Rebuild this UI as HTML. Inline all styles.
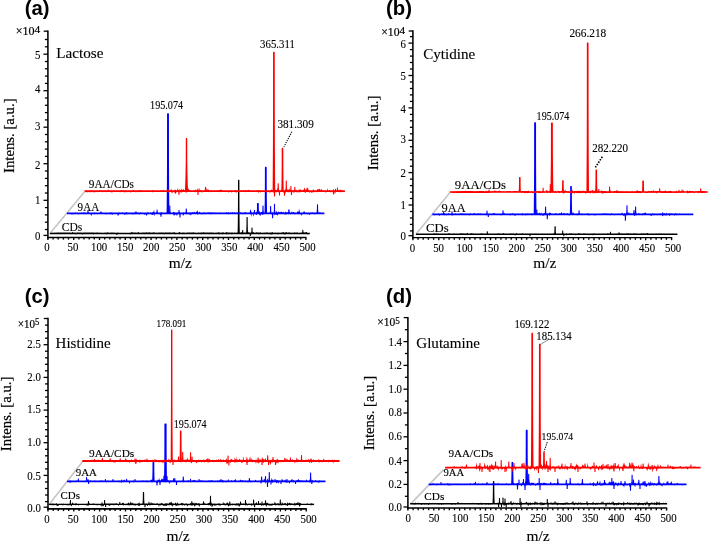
<!DOCTYPE html>
<html><head><meta charset="utf-8"><title>Mass spectra</title>
<style>html,body{margin:0;padding:0;background:#fff}svg{display:block}</style>
</head><body>
<svg width="709" height="544" viewBox="0 0 709 544" font-family='"Liberation Serif","DejaVu Serif",serif' fill="#000">
<rect width="709" height="544" fill="#fff"/>
<line x1="50.5" y1="232.8" x2="84.8" y2="191.6" stroke="#c6c6c6" stroke-width="1.6"/>
<line x1="47.9" y1="30.5" x2="47.9" y2="238.3" stroke="#000" stroke-width="1.55"/>
<line x1="47.1" y1="237.4" x2="306.5" y2="237.4" stroke="#000" stroke-width="1.45"/>
<line x1="43.5" y1="235.4" x2="47.9" y2="235.4" stroke="#000" stroke-width="1.3"/>
<line x1="44.9" y1="229.5" x2="47.9" y2="229.5" stroke="#000" stroke-width="1.3"/>
<line x1="44.9" y1="222.2" x2="47.9" y2="222.2" stroke="#000" stroke-width="1.3"/>
<line x1="44.9" y1="214.9" x2="47.9" y2="214.9" stroke="#000" stroke-width="1.3"/>
<line x1="44.9" y1="207.6" x2="47.9" y2="207.6" stroke="#000" stroke-width="1.3"/>
<line x1="43.5" y1="200.3" x2="47.9" y2="200.3" stroke="#000" stroke-width="1.3"/>
<line x1="44.9" y1="193.0" x2="47.9" y2="193.0" stroke="#000" stroke-width="1.3"/>
<line x1="44.9" y1="185.7" x2="47.9" y2="185.7" stroke="#000" stroke-width="1.3"/>
<line x1="44.9" y1="178.4" x2="47.9" y2="178.4" stroke="#000" stroke-width="1.3"/>
<line x1="44.9" y1="171.0" x2="47.9" y2="171.0" stroke="#000" stroke-width="1.3"/>
<line x1="43.5" y1="163.7" x2="47.9" y2="163.7" stroke="#000" stroke-width="1.3"/>
<line x1="44.9" y1="156.4" x2="47.9" y2="156.4" stroke="#000" stroke-width="1.3"/>
<line x1="44.9" y1="149.1" x2="47.9" y2="149.1" stroke="#000" stroke-width="1.3"/>
<line x1="44.9" y1="141.8" x2="47.9" y2="141.8" stroke="#000" stroke-width="1.3"/>
<line x1="44.9" y1="134.5" x2="47.9" y2="134.5" stroke="#000" stroke-width="1.3"/>
<line x1="43.5" y1="127.2" x2="47.9" y2="127.2" stroke="#000" stroke-width="1.3"/>
<line x1="44.9" y1="119.9" x2="47.9" y2="119.9" stroke="#000" stroke-width="1.3"/>
<line x1="44.9" y1="112.6" x2="47.9" y2="112.6" stroke="#000" stroke-width="1.3"/>
<line x1="44.9" y1="105.3" x2="47.9" y2="105.3" stroke="#000" stroke-width="1.3"/>
<line x1="44.9" y1="98.0" x2="47.9" y2="98.0" stroke="#000" stroke-width="1.3"/>
<line x1="43.5" y1="90.7" x2="47.9" y2="90.7" stroke="#000" stroke-width="1.3"/>
<line x1="44.9" y1="83.4" x2="47.9" y2="83.4" stroke="#000" stroke-width="1.3"/>
<line x1="44.9" y1="76.1" x2="47.9" y2="76.1" stroke="#000" stroke-width="1.3"/>
<line x1="44.9" y1="68.8" x2="47.9" y2="68.8" stroke="#000" stroke-width="1.3"/>
<line x1="44.9" y1="61.5" x2="47.9" y2="61.5" stroke="#000" stroke-width="1.3"/>
<line x1="43.5" y1="54.2" x2="47.9" y2="54.2" stroke="#000" stroke-width="1.3"/>
<line x1="44.9" y1="46.8" x2="47.9" y2="46.8" stroke="#000" stroke-width="1.3"/>
<line x1="44.9" y1="39.5" x2="47.9" y2="39.5" stroke="#000" stroke-width="1.3"/>
<line x1="43.7" y1="31.2" x2="47.9" y2="31.2" stroke="#000" stroke-width="1.3"/>
<text x="40.4" y="239.7" font-size="12" text-anchor="end" textLength="5.4" lengthAdjust="spacingAndGlyphs" stroke="#000" stroke-width="0.12">0</text>
<text x="40.4" y="204.4" font-size="12" text-anchor="end" textLength="5.4" lengthAdjust="spacingAndGlyphs" stroke="#000" stroke-width="0.12">1</text>
<text x="40.4" y="168.8" font-size="12" text-anchor="end" textLength="5.4" lengthAdjust="spacingAndGlyphs" stroke="#000" stroke-width="0.12">2</text>
<text x="40.4" y="129.5" font-size="12" text-anchor="end" textLength="5.4" lengthAdjust="spacingAndGlyphs" stroke="#000" stroke-width="0.12">3</text>
<text x="40.4" y="93.3" font-size="12" text-anchor="end" textLength="5.4" lengthAdjust="spacingAndGlyphs" stroke="#000" stroke-width="0.12">4</text>
<text x="40.4" y="59.4" font-size="12" text-anchor="end" textLength="5.4" lengthAdjust="spacingAndGlyphs" stroke="#000" stroke-width="0.12">5</text>
<line x1="47.9" y1="237.4" x2="47.9" y2="240.0" stroke="#000" stroke-width="1.35"/>
<text x="47.0" y="250.9" font-size="12.4" text-anchor="middle" textLength="5.4" lengthAdjust="spacingAndGlyphs" stroke="#000" stroke-width="0.12">0</text>
<line x1="53.1" y1="237.4" x2="53.1" y2="239.6" stroke="#000" stroke-width="1.35"/>
<line x1="58.2" y1="237.4" x2="58.2" y2="239.6" stroke="#000" stroke-width="1.35"/>
<line x1="63.4" y1="237.4" x2="63.4" y2="239.6" stroke="#000" stroke-width="1.35"/>
<line x1="68.5" y1="237.4" x2="68.5" y2="239.6" stroke="#000" stroke-width="1.35"/>
<line x1="73.7" y1="237.4" x2="73.7" y2="240.0" stroke="#000" stroke-width="1.35"/>
<text x="73.0" y="250.9" font-size="12.4" text-anchor="middle" textLength="10.8" lengthAdjust="spacingAndGlyphs" stroke="#000" stroke-width="0.12">50</text>
<line x1="78.9" y1="237.4" x2="78.9" y2="239.6" stroke="#000" stroke-width="1.35"/>
<line x1="84.0" y1="237.4" x2="84.0" y2="239.6" stroke="#000" stroke-width="1.35"/>
<line x1="89.2" y1="237.4" x2="89.2" y2="239.6" stroke="#000" stroke-width="1.35"/>
<line x1="94.3" y1="237.4" x2="94.3" y2="239.6" stroke="#000" stroke-width="1.35"/>
<line x1="99.5" y1="237.4" x2="99.5" y2="240.0" stroke="#000" stroke-width="1.35"/>
<text x="99.1" y="250.9" font-size="12.4" text-anchor="middle" textLength="16.2" lengthAdjust="spacingAndGlyphs" stroke="#000" stroke-width="0.12">100</text>
<line x1="104.7" y1="237.4" x2="104.7" y2="239.6" stroke="#000" stroke-width="1.35"/>
<line x1="109.8" y1="237.4" x2="109.8" y2="239.6" stroke="#000" stroke-width="1.35"/>
<line x1="115.0" y1="237.4" x2="115.0" y2="239.6" stroke="#000" stroke-width="1.35"/>
<line x1="120.1" y1="237.4" x2="120.1" y2="239.6" stroke="#000" stroke-width="1.35"/>
<line x1="125.3" y1="237.4" x2="125.3" y2="240.0" stroke="#000" stroke-width="1.35"/>
<text x="125.2" y="250.9" font-size="12.4" text-anchor="middle" textLength="16.2" lengthAdjust="spacingAndGlyphs" stroke="#000" stroke-width="0.12">150</text>
<line x1="130.5" y1="237.4" x2="130.5" y2="239.6" stroke="#000" stroke-width="1.35"/>
<line x1="135.6" y1="237.4" x2="135.6" y2="239.6" stroke="#000" stroke-width="1.35"/>
<line x1="140.8" y1="237.4" x2="140.8" y2="239.6" stroke="#000" stroke-width="1.35"/>
<line x1="145.9" y1="237.4" x2="145.9" y2="239.6" stroke="#000" stroke-width="1.35"/>
<line x1="151.1" y1="237.4" x2="151.1" y2="240.0" stroke="#000" stroke-width="1.35"/>
<text x="151.2" y="250.9" font-size="12.4" text-anchor="middle" textLength="16.2" lengthAdjust="spacingAndGlyphs" stroke="#000" stroke-width="0.12">200</text>
<line x1="156.3" y1="237.4" x2="156.3" y2="239.6" stroke="#000" stroke-width="1.35"/>
<line x1="161.4" y1="237.4" x2="161.4" y2="239.6" stroke="#000" stroke-width="1.35"/>
<line x1="166.6" y1="237.4" x2="166.6" y2="239.6" stroke="#000" stroke-width="1.35"/>
<line x1="171.7" y1="237.4" x2="171.7" y2="239.6" stroke="#000" stroke-width="1.35"/>
<line x1="176.9" y1="237.4" x2="176.9" y2="240.0" stroke="#000" stroke-width="1.35"/>
<text x="177.2" y="250.9" font-size="12.4" text-anchor="middle" textLength="16.2" lengthAdjust="spacingAndGlyphs" stroke="#000" stroke-width="0.12">250</text>
<line x1="182.1" y1="237.4" x2="182.1" y2="239.6" stroke="#000" stroke-width="1.35"/>
<line x1="187.2" y1="237.4" x2="187.2" y2="239.6" stroke="#000" stroke-width="1.35"/>
<line x1="192.4" y1="237.4" x2="192.4" y2="239.6" stroke="#000" stroke-width="1.35"/>
<line x1="197.5" y1="237.4" x2="197.5" y2="239.6" stroke="#000" stroke-width="1.35"/>
<line x1="202.7" y1="237.4" x2="202.7" y2="240.0" stroke="#000" stroke-width="1.35"/>
<text x="203.3" y="250.9" font-size="12.4" text-anchor="middle" textLength="16.2" lengthAdjust="spacingAndGlyphs" stroke="#000" stroke-width="0.12">300</text>
<line x1="207.9" y1="237.4" x2="207.9" y2="239.6" stroke="#000" stroke-width="1.35"/>
<line x1="213.0" y1="237.4" x2="213.0" y2="239.6" stroke="#000" stroke-width="1.35"/>
<line x1="218.2" y1="237.4" x2="218.2" y2="239.6" stroke="#000" stroke-width="1.35"/>
<line x1="223.3" y1="237.4" x2="223.3" y2="239.6" stroke="#000" stroke-width="1.35"/>
<line x1="228.5" y1="237.4" x2="228.5" y2="240.0" stroke="#000" stroke-width="1.35"/>
<text x="229.3" y="250.9" font-size="12.4" text-anchor="middle" textLength="16.2" lengthAdjust="spacingAndGlyphs" stroke="#000" stroke-width="0.12">350</text>
<line x1="233.7" y1="237.4" x2="233.7" y2="239.6" stroke="#000" stroke-width="1.35"/>
<line x1="238.8" y1="237.4" x2="238.8" y2="239.6" stroke="#000" stroke-width="1.35"/>
<line x1="244.0" y1="237.4" x2="244.0" y2="239.6" stroke="#000" stroke-width="1.35"/>
<line x1="249.1" y1="237.4" x2="249.1" y2="239.6" stroke="#000" stroke-width="1.35"/>
<line x1="254.3" y1="237.4" x2="254.3" y2="240.0" stroke="#000" stroke-width="1.35"/>
<text x="255.4" y="250.9" font-size="12.4" text-anchor="middle" textLength="16.2" lengthAdjust="spacingAndGlyphs" stroke="#000" stroke-width="0.12">400</text>
<line x1="259.5" y1="237.4" x2="259.5" y2="239.6" stroke="#000" stroke-width="1.35"/>
<line x1="264.6" y1="237.4" x2="264.6" y2="239.6" stroke="#000" stroke-width="1.35"/>
<line x1="269.8" y1="237.4" x2="269.8" y2="239.6" stroke="#000" stroke-width="1.35"/>
<line x1="274.9" y1="237.4" x2="274.9" y2="239.6" stroke="#000" stroke-width="1.35"/>
<line x1="280.1" y1="237.4" x2="280.1" y2="240.0" stroke="#000" stroke-width="1.35"/>
<text x="281.5" y="250.9" font-size="12.4" text-anchor="middle" textLength="16.2" lengthAdjust="spacingAndGlyphs" stroke="#000" stroke-width="0.12">450</text>
<line x1="285.3" y1="237.4" x2="285.3" y2="239.6" stroke="#000" stroke-width="1.35"/>
<line x1="290.4" y1="237.4" x2="290.4" y2="239.6" stroke="#000" stroke-width="1.35"/>
<line x1="295.6" y1="237.4" x2="295.6" y2="239.6" stroke="#000" stroke-width="1.35"/>
<line x1="300.7" y1="237.4" x2="300.7" y2="239.6" stroke="#000" stroke-width="1.35"/>
<line x1="305.9" y1="237.4" x2="305.9" y2="240.0" stroke="#000" stroke-width="1.35"/>
<text x="307.5" y="250.9" font-size="12.4" text-anchor="middle" textLength="16.2" lengthAdjust="spacingAndGlyphs" stroke="#000" stroke-width="0.12">500</text>
<polygon points="49.8,232.7 58.3,232.6 59.0,232.5 63.3,232.6 63.8,232.6 69.3,232.6 70.0,232.5 71.5,232.7 71.8,232.6 72.3,232.0 72.5,232.1 73.0,232.6 73.8,232.6 74.5,232.5 76.5,232.7 77.0,232.3 77.5,232.6 80.8,232.6 81.3,232.6 82.3,232.7 82.8,232.6 93.8,232.6 94.3,232.4 94.8,232.7 96.0,232.6 96.3,232.5 103.8,232.7 104.8,232.4 106.3,232.7 107.3,232.3 108.3,232.6 110.0,232.7 111.0,232.3 111.8,232.7 112.3,232.6 112.8,232.5 116.5,232.7 117.3,232.5 118.3,232.7 118.8,232.5 119.3,232.7 130.3,232.7 130.8,232.5 131.1,232.5 131.8,231.8 132.6,232.5 135.8,232.6 136.3,232.6 136.8,232.7 137.3,232.5 137.8,232.4 138.3,231.9 138.6,231.9 139.1,232.4 139.6,232.7 143.3,232.6 144.1,232.5 146.1,232.6 146.3,232.3 146.6,232.1 146.8,232.4 147.1,232.6 147.8,232.6 148.3,232.4 148.8,232.6 149.6,232.3 150.3,232.6 151.1,232.4 152.1,232.7 152.3,232.7 153.1,231.9 153.6,232.4 154.1,232.3 155.3,232.7 156.8,232.5 157.6,232.7 158.6,232.4 162.3,232.6 163.1,232.4 163.6,232.5 164.1,232.5 164.6,232.7 165.3,232.6 165.8,232.3 166.1,232.4 166.6,232.6 168.1,232.5 169.1,232.6 169.3,232.6 170.1,232.2 170.8,232.7 171.6,232.5 172.1,232.6 173.3,232.6 173.6,232.5 174.3,232.0 175.3,232.7 178.3,232.7 178.6,232.6 179.1,232.0 179.3,232.3 179.6,232.0 179.8,232.1 180.1,232.6 181.3,232.7 182.1,232.4 182.3,232.5 183.1,232.4 186.3,232.7 186.6,232.6 187.1,232.4 187.6,232.5 191.6,232.6 192.1,232.5 192.6,232.5 193.1,232.2 193.3,232.2 193.8,232.5 194.3,232.5 194.8,232.4 196.1,232.7 198.6,232.6 199.1,232.4 199.6,232.7 200.3,232.6 201.1,232.5 201.8,232.6 202.3,232.5 202.8,232.6 203.1,232.5 203.3,232.2 203.6,232.0 203.8,232.3 204.3,232.6 210.8,232.6 211.6,232.4 212.8,232.6 213.3,232.5 213.8,232.7 218.1,232.6 218.6,232.3 219.1,232.2 220.1,232.7 221.1,232.5 222.3,232.7 223.1,231.8 223.8,232.7 225.1,232.7 225.6,232.5 226.1,232.1 226.3,232.0 226.6,232.3 227.8,232.6 229.3,232.6 230.1,232.5 230.8,232.7 231.1,232.6 231.6,232.4 231.8,232.5 232.6,232.4 233.3,232.7 233.6,232.7 234.1,232.4 234.3,232.4 234.6,232.5 234.8,232.5 236.1,232.7 236.6,232.5 240.6,232.6 241.1,231.9 241.3,232.1 241.6,232.4 241.8,232.5 242.1,232.4 242.3,232.1 242.8,232.7 244.1,232.5 244.8,232.6 245.1,232.4 245.3,232.3 245.8,232.7 247.6,232.6 247.8,232.5 248.3,231.8 248.8,232.4 249.1,232.6 250.8,232.5 251.6,232.7 252.6,232.2 252.8,232.3 253.3,232.0 254.1,232.5 254.3,232.7 256.1,232.6 256.3,232.5 256.8,231.9 257.3,232.4 257.6,232.5 257.8,232.5 258.6,232.6 259.8,232.6 260.3,232.2 260.6,232.3 261.1,232.7 266.1,232.6 266.6,232.5 266.8,232.6 267.6,232.3 268.6,232.7 270.3,232.6 270.8,232.5 271.1,232.3 271.3,232.5 271.8,232.6 272.6,232.1 273.1,232.6 273.3,232.7 275.8,232.5 276.8,232.7 278.1,232.5 279.3,232.7 279.8,232.5 280.3,232.7 281.6,232.6 282.1,232.2 282.3,232.2 282.6,232.4 283.1,232.0 284.1,232.6 284.3,232.7 284.8,232.5 285.3,232.6 286.1,231.9 286.3,231.9 287.1,232.6 288.3,232.7 288.8,232.1 289.1,232.2 289.3,232.5 289.6,232.6 289.8,232.6 290.6,232.4 291.6,232.7 294.1,232.6 294.6,232.3 295.3,232.6 296.1,232.7 296.8,232.2 297.1,232.2 298.1,232.7 302.8,232.6 303.8,232.3 304.6,232.6 304.8,232.6 305.6,232.3 305.8,232.3 306.3,231.8 307.1,232.6 307.3,232.7 309.8,232.7 309.8,234.2 309.3,234.2 307.8,234.4 306.8,234.2 301.6,234.2 301.1,234.3 300.6,234.2 300.1,234.3 299.6,234.2 287.3,234.2 286.6,234.3 285.8,234.2 285.1,234.8 284.8,234.8 284.1,234.2 278.6,234.2 277.8,234.4 277.1,234.2 272.8,234.2 271.8,234.7 271.1,234.3 270.6,234.4 270.3,234.4 269.6,234.2 269.1,234.4 268.6,234.2 259.6,234.2 258.8,234.5 258.1,234.2 252.1,234.2 251.8,234.5 251.6,234.6 251.1,234.2 242.6,234.2 241.3,234.4 241.1,234.2 240.3,234.3 239.8,234.2 236.8,234.3 235.8,234.2 232.1,234.2 231.6,234.4 231.1,234.2 230.1,234.2 229.6,234.2 228.6,234.2 228.1,234.5 227.3,234.2 226.8,234.2 226.6,234.5 226.3,234.7 226.1,234.4 225.8,234.2 225.3,234.3 223.6,234.2 222.6,234.4 221.6,234.2 220.3,234.2 219.6,234.4 219.1,234.2 212.3,234.2 211.6,234.2 209.8,234.3 209.6,234.4 209.3,234.4 209.1,234.3 208.6,234.2 205.3,234.3 205.1,234.5 204.6,234.2 202.3,234.2 202.1,234.3 201.8,234.5 201.6,234.5 201.3,234.3 201.1,234.2 192.1,234.2 191.6,234.3 191.3,234.3 190.8,234.2 189.3,234.3 188.8,234.2 184.1,234.3 183.3,234.2 182.3,234.4 181.8,234.2 181.3,234.3 181.1,234.2 180.8,234.3 180.1,234.2 178.3,234.2 175.8,234.2 175.3,234.4 174.8,234.2 165.6,234.2 165.1,234.3 164.3,234.4 163.8,234.2 161.6,234.3 148.6,234.2 148.1,234.3 147.3,234.2 144.8,234.2 144.6,234.4 144.3,234.4 144.1,234.3 143.1,234.2 142.8,234.2 142.3,234.2 141.8,234.3 141.3,234.2 140.6,234.3 139.8,234.2 134.6,234.2 133.1,234.3 132.6,234.2 131.1,234.2 130.3,234.6 130.1,234.5 129.3,234.2 118.5,234.2 117.8,234.4 117.5,234.4 116.8,234.9 115.8,234.2 108.3,234.2 107.5,234.2 106.0,234.4 105.5,234.2 100.8,234.2 100.3,234.3 99.8,234.2 94.0,234.2 93.5,234.5 93.3,234.5 92.8,234.2 83.5,234.2 83.3,234.3 82.8,234.6 82.5,234.7 81.8,234.2 76.5,234.2 75.8,234.4 75.5,234.4 74.8,234.2 61.8,234.2 61.3,234.4 60.5,234.2 49.8,234.2" fill="#000000"/>
<polygon points="237.60,233.4 237.73,227.0 237.86,217.5 237.96,204.2 238.00,180.4 238.28,179.8 239.12,179.8 239.40,180.4 239.44,204.2 239.54,217.5 239.67,227.0 239.80,233.4" fill="#000000"/>
<polygon points="246.10,233.4 246.23,231.5 246.36,228.7 246.46,224.7 246.50,217.6 246.74,217.0 247.46,217.0 247.70,217.6 247.74,224.7 247.84,228.7 247.97,231.5 248.10,233.4" fill="#000000"/>
<polygon points="251.10,233.4 251.21,232.8 251.33,231.8 251.42,230.5 251.45,228.1 251.67,227.5 252.33,227.5 252.55,228.1 252.58,230.5 252.67,231.8 252.79,232.8 252.90,233.4" fill="#000000"/>
<polygon points="241.80,233.4 241.91,233.1 242.03,232.6 242.12,231.9 242.15,230.6 242.37,230.0 243.03,230.0 243.25,230.6 243.28,231.9 243.37,232.6 243.49,233.1 243.60,233.4" fill="#000000"/>
<polygon points="302.00,233.4 302.08,233.0 302.16,232.5 302.23,231.8 302.25,230.4 302.47,229.8 303.13,229.8 303.35,230.4 303.37,231.8 303.44,232.5 303.52,233.0 303.60,233.4" fill="#000000"/>
<polygon points="249.60,233.4 249.65,233.7 249.70,234.2 249.74,234.8 249.75,236.0 250.85,236.0 250.86,234.8 250.90,234.2 250.95,233.7 251.00,233.4" fill="#000000"/>
<polygon points="66.9,212.6 74.9,212.6 75.4,212.2 75.7,212.2 76.2,212.5 81.2,212.5 81.7,212.3 82.2,212.5 83.2,212.6 83.9,212.0 84.7,212.6 89.9,212.5 93.7,212.6 94.4,212.2 95.2,212.5 99.4,212.6 100.4,212.3 101.4,212.6 102.9,212.4 110.4,212.6 110.9,212.1 111.2,212.0 111.7,212.5 118.2,212.5 119.2,212.3 119.9,212.5 120.7,212.4 121.7,212.6 122.2,212.0 122.7,212.6 125.2,212.6 125.9,212.3 126.4,211.9 127.2,212.5 128.9,212.4 129.4,212.4 130.2,212.6 133.9,212.5 134.7,212.3 139.7,212.6 139.9,212.5 140.2,212.2 140.4,212.1 140.9,212.6 141.4,212.5 143.4,212.5 143.9,212.4 146.4,212.5 147.4,212.4 147.7,212.0 147.9,211.8 148.4,212.6 150.2,212.6 150.7,212.3 150.9,212.3 151.2,212.5 151.9,212.6 152.9,212.1 153.4,212.3 153.9,209.7 154.2,210.4 154.4,211.9 154.7,212.5 155.9,212.6 156.2,212.4 156.9,209.0 157.2,209.0 157.9,212.4 158.2,212.6 159.7,212.5 160.2,212.4 160.9,212.3 161.2,212.4 161.4,212.3 161.7,212.0 161.9,212.1 162.4,212.6 165.9,212.6 166.4,212.3 166.7,212.4 167.7,211.9 167.9,212.0 168.7,212.5 168.9,212.5 169.4,212.2 169.7,212.1 170.2,212.4 170.4,212.4 171.2,212.6 171.9,212.4 172.7,212.6 173.2,212.0 173.4,212.1 173.9,211.7 174.9,212.5 176.9,212.6 177.4,212.3 177.9,212.5 178.4,212.6 179.4,212.1 180.2,212.5 183.2,212.6 183.4,212.4 183.9,212.1 184.2,212.3 184.9,212.6 188.4,212.5 189.2,212.3 189.9,212.5 190.7,212.3 191.2,212.4 191.4,212.2 191.9,212.5 192.4,212.1 192.7,212.1 193.2,212.5 193.4,212.4 193.7,212.0 193.9,212.0 194.2,212.0 194.4,211.4 194.9,212.4 195.2,212.5 195.9,212.3 196.2,212.1 196.4,212.1 197.2,210.3 197.4,210.4 197.7,211.4 197.9,212.1 198.2,212.6 198.4,212.6 198.7,212.4 198.9,211.9 199.2,211.9 199.4,211.7 199.7,211.7 200.4,212.6 202.7,212.5 203.4,212.3 204.2,212.4 204.4,212.2 204.7,212.2 205.2,212.5 205.7,212.6 206.2,212.3 206.4,212.4 206.7,212.5 207.2,212.5 207.9,212.3 218.9,212.5 219.2,212.3 219.4,212.1 219.7,212.4 219.9,212.6 225.2,212.6 225.9,212.3 226.4,212.4 226.7,212.0 226.9,212.0 227.2,212.3 227.9,212.5 228.4,212.0 228.7,212.1 228.9,212.4 229.2,212.5 229.7,212.4 230.2,212.5 230.7,212.3 230.9,212.3 231.7,212.6 231.9,212.6 232.2,212.4 232.4,212.2 232.7,211.8 232.9,212.0 233.2,212.5 233.4,212.6 233.7,212.4 234.2,211.9 234.9,212.6 236.2,212.5 236.9,212.3 237.9,212.6 238.9,212.5 239.7,212.3 240.2,212.4 240.7,212.1 240.9,212.1 241.4,212.4 241.7,212.4 243.4,212.6 243.7,212.5 243.9,212.3 244.2,212.3 244.4,212.5 245.2,212.0 245.4,211.9 246.2,212.5 246.7,212.4 247.2,212.5 247.9,212.5 249.2,212.6 249.4,212.5 249.7,212.3 250.4,209.5 250.7,209.2 251.4,212.0 251.9,212.6 253.4,212.6 253.9,212.1 254.2,212.2 254.4,212.5 254.7,212.6 255.7,212.6 255.9,212.5 256.6,211.7 256.9,211.8 257.6,212.6 257.9,212.4 258.1,211.8 258.4,211.8 258.6,212.3 259.4,211.3 259.6,211.6 259.9,211.6 260.4,212.5 260.6,212.4 261.4,211.9 261.6,212.0 261.9,212.0 262.1,211.5 262.4,211.4 262.9,212.5 263.1,212.6 264.1,212.5 264.6,212.4 265.1,212.6 267.4,212.5 267.9,212.4 268.6,212.5 269.1,212.3 269.4,212.4 269.9,212.6 271.4,212.5 272.1,212.3 272.4,212.3 272.9,212.2 273.6,212.5 273.9,212.5 274.1,211.9 274.4,211.0 274.6,210.6 275.1,212.3 275.4,212.6 275.6,212.6 275.9,212.4 276.4,210.4 276.9,212.2 277.6,212.6 278.1,211.4 278.4,211.3 278.6,211.9 278.9,212.3 279.1,212.1 279.6,212.2 280.1,211.7 280.6,212.3 280.9,212.3 281.4,211.8 281.6,211.6 282.1,212.2 282.4,212.4 282.9,211.7 283.1,211.5 283.9,212.5 284.6,212.6 284.9,212.4 285.6,211.5 286.4,212.3 286.6,212.2 286.9,212.3 287.1,212.4 287.4,212.3 287.9,211.9 288.1,212.1 288.4,211.8 288.6,209.9 288.9,209.6 289.1,211.5 289.4,212.6 291.1,212.6 291.4,212.3 291.9,211.3 292.1,211.4 292.6,212.4 293.4,211.9 293.9,212.0 294.4,212.4 294.6,212.6 296.9,212.5 297.6,211.3 298.1,212.1 298.4,212.0 299.1,208.9 299.9,212.1 300.1,212.6 302.9,212.6 303.1,212.4 303.9,211.2 304.1,211.0 304.9,212.3 305.1,212.5 305.6,212.4 305.9,212.5 306.4,212.4 310.1,212.6 310.6,212.3 310.9,212.3 311.4,212.6 312.9,212.2 313.9,212.6 316.4,212.5 316.9,212.3 317.4,212.5 318.6,212.5 319.4,212.2 319.6,211.9 319.9,212.3 320.4,212.3 320.6,212.5 324.4,212.6 324.4,214.2 315.9,214.3 315.6,214.4 315.4,214.4 315.1,214.3 314.9,214.2 314.4,214.4 313.6,214.2 310.4,214.2 310.1,214.5 309.6,215.3 308.9,214.2 307.1,214.4 306.6,214.3 302.4,214.2 302.1,214.7 301.9,215.5 301.6,215.8 301.1,214.4 300.9,214.2 300.1,214.6 299.4,214.2 298.4,214.6 297.4,214.2 295.6,214.3 294.9,214.6 294.6,214.6 293.9,214.3 291.4,214.2 290.6,214.6 290.1,214.3 289.1,214.2 288.1,214.5 287.4,214.3 287.1,214.2 286.1,214.5 285.6,214.4 285.1,214.8 284.9,214.7 284.4,214.3 284.1,214.2 278.4,214.2 278.1,214.4 277.4,215.5 277.1,215.4 276.9,215.1 276.4,214.7 275.6,214.4 275.4,214.5 274.9,215.5 274.1,214.2 272.6,214.2 271.9,214.6 271.1,214.2 263.6,214.2 263.4,214.5 262.9,215.1 262.1,214.4 261.9,214.4 261.4,214.3 261.1,214.6 260.9,216.0 260.6,216.1 260.4,214.6 260.1,214.9 259.9,215.5 259.6,215.3 259.1,214.2 257.4,214.2 257.1,214.4 256.4,215.1 256.1,215.1 255.4,214.3 255.2,214.2 253.9,214.2 253.7,214.9 253.4,216.6 253.2,216.5 252.9,214.8 252.7,214.2 251.7,214.2 251.2,217.0 250.7,214.2 244.9,214.2 244.2,214.5 243.4,214.2 242.9,214.2 242.4,214.5 242.2,214.4 241.9,214.3 241.7,214.2 229.4,214.2 228.7,214.6 227.9,214.3 211.9,214.2 210.9,214.5 209.9,214.2 205.7,214.2 204.9,214.4 204.2,214.2 201.2,214.4 200.4,214.3 198.4,214.2 197.7,214.6 197.4,214.7 196.7,214.3 191.7,214.2 191.4,214.4 190.9,215.7 190.4,214.4 190.2,214.4 189.7,214.8 188.9,214.2 186.9,214.4 186.2,214.3 184.2,214.3 183.4,215.2 183.2,216.0 182.9,215.6 182.4,214.2 177.7,214.3 176.9,216.0 176.7,215.6 176.2,214.5 175.9,214.3 175.2,214.9 174.7,214.7 174.2,215.8 173.9,215.7 173.2,214.2 165.7,214.3 164.7,214.6 164.2,214.3 163.9,214.2 161.2,214.2 160.9,214.8 160.7,215.1 160.4,214.5 160.2,214.3 159.9,214.4 159.4,214.3 154.9,214.2 154.7,214.4 154.4,215.4 154.2,215.9 153.9,214.9 153.7,214.2 152.7,215.0 152.2,214.7 151.9,214.8 151.7,214.6 151.4,214.8 150.9,214.3 150.7,214.2 148.9,214.2 147.9,214.5 147.2,214.3 146.4,215.9 146.2,215.7 145.7,214.5 145.4,214.3 145.2,214.3 144.9,214.4 144.4,214.7 144.2,214.7 143.7,214.3 143.4,214.2 139.9,214.3 139.4,214.7 139.2,214.8 138.7,214.4 138.4,214.2 131.9,214.4 131.2,214.3 125.2,214.4 124.7,214.7 124.4,214.7 123.9,214.3 123.7,214.2 119.2,214.2 118.9,214.5 118.2,216.1 117.9,215.8 117.2,214.3 112.9,214.3 112.7,214.4 112.2,215.0 111.9,214.7 111.2,214.2 109.7,214.4 108.9,214.2 105.4,214.4 104.9,214.3 98.2,214.2 97.2,214.5 96.4,214.2 95.2,214.2 94.7,214.4 94.4,214.4 93.9,214.2 92.2,214.2 91.9,214.5 91.4,215.8 91.2,215.9 90.7,214.7 90.4,214.2 86.9,214.2 86.2,214.5 85.4,214.2 83.9,214.2 83.4,214.6 82.9,214.2 79.7,214.2 78.7,214.5 77.2,214.2 71.2,214.4 70.7,214.3 66.9,214.2" fill="#0000ff"/>
<polygon points="166.60,213.4 166.74,201.4 166.90,183.5 167.01,158.6 167.05,113.8 167.43,113.2 168.57,113.2 168.95,113.8 168.99,158.6 169.10,183.5 169.26,201.4 169.40,213.4" fill="#0000ff"/>
<polygon points="264.50,213.4 264.63,207.9 264.76,199.6 264.86,188.1 264.90,167.4 265.26,166.8 266.34,166.8 266.70,167.4 266.74,188.1 266.84,199.6 266.97,207.9 267.10,213.4" fill="#0000ff"/>
<polygon points="256.60,213.4 256.73,212.2 256.86,210.5 256.96,208.0 257.00,203.6 257.36,203.0 258.44,203.0 258.80,203.6 258.84,208.0 258.94,210.5 259.07,212.2 259.20,213.4" fill="#0000ff"/>
<polygon points="253.50,213.4 253.64,213.1 253.80,212.6 253.91,211.9 253.95,210.6 254.17,210.0 254.83,210.0 255.05,210.6 255.09,211.9 255.20,212.6 255.36,213.1 255.50,213.4" fill="#0000ff"/>
<polygon points="262.00,213.4 262.14,212.5 262.30,211.2 262.41,209.4 262.45,206.1 262.67,205.5 263.33,205.5 263.55,206.1 263.59,209.4 263.70,211.2 263.86,212.5 264.00,213.4" fill="#0000ff"/>
<polygon points="269.70,213.4 269.81,212.6 269.93,211.4 270.02,209.7 270.05,206.6 270.27,206.0 270.93,206.0 271.15,206.6 271.18,209.7 271.27,211.4 271.39,212.6 271.50,213.4" fill="#0000ff"/>
<polygon points="271.70,213.4 271.81,214.0 271.93,214.9 272.02,216.1 272.05,218.3 273.15,218.3 273.18,216.1 273.27,214.9 273.39,214.0 273.50,213.4" fill="#0000ff"/>
<polygon points="273.60,213.4 273.71,212.3 273.83,210.7 273.92,208.5 273.95,204.4 274.17,203.8 274.83,203.8 275.05,204.4 275.08,208.5 275.17,210.7 275.29,212.3 275.40,213.4" fill="#0000ff"/>
<polygon points="316.40,213.4 316.58,212.4 316.76,210.8 316.90,208.7 316.95,204.9 317.17,204.3 317.83,204.3 318.05,204.9 318.10,208.7 318.24,210.8 318.42,212.4 318.60,213.4" fill="#0000ff"/>
<polygon points="87.00,213.4 87.14,213.0 87.30,212.5 87.41,211.8 87.45,210.4 87.67,209.8 88.33,209.8 88.55,210.4 88.59,211.8 88.70,212.5 88.86,213.0 89.00,213.4" fill="#0000ff"/>
<polygon points="168.80,213.4 168.94,212.5 169.10,211.2 169.21,209.4 169.25,206.1 169.47,205.5 170.13,205.5 170.35,206.1 170.39,209.4 170.50,211.2 170.66,212.5 170.80,213.4" fill="#0000ff"/>
<polygon points="159.80,213.4 160.01,213.8 160.23,214.4 160.39,215.3 160.45,216.8 161.55,216.8 161.61,215.3 161.77,214.4 161.99,213.8 162.20,213.4" fill="#0000ff"/>
<polygon points="179.10,213.4 179.21,213.9 179.33,214.6 179.42,215.7 179.45,217.5 180.55,217.5 180.58,215.7 180.67,214.6 180.79,213.9 180.90,213.4" fill="#0000ff"/>
<polygon points="185.10,213.4 185.31,212.9 185.53,212.1 185.69,211.0 185.75,209.1 185.97,208.5 186.63,208.5 186.85,209.1 186.91,211.0 187.07,212.1 187.29,212.9 187.50,213.4" fill="#0000ff"/>
<polygon points="178.10,213.4 178.21,213.1 178.33,212.6 178.42,211.9 178.45,210.6 178.67,210.0 179.33,210.0 179.55,210.6 179.58,211.9 179.67,212.6 179.79,213.1 179.90,213.4" fill="#0000ff"/>
<polygon points="100.20,213.4 100.28,213.2 100.36,213.0 100.43,212.6 100.45,211.9 100.67,211.3 101.33,211.3 101.55,211.9 101.57,212.6 101.64,213.0 101.72,213.2 101.80,213.4" fill="#0000ff"/>
<polygon points="135.20,213.4 135.28,213.2 135.36,213.0 135.43,212.6 135.45,211.9 135.67,211.3 136.33,211.3 136.55,211.9 136.57,212.6 136.64,213.0 136.72,213.2 136.80,213.4" fill="#0000ff"/>
<polygon points="288.00,213.4 288.14,213.0 288.30,212.3 288.41,211.5 288.45,209.9 288.67,209.3 289.33,209.3 289.55,209.9 289.59,211.5 289.70,212.3 289.86,213.0 290.00,213.4" fill="#0000ff"/>
<polygon points="84.6,190.3 85.8,190.3 86.3,190.1 86.8,190.3 87.3,190.2 89.6,190.3 90.1,190.0 90.6,190.3 99.3,190.3 100.1,190.1 100.8,190.3 102.8,190.3 103.3,190.2 103.8,190.3 107.3,190.3 107.6,190.3 108.1,189.6 108.3,189.5 108.8,190.2 109.3,190.3 116.8,190.3 117.3,190.2 119.1,190.3 119.8,190.2 120.3,190.3 121.3,190.1 122.3,190.3 123.3,190.3 124.1,189.9 124.8,190.3 132.3,190.3 133.1,189.7 133.3,189.8 134.1,190.3 138.1,190.3 138.6,190.2 138.8,190.3 139.1,190.2 139.6,189.7 140.1,190.3 140.3,190.3 141.1,190.1 141.3,190.0 142.1,190.3 145.6,190.3 146.1,190.2 148.3,190.3 148.8,190.1 149.3,190.3 150.6,190.3 151.3,190.2 151.8,190.3 152.6,190.0 153.6,190.3 160.3,190.3 160.8,190.0 161.3,190.3 161.8,190.2 162.6,190.3 163.1,189.8 163.3,189.8 163.6,190.1 163.8,190.3 164.1,190.2 167.6,190.3 167.8,190.1 168.1,189.4 168.3,189.0 168.6,189.7 168.8,190.0 169.1,189.8 169.3,189.9 169.8,190.3 170.6,190.3 171.1,188.2 171.6,190.2 173.1,190.3 173.6,190.2 174.3,190.3 175.1,189.5 175.3,189.4 176.1,190.2 176.3,190.3 176.8,190.3 177.1,190.3 177.6,188.5 177.8,188.3 178.3,190.0 178.6,190.0 179.1,190.2 179.3,189.9 179.6,189.4 179.8,189.1 180.3,190.1 180.6,190.1 181.1,190.1 181.6,189.2 181.8,188.3 182.3,190.1 182.6,189.9 183.1,189.0 183.3,188.9 184.1,190.2 184.3,190.3 184.8,189.8 185.1,189.9 185.3,189.8 185.6,189.6 185.8,189.5 186.3,190.0 186.6,190.1 186.8,189.8 187.1,189.9 187.3,189.8 187.6,190.0 187.8,189.7 188.3,188.5 188.6,188.8 189.1,190.0 189.3,189.9 189.6,190.0 189.8,189.9 190.6,190.3 193.8,190.3 194.3,190.0 194.8,190.3 195.1,190.3 195.3,190.1 195.8,189.2 196.3,190.1 196.6,190.3 196.8,190.3 197.1,189.9 197.6,187.9 198.1,190.3 198.3,190.3 199.1,187.6 199.6,189.7 199.8,190.3 200.6,190.1 201.6,190.3 205.1,190.3 206.3,190.0 206.8,187.7 207.1,188.4 207.3,189.6 207.8,190.1 208.1,189.7 208.3,189.5 208.6,189.5 209.3,190.3 210.6,190.3 211.3,190.0 212.1,190.3 213.8,190.3 214.1,190.3 214.3,190.0 214.6,189.9 214.8,190.3 215.1,190.3 216.8,190.3 217.6,190.0 217.8,190.0 218.6,190.3 219.1,190.1 219.3,190.2 219.8,189.8 220.1,189.9 220.3,190.1 220.6,190.1 221.1,189.3 221.3,189.4 221.8,190.1 222.1,190.3 223.6,190.3 224.3,190.3 228.6,190.3 229.3,190.2 229.6,190.3 230.8,190.3 231.3,190.0 231.8,190.3 235.1,190.3 235.6,189.8 236.1,190.3 237.1,190.2 238.8,190.3 240.8,190.3 241.3,190.1 241.6,190.1 242.1,190.3 243.1,190.3 243.3,190.3 243.6,190.1 243.8,190.1 244.1,190.3 244.6,190.3 245.1,190.1 245.6,190.0 245.8,189.9 246.8,190.3 247.3,190.3 248.1,189.8 248.3,189.7 249.1,190.3 249.3,190.3 249.8,190.1 250.3,190.3 256.9,190.3 257.6,190.1 258.4,190.3 259.1,189.8 259.9,190.2 265.4,190.3 266.4,190.0 267.4,190.3 270.4,190.3 270.6,190.3 271.4,189.6 271.6,189.6 272.1,190.0 272.9,190.3 273.4,187.4 273.9,190.3 274.9,190.3 275.1,190.1 275.6,189.6 276.1,190.0 276.4,190.1 276.9,189.9 277.1,189.9 277.4,189.4 277.9,188.1 278.1,188.1 278.9,190.1 279.1,190.2 279.6,190.3 281.1,190.3 281.4,190.2 282.1,189.1 282.4,189.2 283.1,190.3 283.9,190.3 284.6,190.2 284.9,190.0 285.4,189.3 285.6,189.4 286.1,190.1 286.4,190.3 287.1,190.3 287.4,190.1 287.6,189.3 287.9,188.7 288.1,189.5 288.4,190.0 288.6,190.0 289.1,188.7 289.4,188.5 289.9,189.8 290.1,190.2 290.6,190.1 291.1,190.3 291.9,189.7 292.6,190.3 293.9,190.3 294.6,190.0 295.1,190.0 295.6,190.2 295.9,190.1 296.4,189.8 296.9,190.2 297.6,190.3 298.4,190.3 299.1,189.0 299.6,189.9 299.9,190.0 300.4,189.3 300.6,189.2 301.4,190.2 301.6,190.3 302.6,190.3 302.9,189.5 303.1,189.1 303.4,189.9 303.6,190.3 303.9,189.8 304.6,187.2 305.4,189.8 305.6,190.3 305.9,190.3 306.1,189.9 306.9,187.6 307.1,187.7 307.4,188.5 307.6,188.1 307.9,187.5 308.4,189.7 308.6,190.0 309.1,190.3 312.6,190.3 312.9,190.0 313.1,189.4 313.4,189.0 313.9,190.2 314.1,190.3 316.6,190.3 316.9,190.3 317.6,189.1 318.1,188.9 318.4,189.1 318.6,189.8 318.9,189.6 319.1,189.2 319.4,189.2 319.9,188.3 320.4,190.0 320.6,190.2 321.4,189.1 321.6,189.2 322.4,190.3 323.9,190.3 324.4,190.2 325.4,190.3 326.4,190.2 327.1,190.3 327.4,189.6 327.6,188.0 327.9,188.9 328.1,190.3 328.9,190.3 329.4,190.1 330.4,190.3 332.6,190.3 332.9,190.1 333.4,188.7 333.9,190.1 334.1,190.3 334.6,190.2 334.9,190.3 335.1,190.1 335.4,189.6 335.6,189.6 335.9,190.2 336.1,190.3 337.1,190.3 338.1,190.3 338.9,190.1 339.4,190.2 340.1,189.6 340.4,189.8 340.6,189.9 340.9,189.6 341.1,189.7 341.6,190.3 344.9,190.3 344.9,192.0 343.1,192.0 342.6,192.2 341.9,192.0 340.9,192.1 340.1,192.5 339.4,192.1 335.9,192.0 335.6,192.3 335.1,194.0 334.9,193.9 334.4,192.2 334.1,192.0 332.6,192.0 332.1,192.2 331.9,192.1 331.6,192.2 331.1,192.1 330.9,192.2 330.6,192.3 330.4,192.3 329.9,192.0 326.6,192.0 325.9,192.5 325.6,192.6 324.9,192.1 324.6,192.0 317.6,192.0 317.1,192.3 316.9,192.4 316.4,192.1 314.9,192.0 314.4,192.3 314.1,192.3 313.9,192.2 312.9,192.0 311.9,193.0 311.1,192.2 310.9,192.0 310.6,192.0 310.1,192.2 309.4,192.8 308.6,192.0 306.4,192.1 305.6,192.8 305.4,192.7 305.1,192.5 304.6,192.4 304.4,192.1 304.1,192.0 300.9,192.1 300.1,192.3 299.6,192.2 299.1,192.6 298.1,192.1 297.9,192.1 297.1,192.4 296.1,192.1 295.4,192.1 294.6,192.4 294.1,192.2 293.4,192.4 293.1,192.6 292.6,192.1 287.6,192.2 287.1,192.1 285.9,192.0 285.6,192.6 285.1,194.1 284.9,194.0 284.4,192.4 284.1,192.2 283.9,192.5 283.6,192.7 283.1,192.0 280.1,192.0 279.4,194.4 278.6,192.0 276.9,192.0 276.4,192.4 276.1,192.4 275.9,192.3 275.6,192.4 275.4,192.1 275.1,192.1 274.4,192.9 274.1,193.0 273.4,192.2 273.1,192.1 272.6,192.2 272.4,192.2 271.9,192.1 271.4,192.1 270.4,192.5 270.1,192.3 269.6,192.5 268.9,192.0 268.1,192.0 267.4,192.2 267.1,192.2 266.4,192.2 265.6,192.1 264.4,192.1 264.1,192.3 263.9,192.3 263.6,192.1 263.4,192.0 261.1,192.0 260.9,192.1 260.6,192.4 260.4,192.6 260.1,192.2 259.9,192.0 259.4,192.0 259.1,192.2 258.6,193.1 258.1,192.1 257.9,192.0 246.1,192.0 245.6,192.2 245.1,192.0 238.1,192.1 237.1,192.0 236.8,192.2 236.3,192.8 235.8,192.2 235.6,192.3 235.1,192.1 232.3,192.1 231.6,192.5 230.8,192.1 229.3,192.0 228.8,192.4 228.6,192.5 228.1,192.0 219.6,192.0 219.1,192.3 218.6,192.0 210.8,192.1 210.1,192.1 209.3,192.2 208.8,192.1 202.8,192.1 201.8,192.4 200.8,192.0 196.3,192.0 195.3,192.3 194.3,192.0 186.8,192.0 186.3,192.7 186.1,192.9 185.6,192.2 185.3,192.0 183.1,192.0 182.6,192.3 182.1,192.1 181.8,192.3 181.6,192.3 181.1,192.7 180.8,192.5 180.3,192.1 180.1,192.0 179.1,192.2 178.1,192.0 176.6,192.1 175.8,193.7 175.6,193.9 175.3,193.4 175.1,193.3 174.8,192.9 174.6,192.8 174.1,192.1 173.3,192.0 172.8,192.1 172.3,193.5 172.1,193.2 171.8,192.6 171.6,192.6 171.3,192.4 171.1,192.2 170.8,192.0 169.1,192.0 168.3,192.6 168.1,192.6 167.3,192.0 153.6,192.0 152.8,192.3 151.8,192.0 141.8,192.1 141.1,192.3 140.3,192.1 138.8,192.0 138.1,192.3 137.3,192.0 136.6,192.1 136.1,192.2 135.6,192.1 135.3,192.2 135.1,192.2 134.8,192.1 131.6,192.0 130.6,192.4 129.8,192.1 123.6,192.2 123.1,192.1 120.6,192.0 120.1,192.6 119.6,192.0 115.1,192.1 114.6,192.1 112.8,192.1 112.1,192.5 111.8,192.5 111.3,192.3 111.1,192.3 110.6,192.1 106.8,192.0 106.1,192.2 105.3,192.0 103.3,192.1 102.8,192.3 102.6,192.3 102.1,192.0 98.1,192.1 97.3,192.2 96.8,192.1 94.3,192.2 93.8,192.2 93.1,192.3 92.3,192.1 89.8,192.2 89.3,192.1 87.6,192.2 84.6,192.0" fill="#ff0000"/>
<polygon points="272.60,191.2 272.74,174.5 272.90,149.6 273.01,114.9 273.05,52.4 273.39,51.8 274.41,51.8 274.75,52.4 274.79,114.9 274.90,149.6 275.06,174.5 275.20,191.2" fill="#ff0000"/>
<polygon points="281.30,191.2 281.43,186.1 281.56,178.3 281.66,167.6 281.70,148.3 282.02,147.7 282.98,147.7 283.30,148.3 283.34,167.6 283.44,178.3 283.57,186.1 283.70,191.2" fill="#ff0000"/>
<polygon points="184.90,191.2 185.19,184.9 185.49,175.4 185.72,162.3 185.80,138.7 186.08,138.1 186.92,138.1 187.20,138.7 187.28,162.3 187.51,175.4 187.81,184.9 188.10,191.2" fill="#ff0000"/>
<polygon points="277.00,191.2 277.21,190.3 277.43,189.0 277.59,187.1 277.65,183.8 277.87,183.2 278.53,183.2 278.75,183.8 278.81,187.1 278.97,189.0 279.19,190.3 279.40,191.2" fill="#ff0000"/>
<polygon points="285.30,191.2 285.44,190.0 285.60,188.2 285.71,185.6 285.75,181.1 285.97,180.5 286.63,180.5 286.85,181.1 286.89,185.6 287.00,188.2 287.16,190.0 287.30,191.2" fill="#ff0000"/>
<polygon points="290.00,191.2 290.11,190.6 290.23,189.8 290.32,188.7 290.35,186.6 290.57,186.0 291.23,186.0 291.45,186.6 291.48,188.7 291.57,189.8 291.69,190.6 291.80,191.2" fill="#ff0000"/>
<polygon points="293.90,191.2 294.01,190.8 294.13,190.1 294.22,189.2 294.25,187.6 294.47,187.0 295.13,187.0 295.35,187.6 295.38,189.2 295.47,190.1 295.59,190.8 295.70,191.2" fill="#ff0000"/>
<polygon points="273.60,191.2 273.71,191.8 273.83,192.8 273.92,194.1 273.95,196.5 275.05,196.5 275.08,194.1 275.17,192.8 275.29,191.8 275.40,191.2" fill="#ff0000"/>
<polygon points="278.70,191.2 278.78,191.7 278.86,192.5 278.93,193.6 278.95,195.5 280.05,195.5 280.07,193.6 280.14,192.5 280.22,191.7 280.30,191.2" fill="#ff0000"/>
<polygon points="283.70,191.2 283.78,191.8 283.86,192.6 283.93,193.7 283.95,195.8 285.05,195.8 285.07,193.7 285.14,192.6 285.22,191.8 285.30,191.2" fill="#ff0000"/>
<polygon points="290.70,191.2 290.78,191.7 290.86,192.3 290.93,193.3 290.95,195.0 292.05,195.0 292.07,193.3 292.14,192.3 292.22,191.7 292.30,191.2" fill="#ff0000"/>
<polygon points="204.30,191.2 204.51,190.7 204.73,190.1 204.89,189.1 204.95,187.4 205.17,186.8 205.83,186.8 206.05,187.4 206.11,189.1 206.27,190.1 206.49,190.7 206.70,191.2" fill="#ff0000"/>
<polygon points="197.20,191.2 197.28,191.7 197.36,192.3 197.43,193.3 197.45,195.0 198.55,195.0 198.57,193.3 198.64,192.3 198.72,191.7 198.80,191.2" fill="#ff0000"/>
<polygon points="178.00,191.2 178.14,191.6 178.30,192.3 178.41,193.2 178.45,194.8 179.55,194.8 179.59,193.2 179.70,192.3 179.86,191.6 180.00,191.2" fill="#ff0000"/>
<polygon points="332.70,191.2 332.78,191.6 332.86,192.2 332.93,193.0 332.95,194.5 334.05,194.5 334.07,193.0 334.14,192.2 334.22,191.6 334.30,191.2" fill="#ff0000"/>
<polygon points="336.60,191.2 336.71,190.8 336.83,190.3 336.92,189.5 336.95,188.1 337.17,187.5 337.83,187.5 338.05,188.1 338.08,189.5 338.17,190.3 338.29,190.8 338.40,191.2" fill="#ff0000"/>
<polygon points="334.70,191.2 334.78,191.0 334.86,190.7 334.93,190.2 334.95,189.4 335.17,188.8 335.83,188.8 336.05,189.4 336.07,190.2 336.14,190.7 336.22,191.0 336.30,191.2" fill="#ff0000"/>
<text x="61.7" y="230.7" font-size="13.0" textLength="20.5" lengthAdjust="spacingAndGlyphs" stroke="#000" stroke-width="0.12">CDs</text>
<text x="77.6" y="210.9" font-size="13.0" textLength="21.6" lengthAdjust="spacingAndGlyphs" stroke="#000" stroke-width="0.12">9AA</text>
<text x="88.8" y="188.0" font-size="13.0" textLength="45.2" lengthAdjust="spacingAndGlyphs" stroke="#000" stroke-width="0.12">9AA/CDs</text>
<text x="150.1" y="109.1" font-size="11.8" textLength="33.0" lengthAdjust="spacingAndGlyphs" stroke="#000" stroke-width="0.12">195.074</text>
<text x="260.1" y="48.4" font-size="12.2" textLength="34.7" lengthAdjust="spacingAndGlyphs" stroke="#000" stroke-width="0.12">365.311</text>
<text x="277.4" y="127.5" font-size="12.6" textLength="36.4" lengthAdjust="spacingAndGlyphs" stroke="#000" stroke-width="0.12">381.309</text>
<line x1="291.8" y1="131.8" x2="283.9" y2="146.8" stroke="#000" stroke-width="1.1" stroke-dasharray="1.2,1.1"/>
<text x="56.3" y="57.6" font-size="15.6" textLength="47.2" lengthAdjust="spacingAndGlyphs" stroke="#000" stroke-width="0.12">Lactose</text>
<text x="15.7" y="34.7" font-size="12" stroke="#000" stroke-width="0.2" textLength="24.6" lengthAdjust="spacingAndGlyphs">×10<tspan dy="-2.0" font-size="11.4">4</tspan></text>
<text transform="translate(14.0,135.7) rotate(-90)" font-size="15.2" text-anchor="middle" stroke="#000" stroke-width="0.22" textLength="74.5" lengthAdjust="spacingAndGlyphs">Intens. [a.u.]</text>
<text x="168.8" y="268.0" font-size="15.2" textLength="23.0" lengthAdjust="spacingAndGlyphs" stroke="#000" stroke-width="0.12">m/z</text>
<text x="24.7" y="15.0" font-size="20" textLength="24.8" lengthAdjust="spacingAndGlyphs" font-weight="bold" font-family='"Liberation Sans","DejaVu Sans",sans-serif'>(a)</text>
<line x1="416.5" y1="233.6" x2="450.0" y2="192.4" stroke="#c6c6c6" stroke-width="1.6"/>
<line x1="412.9" y1="30.3" x2="412.9" y2="238.5" stroke="#000" stroke-width="1.55"/>
<line x1="412.1" y1="237.6" x2="672.2" y2="237.6" stroke="#000" stroke-width="1.45"/>
<line x1="408.5" y1="235.7" x2="412.9" y2="235.7" stroke="#000" stroke-width="1.3"/>
<line x1="409.9" y1="230.9" x2="412.9" y2="230.9" stroke="#000" stroke-width="1.3"/>
<line x1="409.9" y1="224.4" x2="412.9" y2="224.4" stroke="#000" stroke-width="1.3"/>
<line x1="409.9" y1="218.0" x2="412.9" y2="218.0" stroke="#000" stroke-width="1.3"/>
<line x1="409.9" y1="211.5" x2="412.9" y2="211.5" stroke="#000" stroke-width="1.3"/>
<line x1="408.5" y1="205.0" x2="412.9" y2="205.0" stroke="#000" stroke-width="1.3"/>
<line x1="409.9" y1="198.5" x2="412.9" y2="198.5" stroke="#000" stroke-width="1.3"/>
<line x1="409.9" y1="192.1" x2="412.9" y2="192.1" stroke="#000" stroke-width="1.3"/>
<line x1="409.9" y1="185.6" x2="412.9" y2="185.6" stroke="#000" stroke-width="1.3"/>
<line x1="409.9" y1="179.1" x2="412.9" y2="179.1" stroke="#000" stroke-width="1.3"/>
<line x1="408.5" y1="172.6" x2="412.9" y2="172.6" stroke="#000" stroke-width="1.3"/>
<line x1="409.9" y1="166.2" x2="412.9" y2="166.2" stroke="#000" stroke-width="1.3"/>
<line x1="409.9" y1="159.7" x2="412.9" y2="159.7" stroke="#000" stroke-width="1.3"/>
<line x1="409.9" y1="153.2" x2="412.9" y2="153.2" stroke="#000" stroke-width="1.3"/>
<line x1="409.9" y1="146.7" x2="412.9" y2="146.7" stroke="#000" stroke-width="1.3"/>
<line x1="408.5" y1="140.3" x2="412.9" y2="140.3" stroke="#000" stroke-width="1.3"/>
<line x1="409.9" y1="133.8" x2="412.9" y2="133.8" stroke="#000" stroke-width="1.3"/>
<line x1="409.9" y1="127.3" x2="412.9" y2="127.3" stroke="#000" stroke-width="1.3"/>
<line x1="409.9" y1="120.8" x2="412.9" y2="120.8" stroke="#000" stroke-width="1.3"/>
<line x1="409.9" y1="114.4" x2="412.9" y2="114.4" stroke="#000" stroke-width="1.3"/>
<line x1="408.5" y1="107.9" x2="412.9" y2="107.9" stroke="#000" stroke-width="1.3"/>
<line x1="409.9" y1="101.4" x2="412.9" y2="101.4" stroke="#000" stroke-width="1.3"/>
<line x1="409.9" y1="94.9" x2="412.9" y2="94.9" stroke="#000" stroke-width="1.3"/>
<line x1="409.9" y1="88.5" x2="412.9" y2="88.5" stroke="#000" stroke-width="1.3"/>
<line x1="409.9" y1="82.0" x2="412.9" y2="82.0" stroke="#000" stroke-width="1.3"/>
<line x1="408.5" y1="75.5" x2="412.9" y2="75.5" stroke="#000" stroke-width="1.3"/>
<line x1="409.9" y1="69.0" x2="412.9" y2="69.0" stroke="#000" stroke-width="1.3"/>
<line x1="409.9" y1="62.5" x2="412.9" y2="62.5" stroke="#000" stroke-width="1.3"/>
<line x1="409.9" y1="56.1" x2="412.9" y2="56.1" stroke="#000" stroke-width="1.3"/>
<line x1="409.9" y1="49.6" x2="412.9" y2="49.6" stroke="#000" stroke-width="1.3"/>
<line x1="408.5" y1="43.1" x2="412.9" y2="43.1" stroke="#000" stroke-width="1.3"/>
<line x1="409.9" y1="36.6" x2="412.9" y2="36.6" stroke="#000" stroke-width="1.3"/>
<line x1="408.7" y1="31.0" x2="412.9" y2="31.0" stroke="#000" stroke-width="1.3"/>
<text x="406.0" y="239.6" font-size="12" text-anchor="end" textLength="5.4" lengthAdjust="spacingAndGlyphs" stroke="#000" stroke-width="0.12">0</text>
<text x="406.0" y="209.1" font-size="12" text-anchor="end" textLength="5.4" lengthAdjust="spacingAndGlyphs" stroke="#000" stroke-width="0.12">1</text>
<text x="406.0" y="177.0" font-size="12" text-anchor="end" textLength="5.4" lengthAdjust="spacingAndGlyphs" stroke="#000" stroke-width="0.12">2</text>
<text x="406.0" y="143.1" font-size="12" text-anchor="end" textLength="5.4" lengthAdjust="spacingAndGlyphs" stroke="#000" stroke-width="0.12">3</text>
<text x="406.0" y="112.8" font-size="12" text-anchor="end" textLength="5.4" lengthAdjust="spacingAndGlyphs" stroke="#000" stroke-width="0.12">4</text>
<text x="406.0" y="80.1" font-size="12" text-anchor="end" textLength="5.4" lengthAdjust="spacingAndGlyphs" stroke="#000" stroke-width="0.12">5</text>
<text x="406.0" y="47.8" font-size="12" text-anchor="end" textLength="5.4" lengthAdjust="spacingAndGlyphs" stroke="#000" stroke-width="0.12">6</text>
<line x1="412.9" y1="237.6" x2="412.9" y2="240.2" stroke="#000" stroke-width="1.35"/>
<text x="412.5" y="251.5" font-size="12.4" text-anchor="middle" textLength="5.4" lengthAdjust="spacingAndGlyphs" stroke="#000" stroke-width="0.12">0</text>
<line x1="418.1" y1="237.6" x2="418.1" y2="239.8" stroke="#000" stroke-width="1.35"/>
<line x1="423.2" y1="237.6" x2="423.2" y2="239.8" stroke="#000" stroke-width="1.35"/>
<line x1="428.4" y1="237.6" x2="428.4" y2="239.8" stroke="#000" stroke-width="1.35"/>
<line x1="433.6" y1="237.6" x2="433.6" y2="239.8" stroke="#000" stroke-width="1.35"/>
<line x1="438.8" y1="237.6" x2="438.8" y2="240.2" stroke="#000" stroke-width="1.35"/>
<text x="438.6" y="251.5" font-size="12.4" text-anchor="middle" textLength="10.8" lengthAdjust="spacingAndGlyphs" stroke="#000" stroke-width="0.12">50</text>
<line x1="443.9" y1="237.6" x2="443.9" y2="239.8" stroke="#000" stroke-width="1.35"/>
<line x1="449.1" y1="237.6" x2="449.1" y2="239.8" stroke="#000" stroke-width="1.35"/>
<line x1="454.3" y1="237.6" x2="454.3" y2="239.8" stroke="#000" stroke-width="1.35"/>
<line x1="459.5" y1="237.6" x2="459.5" y2="239.8" stroke="#000" stroke-width="1.35"/>
<line x1="464.6" y1="237.6" x2="464.6" y2="240.2" stroke="#000" stroke-width="1.35"/>
<text x="464.6" y="251.5" font-size="12.4" text-anchor="middle" textLength="16.2" lengthAdjust="spacingAndGlyphs" stroke="#000" stroke-width="0.12">100</text>
<line x1="469.8" y1="237.6" x2="469.8" y2="239.8" stroke="#000" stroke-width="1.35"/>
<line x1="475.0" y1="237.6" x2="475.0" y2="239.8" stroke="#000" stroke-width="1.35"/>
<line x1="480.2" y1="237.6" x2="480.2" y2="239.8" stroke="#000" stroke-width="1.35"/>
<line x1="485.3" y1="237.6" x2="485.3" y2="239.8" stroke="#000" stroke-width="1.35"/>
<line x1="490.5" y1="237.6" x2="490.5" y2="240.2" stroke="#000" stroke-width="1.35"/>
<text x="490.7" y="251.5" font-size="12.4" text-anchor="middle" textLength="16.2" lengthAdjust="spacingAndGlyphs" stroke="#000" stroke-width="0.12">150</text>
<line x1="495.7" y1="237.6" x2="495.7" y2="239.8" stroke="#000" stroke-width="1.35"/>
<line x1="500.9" y1="237.6" x2="500.9" y2="239.8" stroke="#000" stroke-width="1.35"/>
<line x1="506.0" y1="237.6" x2="506.0" y2="239.8" stroke="#000" stroke-width="1.35"/>
<line x1="511.2" y1="237.6" x2="511.2" y2="239.8" stroke="#000" stroke-width="1.35"/>
<line x1="516.4" y1="237.6" x2="516.4" y2="240.2" stroke="#000" stroke-width="1.35"/>
<text x="516.7" y="251.5" font-size="12.4" text-anchor="middle" textLength="16.2" lengthAdjust="spacingAndGlyphs" stroke="#000" stroke-width="0.12">200</text>
<line x1="521.6" y1="237.6" x2="521.6" y2="239.8" stroke="#000" stroke-width="1.35"/>
<line x1="526.7" y1="237.6" x2="526.7" y2="239.8" stroke="#000" stroke-width="1.35"/>
<line x1="531.9" y1="237.6" x2="531.9" y2="239.8" stroke="#000" stroke-width="1.35"/>
<line x1="537.1" y1="237.6" x2="537.1" y2="239.8" stroke="#000" stroke-width="1.35"/>
<line x1="542.2" y1="237.6" x2="542.2" y2="240.2" stroke="#000" stroke-width="1.35"/>
<text x="542.8" y="251.5" font-size="12.4" text-anchor="middle" textLength="16.2" lengthAdjust="spacingAndGlyphs" stroke="#000" stroke-width="0.12">250</text>
<line x1="547.4" y1="237.6" x2="547.4" y2="239.8" stroke="#000" stroke-width="1.35"/>
<line x1="552.6" y1="237.6" x2="552.6" y2="239.8" stroke="#000" stroke-width="1.35"/>
<line x1="557.8" y1="237.6" x2="557.8" y2="239.8" stroke="#000" stroke-width="1.35"/>
<line x1="562.9" y1="237.6" x2="562.9" y2="239.8" stroke="#000" stroke-width="1.35"/>
<line x1="568.1" y1="237.6" x2="568.1" y2="240.2" stroke="#000" stroke-width="1.35"/>
<text x="568.9" y="251.5" font-size="12.4" text-anchor="middle" textLength="16.2" lengthAdjust="spacingAndGlyphs" stroke="#000" stroke-width="0.12">300</text>
<line x1="573.3" y1="237.6" x2="573.3" y2="239.8" stroke="#000" stroke-width="1.35"/>
<line x1="578.5" y1="237.6" x2="578.5" y2="239.8" stroke="#000" stroke-width="1.35"/>
<line x1="583.6" y1="237.6" x2="583.6" y2="239.8" stroke="#000" stroke-width="1.35"/>
<line x1="588.8" y1="237.6" x2="588.8" y2="239.8" stroke="#000" stroke-width="1.35"/>
<line x1="594.0" y1="237.6" x2="594.0" y2="240.2" stroke="#000" stroke-width="1.35"/>
<text x="594.9" y="251.5" font-size="12.4" text-anchor="middle" textLength="16.2" lengthAdjust="spacingAndGlyphs" stroke="#000" stroke-width="0.12">350</text>
<line x1="599.2" y1="237.6" x2="599.2" y2="239.8" stroke="#000" stroke-width="1.35"/>
<line x1="604.3" y1="237.6" x2="604.3" y2="239.8" stroke="#000" stroke-width="1.35"/>
<line x1="609.5" y1="237.6" x2="609.5" y2="239.8" stroke="#000" stroke-width="1.35"/>
<line x1="614.7" y1="237.6" x2="614.7" y2="239.8" stroke="#000" stroke-width="1.35"/>
<line x1="619.9" y1="237.6" x2="619.9" y2="240.2" stroke="#000" stroke-width="1.35"/>
<text x="621.0" y="251.5" font-size="12.4" text-anchor="middle" textLength="16.2" lengthAdjust="spacingAndGlyphs" stroke="#000" stroke-width="0.12">400</text>
<line x1="625.0" y1="237.6" x2="625.0" y2="239.8" stroke="#000" stroke-width="1.35"/>
<line x1="630.2" y1="237.6" x2="630.2" y2="239.8" stroke="#000" stroke-width="1.35"/>
<line x1="635.4" y1="237.6" x2="635.4" y2="239.8" stroke="#000" stroke-width="1.35"/>
<line x1="640.6" y1="237.6" x2="640.6" y2="239.8" stroke="#000" stroke-width="1.35"/>
<line x1="645.7" y1="237.6" x2="645.7" y2="240.2" stroke="#000" stroke-width="1.35"/>
<text x="647.0" y="251.5" font-size="12.4" text-anchor="middle" textLength="16.2" lengthAdjust="spacingAndGlyphs" stroke="#000" stroke-width="0.12">450</text>
<line x1="650.9" y1="237.6" x2="650.9" y2="239.8" stroke="#000" stroke-width="1.35"/>
<line x1="656.1" y1="237.6" x2="656.1" y2="239.8" stroke="#000" stroke-width="1.35"/>
<line x1="661.3" y1="237.6" x2="661.3" y2="239.8" stroke="#000" stroke-width="1.35"/>
<line x1="666.4" y1="237.6" x2="666.4" y2="239.8" stroke="#000" stroke-width="1.35"/>
<line x1="671.6" y1="237.6" x2="671.6" y2="240.2" stroke="#000" stroke-width="1.35"/>
<text x="673.1" y="251.5" font-size="12.4" text-anchor="middle" textLength="16.2" lengthAdjust="spacingAndGlyphs" stroke="#000" stroke-width="0.12">500</text>
<polygon points="415.9,233.4 418.9,233.4 419.4,233.4 421.9,233.4 422.6,233.4 432.9,233.4 433.9,233.3 434.1,233.3 434.4,233.3 435.6,233.4 436.4,233.3 438.4,233.4 447.6,233.4 448.4,233.2 448.9,233.3 449.4,233.3 450.1,233.4 453.1,233.4 453.9,233.3 454.6,233.4 459.6,233.4 460.1,233.3 466.6,233.4 467.4,232.8 467.9,233.3 468.1,233.4 469.1,233.4 469.6,233.4 470.4,233.2 470.9,233.4 471.6,233.1 472.4,233.4 473.4,233.3 474.1,233.4 480.1,233.4 480.9,233.2 481.1,233.3 481.4,233.3 481.6,233.2 482.1,233.4 482.9,233.3 483.4,233.4 496.9,233.4 497.6,233.3 499.1,233.4 499.6,233.2 500.1,233.4 502.6,233.4 503.4,233.0 503.6,233.0 504.4,233.4 506.6,233.4 507.1,233.4 510.4,233.4 510.9,233.1 511.4,233.4 512.6,233.4 513.1,233.3 513.9,233.4 515.9,233.4 516.1,233.4 516.4,233.0 516.6,232.8 517.1,233.4 521.4,233.4 522.1,233.2 522.6,233.2 523.6,233.4 534.4,233.4 534.9,233.2 535.4,233.4 552.9,233.4 553.4,233.3 554.1,233.4 555.4,233.2 556.1,233.4 565.9,233.4 566.4,233.2 567.1,233.4 568.9,233.4 569.1,233.3 570.4,233.4 571.1,233.0 571.9,233.4 578.1,233.4 578.4,233.3 578.6,233.1 578.9,233.0 579.1,233.3 579.4,233.3 579.6,233.3 580.4,233.4 583.1,233.4 583.9,233.3 585.4,233.4 589.9,233.4 592.9,233.4 593.4,233.3 594.1,233.4 594.6,233.2 595.1,233.4 602.6,233.4 603.1,233.2 603.6,233.4 604.9,233.4 606.6,233.4 607.4,233.2 607.6,233.3 609.9,233.4 610.6,233.3 611.1,233.4 617.4,233.4 617.6,233.3 618.9,233.4 619.6,233.3 621.1,233.4 621.4,233.4 621.6,233.2 621.9,233.2 622.9,233.4 628.9,233.3 629.6,233.4 630.6,233.2 631.9,233.4 634.1,233.3 636.1,233.4 636.6,233.2 637.1,233.4 640.6,233.4 641.1,233.3 642.6,233.4 643.6,233.3 646.1,233.4 646.9,233.1 647.1,233.1 647.4,233.0 648.4,233.4 648.9,233.4 655.4,233.4 656.1,233.2 656.9,233.4 658.6,233.4 659.1,233.3 659.6,233.4 660.1,233.4 660.9,233.2 661.9,233.4 677.4,233.4 677.4,234.9 647.6,235.1 646.9,234.9 624.9,235.1 624.1,235.0 612.6,235.1 611.9,235.0 605.6,235.0 605.1,234.9 593.6,235.0 592.9,235.3 591.9,234.9 590.1,235.1 589.4,235.0 588.9,235.2 588.4,235.0 579.4,235.0 578.9,235.0 576.6,235.0 575.9,235.2 574.9,234.9 567.4,235.0 566.9,235.2 566.6,235.3 565.9,234.9 546.1,235.1 527.1,235.0 526.4,235.0 515.9,234.9 515.1,235.4 514.4,234.9 483.6,234.9 483.1,235.1 482.6,234.9 466.6,234.9 466.1,235.2 465.6,234.9 459.4,235.1 457.9,235.0 457.4,235.1 456.9,234.9 434.4,234.9 433.9,235.1 433.4,235.0 426.6,235.1 425.9,235.0 422.1,235.1 421.6,235.0 415.9,234.9" fill="#000000"/>
<polygon points="554.10,234.2 554.21,233.3 554.33,232.0 554.42,230.1 554.45,226.8 554.71,226.2 555.49,226.2 555.75,226.8 555.78,230.1 555.87,232.0 555.99,233.3 556.10,234.2" fill="#000000"/>
<polygon points="561.80,234.2 561.91,233.8 562.03,233.3 562.12,232.5 562.15,231.2 562.37,230.6 563.03,230.6 563.25,231.2 563.28,232.5 563.37,233.3 563.49,233.8 563.60,234.2" fill="#000000"/>
<polygon points="486.50,234.2 486.58,233.9 486.66,233.5 486.73,232.9 486.75,231.8 486.97,231.2 487.63,231.2 487.85,231.8 487.87,232.9 487.94,233.5 488.02,233.9 488.10,234.2" fill="#000000"/>
<polygon points="529.20,234.2 529.28,234.4 529.36,234.8 529.43,235.3 529.45,236.2 530.55,236.2 530.57,235.3 530.64,234.8 530.72,234.4 530.80,234.2" fill="#000000"/>
<polygon points="563.10,234.2 563.15,234.4 563.20,234.8 563.24,235.3 563.25,236.2 564.35,236.2 564.36,235.3 564.40,234.8 564.45,234.4 564.50,234.2" fill="#000000"/>
<polygon points="609.70,234.2 609.78,234.0 609.86,233.7 609.93,233.2 609.95,232.4 610.17,231.8 610.83,231.8 611.05,232.4 611.07,233.2 611.14,233.7 611.22,234.0 611.30,234.2" fill="#000000"/>
<polygon points="618.30,234.2 618.35,234.0 618.40,233.8 618.44,233.4 618.45,232.8 618.67,232.2 619.33,232.2 619.55,232.8 619.56,233.4 619.60,233.8 619.65,234.0 619.70,234.2" fill="#000000"/>
<polygon points="432.3,213.5 437.8,213.4 438.6,213.2 439.3,213.5 440.8,213.5 441.8,213.2 442.8,213.4 443.8,213.3 444.1,213.3 444.6,212.8 444.8,213.0 445.3,213.5 448.1,213.4 448.6,212.9 448.8,213.0 449.1,213.3 449.3,213.5 454.3,213.5 454.8,213.3 455.3,213.3 455.6,213.2 456.1,213.4 459.1,213.4 459.6,213.3 469.6,213.5 469.8,213.4 470.6,213.0 471.3,213.4 472.8,213.5 474.1,213.2 474.6,212.8 475.1,213.3 475.3,213.4 477.3,213.5 478.1,213.1 478.6,213.4 479.1,213.3 479.6,213.4 479.8,213.4 480.1,213.1 480.3,213.1 480.6,213.4 489.1,213.4 489.8,213.2 490.6,213.4 492.1,213.5 492.8,213.3 493.1,213.3 493.3,213.1 493.6,213.1 494.1,213.3 494.3,213.3 494.6,213.0 494.8,213.1 495.3,213.5 503.3,213.4 504.1,213.1 504.3,213.1 505.1,213.4 509.8,213.5 510.6,213.2 511.3,213.5 512.8,213.2 513.0,213.1 513.8,213.4 514.8,213.4 517.3,213.4 517.8,213.3 518.3,213.4 518.5,213.3 519.0,213.5 521.3,213.4 522.0,213.0 522.3,213.0 523.0,213.5 524.8,213.5 525.3,213.2 525.5,213.2 526.0,213.5 526.5,213.4 527.0,213.3 531.0,213.5 532.0,212.9 532.8,213.4 533.8,213.4 534.5,213.3 536.0,213.4 536.8,213.1 537.0,213.1 537.8,213.5 538.5,213.2 538.8,213.3 539.3,213.1 539.5,213.0 539.8,212.6 540.3,213.3 540.5,213.5 540.8,213.2 541.0,212.7 541.3,212.4 541.8,213.4 542.0,213.5 543.0,213.5 543.8,213.1 544.0,213.1 544.3,213.2 544.8,213.1 545.3,213.5 547.3,213.5 547.8,212.9 548.0,212.8 548.5,213.4 548.8,213.4 549.0,213.3 549.5,212.6 549.8,212.4 550.0,212.8 550.3,212.9 550.5,212.6 551.3,213.4 554.8,213.5 555.8,213.1 556.8,213.5 558.8,213.4 559.8,213.0 560.5,213.4 560.8,213.2 561.5,212.1 562.3,213.3 562.5,213.5 563.0,213.5 564.0,212.8 565.0,213.5 566.5,213.3 566.8,213.4 567.0,213.3 567.3,212.9 567.5,212.9 567.8,213.3 568.0,213.5 571.0,213.5 571.3,213.4 572.0,213.1 572.3,213.2 572.5,213.1 573.0,212.2 573.3,212.3 573.8,213.3 574.0,213.5 576.5,213.5 577.3,213.3 577.8,213.5 581.0,213.5 581.5,213.2 581.8,213.2 582.3,213.5 583.8,213.4 586.8,213.5 588.0,213.0 588.5,213.5 601.5,213.5 602.0,213.3 602.8,213.4 603.5,213.3 611.0,213.4 611.5,212.9 611.8,213.0 612.3,213.5 618.5,213.5 619.0,213.3 619.8,213.5 621.0,213.5 622.0,212.8 622.3,212.5 622.8,213.4 623.0,213.5 623.8,213.4 624.5,213.1 625.5,213.5 626.3,213.5 627.0,212.9 627.3,212.8 628.0,213.4 628.8,212.2 629.0,212.2 629.8,213.4 630.3,213.3 634.5,213.5 634.8,213.2 635.5,211.8 635.8,212.1 636.5,213.5 637.8,213.5 638.3,213.3 638.8,212.8 639.0,212.9 639.5,213.4 641.8,213.4 642.8,213.2 643.3,213.4 643.5,213.3 643.8,213.0 644.0,212.9 644.3,213.1 644.5,213.1 645.3,212.2 646.0,213.3 646.3,213.5 646.8,213.4 647.3,213.4 648.0,213.4 651.5,213.4 652.3,213.3 653.8,213.5 654.5,213.3 655.0,213.5 659.3,213.4 660.0,213.3 662.0,213.5 662.3,213.0 662.8,211.8 663.3,213.0 663.5,213.3 664.0,213.4 664.5,213.0 664.8,213.0 665.3,213.4 665.8,213.5 666.3,212.6 666.5,212.9 666.8,213.3 667.0,213.5 667.8,213.5 668.3,213.3 669.0,213.5 669.8,213.1 670.8,213.4 671.3,213.2 673.8,213.5 674.3,213.3 674.8,213.5 675.8,213.1 676.8,213.4 678.8,213.5 679.5,213.2 680.3,213.5 693.3,213.5 693.3,215.2 681.8,215.2 681.3,215.3 680.8,215.2 677.8,215.2 676.8,215.4 675.8,215.2 675.0,215.2 674.5,215.7 674.3,215.8 673.8,215.3 673.5,215.2 672.8,215.3 670.5,215.2 669.8,215.4 669.5,215.8 669.3,216.5 668.8,215.2 666.8,215.2 666.0,215.7 665.8,215.7 665.0,215.2 664.8,215.3 664.3,215.5 664.0,215.5 663.5,215.3 662.8,216.3 662.5,216.3 661.8,215.3 661.5,215.3 661.3,215.2 660.8,215.6 660.5,215.3 660.3,215.2 657.8,215.2 657.0,215.4 656.3,215.2 655.0,215.2 654.0,215.6 653.0,215.2 652.3,215.2 651.5,215.7 651.3,216.0 651.0,216.0 650.5,215.4 649.5,215.2 645.3,215.2 645.0,215.3 644.5,215.2 643.8,215.3 643.0,215.2 642.3,215.4 641.5,215.2 639.8,215.2 639.5,215.3 639.3,215.4 639.0,215.2 638.5,215.2 637.0,215.2 636.3,215.5 635.3,215.2 634.5,216.2 634.0,215.4 633.8,215.2 627.3,215.2 627.0,215.4 626.8,215.5 626.3,215.2 625.0,215.2 624.0,216.0 623.5,215.7 623.3,215.7 622.8,215.3 622.5,215.3 622.0,215.2 614.5,215.2 614.0,215.4 613.5,215.2 610.8,215.2 610.0,215.4 609.5,215.2 608.0,215.2 607.5,215.3 607.0,215.2 596.0,215.2 595.3,215.6 595.0,215.6 594.8,215.5 594.3,215.4 593.8,215.2 589.8,215.2 589.0,215.7 588.8,215.6 588.0,215.2 581.5,215.2 581.3,215.3 581.0,215.4 580.8,215.2 580.5,215.2 578.0,215.2 577.5,215.4 577.3,215.5 576.8,215.2 571.8,215.2 571.0,215.3 570.0,215.2 569.0,215.4 568.0,215.2 565.3,215.2 564.5,215.3 563.8,215.2 550.0,215.2 549.8,215.4 549.5,215.7 549.3,215.7 549.0,215.3 548.8,215.2 545.8,215.3 544.5,215.2 544.0,215.8 543.8,215.7 543.5,215.4 543.0,215.8 542.8,215.9 542.5,215.6 541.8,215.2 541.3,215.2 540.3,215.5 539.5,215.2 532.3,215.2 531.8,215.4 531.3,215.2 526.8,215.2 526.3,215.4 526.0,215.4 525.8,215.3 525.3,215.5 524.5,215.2 523.5,215.2 522.5,215.4 521.5,215.2 515.8,215.2 515.3,215.9 515.0,215.7 514.8,215.4 514.5,215.5 514.3,215.4 513.5,215.2 511.1,215.2 510.1,215.4 509.1,215.2 501.8,215.2 501.1,215.5 500.1,215.2 486.8,215.2 486.3,215.5 486.1,215.5 485.3,215.2 470.1,215.2 469.3,215.4 468.6,215.2 465.6,215.2 465.1,215.2 459.1,215.3 453.6,215.2 452.6,215.4 452.3,215.4 451.8,215.5 451.1,215.2 447.3,215.2 446.3,215.4 445.6,215.2 445.1,215.2 444.6,215.5 444.3,215.4 443.8,215.2 440.1,215.3 439.6,215.7 439.3,215.7 438.6,215.2 435.1,215.2 434.1,215.4 433.3,215.2 432.3,215.2" fill="#0000ff"/>
<polygon points="533.70,214.3 533.84,203.3 534.00,186.9 534.11,164.0 534.15,122.8 534.53,122.2 535.67,122.2 536.05,122.8 536.09,164.0 536.20,186.9 536.36,203.3 536.50,214.3" fill="#0000ff"/>
<polygon points="569.80,214.3 569.91,211.0 570.03,206.0 570.12,199.1 570.15,186.6 570.49,186.0 571.51,186.0 571.85,186.6 571.88,199.1 571.97,206.0 572.09,211.0 572.20,214.3" fill="#0000ff"/>
<polygon points="486.10,214.3 486.21,213.9 486.33,213.4 486.42,212.6 486.45,211.2 486.67,210.6 487.33,210.6 487.55,211.2 487.58,212.6 487.67,213.4 487.79,213.9 487.90,214.3" fill="#0000ff"/>
<polygon points="487.50,214.3 487.58,214.6 487.66,215.1 487.73,215.8 487.75,217.0 488.85,217.0 488.87,215.8 488.94,215.1 489.02,214.6 489.10,214.3" fill="#0000ff"/>
<polygon points="501.90,214.3 502.08,213.9 502.26,213.3 502.40,212.4 502.45,210.9 502.67,210.3 503.33,210.3 503.55,210.9 503.60,212.4 503.74,213.3 503.92,213.9 504.10,214.3" fill="#0000ff"/>
<polygon points="544.60,214.3 544.74,213.4 544.90,212.1 545.01,210.3 545.05,207.0 545.27,206.4 545.93,206.4 546.15,207.0 546.19,210.3 546.30,212.1 546.46,213.4 546.60,214.3" fill="#0000ff"/>
<polygon points="546.40,214.3 546.51,214.9 546.63,215.8 546.72,217.0 546.75,219.2 547.85,219.2 547.88,217.0 547.97,215.8 548.09,214.9 548.20,214.3" fill="#0000ff"/>
<polygon points="577.90,214.3 578.11,213.9 578.33,213.3 578.49,212.4 578.55,210.9 578.77,210.3 579.43,210.3 579.65,210.9 579.71,212.4 579.87,213.3 580.09,213.9 580.30,214.3" fill="#0000ff"/>
<polygon points="624.50,214.3 624.61,215.1 624.73,216.2 624.82,217.9 624.85,220.8 625.95,220.8 625.98,217.9 626.07,216.2 626.19,215.1 626.30,214.3" fill="#0000ff"/>
<polygon points="626.00,214.3 626.14,213.3 626.30,211.8 626.41,209.6 626.45,205.8 626.67,205.2 627.33,205.2 627.55,205.8 627.59,209.6 627.70,211.8 627.86,213.3 628.00,214.3" fill="#0000ff"/>
<polygon points="634.70,214.3 634.81,213.4 634.93,212.1 635.02,210.3 635.05,207.0 635.27,206.4 635.93,206.4 636.15,207.0 636.18,210.3 636.27,212.1 636.39,213.4 636.50,214.3" fill="#0000ff"/>
<polygon points="632.40,214.3 632.73,213.9 633.09,213.2 633.35,212.3 633.45,210.6 633.67,210.0 634.33,210.0 634.55,210.6 634.65,212.3 634.91,213.2 635.27,213.9 635.60,214.3" fill="#0000ff"/>
<polygon points="442.80,214.3 442.85,214.1 442.90,213.8 442.94,213.4 442.95,212.6 443.17,212.0 443.83,212.0 444.05,212.6 444.06,213.4 444.10,213.8 444.15,214.1 444.20,214.3" fill="#0000ff"/>
<polygon points="451.20,214.3 451.28,214.0 451.36,213.6 451.43,212.9 451.45,211.8 451.67,211.2 452.33,211.2 452.55,211.8 452.57,212.9 452.64,213.6 452.72,214.0 452.80,214.3" fill="#0000ff"/>
<polygon points="535.80,214.3 535.94,213.8 536.10,213.0 536.21,212.0 536.25,210.1 536.47,209.5 537.13,209.5 537.35,210.1 537.39,212.0 537.50,213.0 537.66,213.8 537.80,214.3" fill="#0000ff"/>
<polygon points="449.8,191.2 464.8,191.1 465.1,190.7 465.3,190.6 465.6,191.1 471.6,191.1 472.3,191.0 474.3,191.2 475.3,190.9 476.1,191.2 476.6,191.1 477.1,190.9 477.6,191.0 477.8,191.1 478.3,191.2 479.1,190.9 479.3,191.0 479.6,190.7 480.1,191.1 480.8,191.0 483.3,191.1 483.8,191.0 484.6,191.2 486.3,191.1 486.8,190.8 487.1,190.9 487.6,191.2 488.8,191.0 491.3,191.2 492.1,190.9 492.6,191.1 493.6,191.2 493.8,190.7 494.1,190.5 494.3,190.7 494.6,190.5 495.3,190.9 495.8,190.6 496.8,191.2 498.3,190.9 498.6,191.0 499.1,190.2 499.6,191.1 499.8,191.1 500.3,191.0 502.6,191.2 502.8,191.1 503.3,190.9 503.8,191.2 509.3,191.1 510.1,190.9 511.1,191.2 514.5,191.0 515.3,191.1 515.8,191.0 516.5,191.0 517.8,191.2 518.0,191.1 518.5,190.7 518.8,190.8 519.3,191.1 527.8,191.1 528.3,190.6 528.5,190.6 529.0,191.2 531.0,191.2 531.8,190.9 532.5,191.2 534.8,191.2 535.5,190.8 535.8,190.7 536.5,191.2 537.5,191.1 537.8,191.1 539.3,191.2 539.8,190.6 540.0,190.6 540.5,191.2 545.5,191.2 545.8,191.0 546.5,190.1 546.8,190.1 547.5,191.1 550.5,191.2 550.8,190.8 551.0,190.2 551.5,191.2 552.8,191.1 553.3,190.9 553.5,190.6 553.8,190.6 554.3,191.2 555.3,191.1 555.5,190.8 555.8,190.8 556.0,191.0 556.3,191.2 557.5,191.2 558.3,190.7 558.5,190.8 559.0,191.1 560.3,191.0 561.0,191.2 562.0,190.5 562.8,191.1 563.0,191.0 563.8,189.8 564.5,190.9 564.8,191.1 565.3,189.2 565.5,190.3 565.8,191.1 570.5,191.2 571.3,191.0 571.5,190.8 572.0,189.6 572.3,189.7 572.8,190.9 573.0,191.2 574.8,191.1 575.5,190.9 576.3,191.1 577.0,190.9 577.3,190.9 577.5,190.8 577.8,191.0 578.0,190.9 578.5,190.7 578.8,190.7 579.0,190.5 579.8,191.0 580.3,191.2 580.5,191.1 581.3,190.7 581.5,190.8 581.8,190.9 582.0,190.8 582.5,191.0 583.3,190.8 584.3,191.1 585.0,190.9 585.8,191.2 586.8,191.1 587.5,190.8 588.0,190.9 588.3,190.8 588.5,190.9 588.8,191.0 589.5,190.9 589.8,191.0 590.3,190.6 590.5,190.8 591.0,190.7 591.5,191.0 591.8,190.6 592.0,189.7 592.3,189.7 592.8,190.4 593.0,190.6 593.3,190.3 593.8,191.2 594.3,191.1 594.8,190.7 595.3,189.9 595.8,190.9 596.0,191.0 596.5,190.9 597.0,190.6 597.8,191.1 600.3,191.2 600.5,191.0 601.3,190.3 602.0,191.0 602.5,191.0 604.3,191.1 605.5,191.0 605.8,190.9 606.0,190.9 606.5,191.2 610.3,191.2 610.8,190.1 611.0,190.8 611.3,191.2 613.3,191.2 614.0,190.9 614.3,191.0 626.3,191.2 627.0,190.9 628.0,191.2 631.5,191.2 632.0,190.9 632.3,190.9 632.8,191.2 635.3,191.2 636.0,190.8 636.5,190.9 637.3,190.1 638.0,191.0 638.8,191.1 639.8,191.0 641.0,191.2 642.0,191.0 642.3,191.0 642.8,190.9 643.5,191.2 648.3,191.2 648.5,191.0 648.8,190.7 649.3,191.1 649.8,190.9 650.3,191.2 651.3,190.8 652.0,191.0 652.3,191.0 652.5,191.1 653.3,190.2 653.5,190.3 654.0,191.0 654.3,191.2 655.0,191.1 655.5,190.7 656.0,191.1 659.0,191.1 659.5,191.0 660.0,191.1 661.3,190.9 662.0,191.2 664.5,191.0 665.0,191.1 665.8,190.2 666.3,190.9 666.5,191.2 669.5,191.1 670.3,190.8 670.8,191.0 671.3,190.9 672.3,191.2 675.5,191.2 675.8,191.1 676.0,190.7 676.3,190.5 676.8,191.2 680.0,191.2 680.5,190.9 681.0,191.2 682.5,191.2 683.3,190.1 683.8,190.9 684.0,191.2 686.3,191.2 687.3,190.5 688.3,191.2 689.0,191.1 689.5,190.4 690.0,191.1 692.0,191.1 693.0,190.9 694.0,191.2 698.3,191.1 699.0,191.0 701.0,191.2 701.3,191.0 701.8,190.5 702.0,190.9 702.3,191.0 702.8,191.0 707.8,191.2 707.8,192.8 702.5,192.9 702.0,193.1 701.5,192.9 699.3,192.8 698.8,193.3 698.5,193.2 698.0,192.8 695.0,192.8 694.3,193.2 694.0,193.2 693.3,192.8 688.5,192.9 687.8,193.4 687.3,193.1 686.8,192.8 674.8,192.9 674.5,193.1 674.3,193.3 674.0,193.0 673.8,192.8 673.0,192.8 672.3,193.2 672.0,193.1 671.5,193.0 671.0,192.9 670.5,193.0 669.5,192.9 668.8,193.1 668.5,193.1 667.8,192.9 662.3,192.9 661.3,193.1 660.3,192.8 657.5,192.8 657.3,193.0 656.8,193.4 656.5,193.3 656.0,192.9 655.3,192.8 654.3,193.1 653.3,192.8 651.0,193.0 650.3,192.8 649.0,192.8 648.3,193.0 647.5,192.9 642.0,192.8 641.5,193.2 641.3,193.3 640.8,192.9 639.0,192.9 638.3,193.2 637.5,192.9 626.8,193.0 626.0,192.9 616.8,192.9 616.3,193.3 615.8,192.8 614.8,193.0 614.3,192.9 613.5,193.1 612.8,192.8 610.3,193.0 609.5,192.9 608.0,193.0 607.3,192.9 604.0,192.9 603.3,193.6 603.0,193.7 602.8,193.4 602.5,193.5 602.3,193.3 602.0,193.5 601.8,193.4 601.3,192.8 597.3,192.9 596.8,193.2 595.5,192.8 595.0,193.3 594.8,193.4 594.3,192.9 593.8,192.8 593.5,192.9 593.0,193.7 592.5,192.9 592.3,192.8 591.3,192.8 590.5,193.4 590.0,193.1 589.5,192.9 586.5,193.0 586.0,193.8 585.8,193.8 585.3,193.0 585.0,192.9 584.5,193.0 584.3,193.0 583.8,193.0 582.8,192.8 582.0,193.3 581.5,192.9 581.3,192.9 580.5,192.9 579.8,193.3 579.5,193.2 578.8,192.9 577.5,192.9 576.8,193.3 575.8,192.8 575.3,192.8 575.0,193.0 574.3,193.7 573.3,192.8 573.0,192.9 572.0,193.5 571.3,193.0 571.0,193.1 570.8,193.1 570.3,192.9 564.8,192.8 564.5,193.0 563.8,193.7 563.5,193.6 562.8,192.8 562.3,193.1 561.8,192.8 560.3,192.8 559.8,193.0 559.3,193.0 559.0,193.1 558.8,192.9 558.5,192.8 557.0,192.8 556.3,193.2 555.5,192.8 555.0,192.8 554.5,193.0 554.0,193.1 553.5,192.8 553.0,192.8 552.5,193.0 552.0,192.8 550.3,192.9 550.0,193.1 549.8,193.1 549.5,192.9 549.3,192.8 548.0,192.8 547.5,193.2 547.0,192.8 539.5,192.9 538.8,193.3 537.8,192.8 532.8,192.9 532.5,193.2 532.3,193.2 532.0,192.9 531.8,192.8 528.0,192.9 527.5,193.1 527.3,193.3 526.8,192.9 525.5,192.9 524.8,193.2 524.5,193.2 523.8,192.8 521.5,193.0 521.0,192.8 491.1,192.8 490.3,193.0 489.1,192.8 488.6,193.1 488.3,193.0 488.1,192.9 474.3,193.1 473.8,192.9 461.3,193.0 460.8,192.9 460.1,193.0 458.1,192.9 457.3,193.2 456.6,192.9 456.3,193.0 456.1,193.0 455.8,192.9 455.3,192.8 454.3,193.2 454.1,193.1 453.3,192.9 449.8,192.8" fill="#ff0000"/>
<polygon points="586.40,192.0 586.54,174.1 586.70,147.3 586.81,110.1 586.85,43.1 587.19,42.5 588.21,42.5 588.55,43.1 588.59,110.1 588.70,147.3 588.86,174.1 589.00,192.0" fill="#ff0000"/>
<polygon points="550.40,192.0 550.58,183.7 550.76,171.3 550.90,154.1 550.95,123.0 551.33,122.4 552.47,122.4 552.85,123.0 552.90,154.1 553.04,171.3 553.22,183.7 553.40,192.0" fill="#ff0000"/>
<polygon points="595.10,192.0 595.23,189.4 595.36,185.4 595.46,179.9 595.50,170.0 595.82,169.4 596.78,169.4 597.10,170.0 597.14,179.9 597.24,185.4 597.37,189.4 597.50,192.0" fill="#ff0000"/>
<polygon points="518.70,192.0 518.80,190.3 518.90,187.7 518.97,184.1 519.00,177.7 519.32,177.1 520.28,177.1 520.60,177.7 520.63,184.1 520.70,187.7 520.80,190.3 520.90,192.0" fill="#ff0000"/>
<polygon points="561.80,192.0 561.90,190.7 562.00,188.6 562.07,185.8 562.10,180.8 562.42,180.2 563.38,180.2 563.70,180.8 563.73,185.8 563.80,188.6 563.90,190.7 564.00,192.0" fill="#ff0000"/>
<polygon points="642.00,192.0 642.08,190.7 642.16,188.7 642.23,185.9 642.25,181.0 642.59,180.4 643.61,180.4 643.95,181.0 643.97,185.9 644.04,188.7 644.12,190.7 644.20,192.0" fill="#ff0000"/>
<polygon points="608.60,192.0 608.74,191.4 608.90,190.6 609.01,189.4 609.05,187.2 609.27,186.6 609.93,186.6 610.15,187.2 610.19,189.4 610.30,190.6 610.46,191.4 610.60,192.0" fill="#ff0000"/>
<polygon points="658.70,192.0 658.84,191.6 659.00,191.1 659.11,190.3 659.15,188.9 659.37,188.3 660.03,188.3 660.25,188.9 660.29,190.3 660.40,191.1 660.56,191.6 660.70,192.0" fill="#ff0000"/>
<polygon points="699.80,192.0 699.91,191.6 700.03,191.1 700.12,190.3 700.15,188.9 700.37,188.3 701.03,188.3 701.25,188.9 701.28,190.3 701.37,191.1 701.49,191.6 701.60,192.0" fill="#ff0000"/>
<polygon points="542.20,192.0 542.31,191.6 542.43,190.9 542.52,190.0 542.55,188.4 542.77,187.8 543.43,187.8 543.65,188.4 543.68,190.0 543.77,190.9 543.89,191.6 544.00,192.0" fill="#ff0000"/>
<polygon points="488.10,192.0 488.21,191.8 488.33,191.4 488.42,190.9 488.45,190.0 488.67,189.4 489.33,189.4 489.55,190.0 489.58,190.9 489.67,191.4 489.79,191.8 489.90,192.0" fill="#ff0000"/>
<polygon points="549.40,192.0 549.51,191.1 549.63,189.8 549.72,187.9 549.75,184.6 549.97,184.0 550.63,184.0 550.85,184.6 550.88,187.9 550.97,189.8 551.09,191.1 551.20,192.0" fill="#ff0000"/>
<polygon points="597.80,192.0 597.94,191.7 598.10,191.3 598.21,190.7 598.25,189.6 598.47,189.0 599.13,189.0 599.35,189.6 599.39,190.7 599.50,191.3 599.66,191.7 599.80,192.0" fill="#ff0000"/>
<polygon points="615.80,192.0 616.01,191.8 616.23,191.6 616.39,191.2 616.45,190.6 616.67,190.0 617.33,190.0 617.55,190.6 617.61,191.2 617.77,191.6 617.99,191.8 618.20,192.0" fill="#ff0000"/>
<polygon points="681.10,192.0 681.21,191.8 681.33,191.4 681.42,191.0 681.45,190.1 681.67,189.5 682.33,189.5 682.55,190.1 682.58,191.0 682.67,191.4 682.79,191.8 682.90,192.0" fill="#ff0000"/>
<polygon points="678.20,192.0 678.28,191.8 678.36,191.5 678.43,191.1 678.45,190.4 678.67,189.8 679.33,189.8 679.55,190.4 679.57,191.1 679.64,191.5 679.72,191.8 679.80,192.0" fill="#ff0000"/>
<text x="426.0" y="231.7" font-size="13.2" textLength="22.6" lengthAdjust="spacingAndGlyphs" stroke="#000" stroke-width="0.12">CDs</text>
<text x="441.6" y="211.6" font-size="13.2" textLength="24.2" lengthAdjust="spacingAndGlyphs" stroke="#000" stroke-width="0.12">9AA</text>
<text x="454.8" y="189.0" font-size="13.2" textLength="51.1" lengthAdjust="spacingAndGlyphs" stroke="#000" stroke-width="0.12">9AA/CDs</text>
<text x="569.4" y="36.8" font-size="12.6" textLength="36.9" lengthAdjust="spacingAndGlyphs" stroke="#000" stroke-width="0.12">266.218</text>
<text x="536.6" y="119.9" font-size="11.7" textLength="32.8" lengthAdjust="spacingAndGlyphs" stroke="#000" stroke-width="0.12">195.074</text>
<text x="592.2" y="151.8" font-size="12.4" textLength="35.9" lengthAdjust="spacingAndGlyphs" stroke="#000" stroke-width="0.12">282.220</text>
<line x1="602.3" y1="156.8" x2="595.4" y2="167.4" stroke="#000" stroke-width="1.7" stroke-dasharray="1.5,1.3"/>
<text x="423.2" y="59.2" font-size="14.9" textLength="52.0" lengthAdjust="spacingAndGlyphs" stroke="#000" stroke-width="0.12">Cytidine</text>
<text x="381.2" y="35.5" font-size="12" stroke="#000" stroke-width="0.2" textLength="23.9" lengthAdjust="spacingAndGlyphs">×10<tspan dy="-2.0" font-size="11.4">4</tspan></text>
<text transform="translate(377.5,132.9) rotate(-90)" font-size="15.2" text-anchor="middle" stroke="#000" stroke-width="0.22" textLength="74.5" lengthAdjust="spacingAndGlyphs">Intens. [a.u.]</text>
<text x="533.2" y="268.0" font-size="15.2" textLength="23.2" lengthAdjust="spacingAndGlyphs" stroke="#000" stroke-width="0.12">m/z</text>
<text x="386.1" y="15.0" font-size="20" textLength="26.0" lengthAdjust="spacingAndGlyphs" font-weight="bold" font-family='"Liberation Sans","DejaVu Sans",sans-serif'>(b)</text>
<line x1="49.5" y1="504.0" x2="82.6" y2="461.5" stroke="#c6c6c6" stroke-width="1.6"/>
<line x1="48.0" y1="317.8" x2="48.0" y2="509.8" stroke="#000" stroke-width="1.55"/>
<line x1="47.2" y1="508.9" x2="306.8" y2="508.9" stroke="#000" stroke-width="1.7"/>
<line x1="43.6" y1="507.2" x2="48.0" y2="507.2" stroke="#000" stroke-width="1.3"/>
<line x1="45.0" y1="501.6" x2="48.0" y2="501.6" stroke="#000" stroke-width="1.3"/>
<line x1="45.0" y1="495.0" x2="48.0" y2="495.0" stroke="#000" stroke-width="1.3"/>
<line x1="45.0" y1="488.5" x2="48.0" y2="488.5" stroke="#000" stroke-width="1.3"/>
<line x1="45.0" y1="482.0" x2="48.0" y2="482.0" stroke="#000" stroke-width="1.3"/>
<line x1="43.6" y1="475.4" x2="48.0" y2="475.4" stroke="#000" stroke-width="1.3"/>
<line x1="45.0" y1="468.9" x2="48.0" y2="468.9" stroke="#000" stroke-width="1.3"/>
<line x1="45.0" y1="462.3" x2="48.0" y2="462.3" stroke="#000" stroke-width="1.3"/>
<line x1="45.0" y1="455.8" x2="48.0" y2="455.8" stroke="#000" stroke-width="1.3"/>
<line x1="45.0" y1="449.3" x2="48.0" y2="449.3" stroke="#000" stroke-width="1.3"/>
<line x1="43.6" y1="442.7" x2="48.0" y2="442.7" stroke="#000" stroke-width="1.3"/>
<line x1="45.0" y1="436.2" x2="48.0" y2="436.2" stroke="#000" stroke-width="1.3"/>
<line x1="45.0" y1="429.7" x2="48.0" y2="429.7" stroke="#000" stroke-width="1.3"/>
<line x1="45.0" y1="423.1" x2="48.0" y2="423.1" stroke="#000" stroke-width="1.3"/>
<line x1="45.0" y1="416.6" x2="48.0" y2="416.6" stroke="#000" stroke-width="1.3"/>
<line x1="43.6" y1="410.1" x2="48.0" y2="410.1" stroke="#000" stroke-width="1.3"/>
<line x1="45.0" y1="403.5" x2="48.0" y2="403.5" stroke="#000" stroke-width="1.3"/>
<line x1="45.0" y1="397.0" x2="48.0" y2="397.0" stroke="#000" stroke-width="1.3"/>
<line x1="45.0" y1="390.5" x2="48.0" y2="390.5" stroke="#000" stroke-width="1.3"/>
<line x1="45.0" y1="383.9" x2="48.0" y2="383.9" stroke="#000" stroke-width="1.3"/>
<line x1="43.6" y1="377.4" x2="48.0" y2="377.4" stroke="#000" stroke-width="1.3"/>
<line x1="45.0" y1="370.8" x2="48.0" y2="370.8" stroke="#000" stroke-width="1.3"/>
<line x1="45.0" y1="364.3" x2="48.0" y2="364.3" stroke="#000" stroke-width="1.3"/>
<line x1="45.0" y1="357.8" x2="48.0" y2="357.8" stroke="#000" stroke-width="1.3"/>
<line x1="45.0" y1="351.2" x2="48.0" y2="351.2" stroke="#000" stroke-width="1.3"/>
<line x1="43.6" y1="344.7" x2="48.0" y2="344.7" stroke="#000" stroke-width="1.3"/>
<line x1="45.0" y1="338.2" x2="48.0" y2="338.2" stroke="#000" stroke-width="1.3"/>
<line x1="45.0" y1="331.6" x2="48.0" y2="331.6" stroke="#000" stroke-width="1.3"/>
<line x1="45.0" y1="325.1" x2="48.0" y2="325.1" stroke="#000" stroke-width="1.3"/>
<line x1="43.8" y1="318.5" x2="48.0" y2="318.5" stroke="#000" stroke-width="1.3"/>
<text x="40.8" y="512.0" font-size="12" text-anchor="end" textLength="13.5" lengthAdjust="spacingAndGlyphs" stroke="#000" stroke-width="0.12">0.0</text>
<text x="40.8" y="479.9" font-size="12" text-anchor="end" textLength="13.5" lengthAdjust="spacingAndGlyphs" stroke="#000" stroke-width="0.12">0.5</text>
<text x="40.8" y="446.2" font-size="12" text-anchor="end" textLength="13.5" lengthAdjust="spacingAndGlyphs" stroke="#000" stroke-width="0.12">1.0</text>
<text x="40.8" y="413.2" font-size="12" text-anchor="end" textLength="13.5" lengthAdjust="spacingAndGlyphs" stroke="#000" stroke-width="0.12">1.5</text>
<text x="40.8" y="380.9" font-size="12" text-anchor="end" textLength="13.5" lengthAdjust="spacingAndGlyphs" stroke="#000" stroke-width="0.12">2.0</text>
<text x="40.8" y="348.4" font-size="12" text-anchor="end" textLength="13.5" lengthAdjust="spacingAndGlyphs" stroke="#000" stroke-width="0.12">2.5</text>
<line x1="48.0" y1="508.9" x2="48.0" y2="511.5" stroke="#000" stroke-width="1.35"/>
<text x="47.0" y="522.7" font-size="12.4" text-anchor="middle" textLength="5.4" lengthAdjust="spacingAndGlyphs" stroke="#000" stroke-width="0.12">0</text>
<line x1="53.2" y1="508.9" x2="53.2" y2="511.1" stroke="#000" stroke-width="1.35"/>
<line x1="58.3" y1="508.9" x2="58.3" y2="511.1" stroke="#000" stroke-width="1.35"/>
<line x1="63.5" y1="508.9" x2="63.5" y2="511.1" stroke="#000" stroke-width="1.35"/>
<line x1="68.7" y1="508.9" x2="68.7" y2="511.1" stroke="#000" stroke-width="1.35"/>
<line x1="73.8" y1="508.9" x2="73.8" y2="511.5" stroke="#000" stroke-width="1.35"/>
<text x="73.2" y="522.7" font-size="12.4" text-anchor="middle" textLength="10.8" lengthAdjust="spacingAndGlyphs" stroke="#000" stroke-width="0.12">50</text>
<line x1="79.0" y1="508.9" x2="79.0" y2="511.1" stroke="#000" stroke-width="1.35"/>
<line x1="84.1" y1="508.9" x2="84.1" y2="511.1" stroke="#000" stroke-width="1.35"/>
<line x1="89.3" y1="508.9" x2="89.3" y2="511.1" stroke="#000" stroke-width="1.35"/>
<line x1="94.5" y1="508.9" x2="94.5" y2="511.1" stroke="#000" stroke-width="1.35"/>
<line x1="99.6" y1="508.9" x2="99.6" y2="511.5" stroke="#000" stroke-width="1.35"/>
<text x="99.3" y="522.7" font-size="12.4" text-anchor="middle" textLength="16.2" lengthAdjust="spacingAndGlyphs" stroke="#000" stroke-width="0.12">100</text>
<line x1="104.8" y1="508.9" x2="104.8" y2="511.1" stroke="#000" stroke-width="1.35"/>
<line x1="110.0" y1="508.9" x2="110.0" y2="511.1" stroke="#000" stroke-width="1.35"/>
<line x1="115.1" y1="508.9" x2="115.1" y2="511.1" stroke="#000" stroke-width="1.35"/>
<line x1="120.3" y1="508.9" x2="120.3" y2="511.1" stroke="#000" stroke-width="1.35"/>
<line x1="125.5" y1="508.9" x2="125.5" y2="511.5" stroke="#000" stroke-width="1.35"/>
<text x="125.5" y="522.7" font-size="12.4" text-anchor="middle" textLength="16.2" lengthAdjust="spacingAndGlyphs" stroke="#000" stroke-width="0.12">150</text>
<line x1="130.6" y1="508.9" x2="130.6" y2="511.1" stroke="#000" stroke-width="1.35"/>
<line x1="135.8" y1="508.9" x2="135.8" y2="511.1" stroke="#000" stroke-width="1.35"/>
<line x1="141.0" y1="508.9" x2="141.0" y2="511.1" stroke="#000" stroke-width="1.35"/>
<line x1="146.1" y1="508.9" x2="146.1" y2="511.1" stroke="#000" stroke-width="1.35"/>
<line x1="151.3" y1="508.9" x2="151.3" y2="511.5" stroke="#000" stroke-width="1.35"/>
<text x="151.6" y="522.7" font-size="12.4" text-anchor="middle" textLength="16.2" lengthAdjust="spacingAndGlyphs" stroke="#000" stroke-width="0.12">200</text>
<line x1="156.4" y1="508.9" x2="156.4" y2="511.1" stroke="#000" stroke-width="1.35"/>
<line x1="161.6" y1="508.9" x2="161.6" y2="511.1" stroke="#000" stroke-width="1.35"/>
<line x1="166.8" y1="508.9" x2="166.8" y2="511.1" stroke="#000" stroke-width="1.35"/>
<line x1="171.9" y1="508.9" x2="171.9" y2="511.1" stroke="#000" stroke-width="1.35"/>
<line x1="177.1" y1="508.9" x2="177.1" y2="511.5" stroke="#000" stroke-width="1.35"/>
<text x="177.8" y="522.7" font-size="12.4" text-anchor="middle" textLength="16.2" lengthAdjust="spacingAndGlyphs" stroke="#000" stroke-width="0.12">250</text>
<line x1="182.3" y1="508.9" x2="182.3" y2="511.1" stroke="#000" stroke-width="1.35"/>
<line x1="187.4" y1="508.9" x2="187.4" y2="511.1" stroke="#000" stroke-width="1.35"/>
<line x1="192.6" y1="508.9" x2="192.6" y2="511.1" stroke="#000" stroke-width="1.35"/>
<line x1="197.8" y1="508.9" x2="197.8" y2="511.1" stroke="#000" stroke-width="1.35"/>
<line x1="202.9" y1="508.9" x2="202.9" y2="511.5" stroke="#000" stroke-width="1.35"/>
<text x="204.0" y="522.7" font-size="12.4" text-anchor="middle" textLength="16.2" lengthAdjust="spacingAndGlyphs" stroke="#000" stroke-width="0.12">300</text>
<line x1="208.1" y1="508.9" x2="208.1" y2="511.1" stroke="#000" stroke-width="1.35"/>
<line x1="213.2" y1="508.9" x2="213.2" y2="511.1" stroke="#000" stroke-width="1.35"/>
<line x1="218.4" y1="508.9" x2="218.4" y2="511.1" stroke="#000" stroke-width="1.35"/>
<line x1="223.6" y1="508.9" x2="223.6" y2="511.1" stroke="#000" stroke-width="1.35"/>
<line x1="228.7" y1="508.9" x2="228.7" y2="511.5" stroke="#000" stroke-width="1.35"/>
<text x="230.1" y="522.7" font-size="12.4" text-anchor="middle" textLength="16.2" lengthAdjust="spacingAndGlyphs" stroke="#000" stroke-width="0.12">350</text>
<line x1="233.9" y1="508.9" x2="233.9" y2="511.1" stroke="#000" stroke-width="1.35"/>
<line x1="239.1" y1="508.9" x2="239.1" y2="511.1" stroke="#000" stroke-width="1.35"/>
<line x1="244.2" y1="508.9" x2="244.2" y2="511.1" stroke="#000" stroke-width="1.35"/>
<line x1="249.4" y1="508.9" x2="249.4" y2="511.1" stroke="#000" stroke-width="1.35"/>
<line x1="254.6" y1="508.9" x2="254.6" y2="511.5" stroke="#000" stroke-width="1.35"/>
<text x="256.3" y="522.7" font-size="12.4" text-anchor="middle" textLength="16.2" lengthAdjust="spacingAndGlyphs" stroke="#000" stroke-width="0.12">400</text>
<line x1="259.7" y1="508.9" x2="259.7" y2="511.1" stroke="#000" stroke-width="1.35"/>
<line x1="264.9" y1="508.9" x2="264.9" y2="511.1" stroke="#000" stroke-width="1.35"/>
<line x1="270.1" y1="508.9" x2="270.1" y2="511.1" stroke="#000" stroke-width="1.35"/>
<line x1="275.2" y1="508.9" x2="275.2" y2="511.1" stroke="#000" stroke-width="1.35"/>
<line x1="280.4" y1="508.9" x2="280.4" y2="511.5" stroke="#000" stroke-width="1.35"/>
<text x="282.4" y="522.7" font-size="12.4" text-anchor="middle" textLength="16.2" lengthAdjust="spacingAndGlyphs" stroke="#000" stroke-width="0.12">450</text>
<line x1="285.5" y1="508.9" x2="285.5" y2="511.1" stroke="#000" stroke-width="1.35"/>
<line x1="290.7" y1="508.9" x2="290.7" y2="511.1" stroke="#000" stroke-width="1.35"/>
<line x1="295.9" y1="508.9" x2="295.9" y2="511.1" stroke="#000" stroke-width="1.35"/>
<line x1="301.0" y1="508.9" x2="301.0" y2="511.1" stroke="#000" stroke-width="1.35"/>
<line x1="306.2" y1="508.9" x2="306.2" y2="511.5" stroke="#000" stroke-width="1.35"/>
<text x="308.6" y="522.7" font-size="12.4" text-anchor="middle" textLength="16.2" lengthAdjust="spacingAndGlyphs" stroke="#000" stroke-width="0.12">500</text>
<polygon points="48.8,503.7 53.0,503.6 53.8,503.4 54.8,503.7 55.5,503.7 55.8,503.6 56.3,503.1 56.5,503.2 57.0,503.7 60.5,503.7 61.0,503.5 61.3,503.5 61.8,503.7 62.8,503.7 63.3,503.4 63.5,503.4 64.0,503.7 68.8,503.7 69.5,503.4 70.0,503.7 71.8,503.7 72.0,503.4 72.5,502.4 72.8,502.2 73.5,503.7 75.0,503.6 75.5,503.4 75.8,503.5 76.0,503.1 76.3,502.8 76.5,503.3 76.8,503.7 86.5,503.7 87.0,503.5 87.3,503.5 87.8,503.7 88.3,503.6 88.8,503.3 89.3,503.2 90.0,503.7 91.8,503.7 92.3,503.4 92.5,503.5 93.0,503.7 93.3,503.7 93.5,503.5 93.8,503.1 94.0,503.2 94.3,503.6 94.5,503.7 101.3,503.7 101.5,503.2 102.0,501.4 102.5,503.2 102.8,503.6 103.0,503.7 104.5,503.7 104.8,503.5 105.0,503.5 105.3,503.6 105.5,503.5 108.5,503.6 109.0,503.4 109.8,503.6 110.0,503.6 110.3,503.4 110.5,503.4 110.8,503.6 115.5,503.6 116.3,503.1 116.8,503.5 117.5,503.7 120.5,503.7 121.0,503.4 121.5,503.7 122.5,502.8 122.8,502.9 123.0,503.1 123.3,502.6 123.5,502.6 123.8,503.3 124.0,503.7 126.3,503.7 126.8,503.4 127.3,503.4 127.8,503.6 128.6,502.2 128.8,502.4 129.6,503.7 129.8,503.3 130.1,502.4 130.3,502.8 130.8,501.5 131.6,503.3 131.8,503.4 132.3,503.0 132.6,502.5 133.1,503.6 137.3,503.7 138.6,503.1 138.8,503.2 139.1,502.2 139.3,502.0 139.6,503.4 139.8,503.7 141.8,503.6 143.1,503.7 143.3,503.6 143.6,503.3 143.8,503.2 144.1,503.6 144.3,503.7 145.1,503.6 145.8,503.4 146.6,503.6 146.8,503.3 147.1,503.3 147.3,503.6 147.6,503.7 148.1,503.7 148.8,501.5 149.1,501.5 149.8,503.7 150.1,503.7 151.1,502.1 151.8,503.4 152.1,503.4 152.3,503.2 152.6,503.3 153.1,502.8 153.6,503.4 153.8,503.7 154.3,503.4 154.8,503.5 155.1,503.4 155.8,503.7 156.3,503.7 156.6,503.6 156.8,502.9 157.1,502.7 157.3,503.3 158.3,503.7 160.3,503.6 160.8,503.5 161.1,503.6 161.6,502.5 161.8,503.1 162.1,503.4 162.3,503.6 162.6,503.2 162.8,503.3 163.1,503.7 164.8,503.7 165.1,503.6 165.6,503.3 165.8,503.2 166.3,503.6 166.8,503.2 167.1,503.1 167.8,503.7 168.3,503.7 168.6,503.5 169.1,502.8 169.3,503.0 169.6,502.8 169.8,502.3 170.1,502.1 170.6,503.0 170.8,502.7 171.3,501.6 172.1,503.3 172.3,503.4 172.6,503.2 173.1,503.5 173.3,503.3 173.6,503.4 174.3,503.7 174.8,503.6 175.3,502.5 175.6,502.4 176.1,503.5 176.3,503.6 177.1,503.6 177.3,503.0 177.6,502.0 177.8,502.4 178.1,503.3 178.3,503.7 180.3,503.7 181.3,502.8 182.1,503.4 182.6,503.1 182.8,502.8 183.6,503.5 183.8,503.7 184.8,503.7 185.3,503.6 185.6,503.6 185.8,503.6 186.3,503.3 186.6,503.4 187.1,503.7 189.6,503.7 190.3,503.2 190.6,503.1 191.3,503.6 191.8,503.7 192.6,502.8 192.8,502.4 193.3,503.1 193.6,503.3 193.8,503.3 194.1,503.2 194.3,503.4 194.6,503.2 195.1,502.6 195.6,503.3 195.8,503.5 196.1,503.2 196.6,503.0 196.8,503.1 197.1,503.4 197.3,503.6 197.6,503.6 198.1,503.3 198.8,503.3 199.1,502.7 199.6,503.7 201.6,503.7 202.3,503.4 203.1,503.6 203.8,503.0 204.1,503.0 204.8,503.6 207.1,503.7 207.6,503.2 207.8,503.5 208.3,503.1 208.6,503.0 208.8,503.2 209.3,502.9 209.6,502.9 210.1,501.7 210.3,501.7 210.6,502.4 210.8,502.7 211.1,502.4 211.8,503.5 212.1,503.6 213.1,503.7 214.1,503.4 214.6,503.6 214.8,503.4 215.1,503.4 215.6,503.7 216.8,503.7 217.3,503.5 218.1,503.7 218.3,503.7 218.8,503.1 219.1,502.7 219.6,503.7 222.6,503.7 222.8,503.2 223.1,502.0 223.3,501.9 223.6,503.1 223.8,503.7 224.3,502.9 224.6,503.2 224.8,503.6 225.1,503.7 225.6,503.7 226.1,503.5 226.3,503.6 226.6,503.3 227.1,501.8 227.3,502.4 228.3,503.6 231.8,503.7 232.6,503.4 233.6,503.7 234.1,503.5 234.6,503.7 235.3,503.7 236.1,503.2 236.3,503.3 236.8,503.4 237.1,503.5 237.6,503.4 238.1,503.6 238.3,503.5 238.6,503.1 238.8,503.1 239.1,503.5 239.3,503.7 240.6,503.7 241.1,503.0 241.3,503.4 241.6,503.6 241.8,503.5 242.6,503.7 242.8,503.6 243.1,503.2 243.3,503.2 243.6,503.6 243.8,503.7 244.6,503.7 245.3,503.2 245.6,502.9 245.8,502.7 246.1,503.0 246.3,502.7 246.8,503.7 248.1,503.7 248.8,503.4 249.3,503.5 249.6,503.5 250.8,503.7 251.1,503.7 251.6,503.3 251.8,503.3 252.3,503.7 254.8,503.7 255.1,503.5 255.3,503.1 255.6,503.3 255.8,503.6 256.3,502.3 256.6,501.9 257.1,503.4 257.3,503.7 257.6,503.7 258.1,503.4 258.3,503.5 258.8,503.3 259.3,503.5 259.8,503.5 260.3,503.1 261.1,503.7 262.6,503.7 263.1,503.2 263.3,503.1 263.8,503.7 264.3,503.6 264.6,503.1 264.8,502.9 265.1,503.1 265.3,503.0 265.8,503.4 266.1,503.3 266.3,503.1 266.6,503.2 266.8,502.6 267.1,502.7 267.3,503.3 267.8,502.7 268.6,503.7 271.6,503.7 272.3,503.4 272.6,503.4 273.3,503.7 274.1,503.7 274.8,501.4 275.3,502.9 275.6,503.4 275.8,503.0 276.3,503.6 276.8,503.7 277.3,503.3 277.6,503.3 278.1,503.7 278.3,503.6 278.6,503.3 278.8,503.1 279.3,503.7 281.3,503.7 281.6,503.6 281.8,502.3 282.1,502.1 282.3,502.4 282.8,503.6 283.6,503.7 283.8,503.6 284.6,503.1 284.8,503.3 285.1,503.3 285.3,503.0 285.6,503.0 286.1,503.7 286.8,503.7 287.1,503.6 287.6,502.3 287.8,502.2 288.3,503.6 289.3,503.1 289.8,502.4 290.6,503.5 290.8,503.6 291.3,503.2 291.6,503.2 292.1,503.6 293.1,503.7 294.1,503.5 294.6,502.5 294.8,502.8 295.1,503.3 295.6,503.6 295.8,503.5 296.3,503.0 296.6,503.0 297.1,503.5 297.3,503.1 297.8,501.9 298.1,501.5 298.8,503.4 299.1,503.3 299.6,502.8 299.8,502.6 300.3,503.2 300.6,503.0 301.1,503.5 301.3,503.7 306.6,503.7 306.8,503.5 307.1,503.2 307.3,502.9 307.8,503.7 310.3,503.7 310.6,503.5 310.8,503.3 311.1,503.1 311.6,503.6 314.1,503.7 314.1,505.1 310.6,505.3 309.8,505.1 301.3,505.1 300.3,505.4 299.6,507.0 298.8,505.2 298.6,505.1 296.6,505.1 296.3,505.2 295.8,505.6 295.3,505.3 294.8,505.2 294.3,505.5 294.1,505.5 293.3,505.1 290.6,505.1 290.1,505.5 289.6,505.1 288.3,505.1 287.6,506.1 287.3,506.0 286.8,505.4 286.6,505.2 286.3,505.3 285.8,505.1 285.3,505.3 284.8,505.1 282.1,505.2 281.8,505.7 281.6,505.7 281.3,505.2 281.1,505.1 280.3,505.3 280.1,505.4 279.8,505.6 279.6,505.6 279.1,505.1 278.8,505.1 278.3,505.4 278.1,505.4 277.6,505.1 275.8,505.2 275.3,505.6 275.1,505.3 274.8,505.1 272.8,505.1 272.6,505.3 272.1,505.8 271.8,505.7 271.6,505.4 271.1,505.5 270.8,505.4 270.6,505.4 270.3,505.6 270.1,505.5 269.8,505.9 269.6,505.5 268.6,505.2 268.3,505.2 268.1,505.2 267.8,505.2 267.1,505.1 266.8,505.6 266.6,506.4 266.3,506.8 265.8,505.2 263.8,505.1 263.3,505.6 263.1,505.7 262.6,505.2 262.3,505.1 261.6,505.7 261.3,505.8 260.6,505.1 254.8,505.1 254.1,505.4 253.3,505.1 252.6,505.1 252.3,505.2 251.8,505.9 251.6,505.5 251.3,505.4 251.1,505.5 250.3,505.1 248.3,505.1 247.6,505.5 246.6,505.1 246.3,505.2 245.8,505.5 245.6,505.6 244.8,505.1 240.6,505.1 240.3,505.2 239.8,505.8 239.1,507.0 238.1,505.1 237.6,505.6 237.1,505.3 236.8,505.4 236.6,505.2 235.8,505.4 235.1,505.2 233.3,505.1 233.1,505.2 232.8,505.4 232.6,505.3 232.3,505.2 232.1,505.1 230.6,505.2 230.1,505.9 229.6,505.3 229.3,505.4 228.6,506.6 228.3,506.4 227.6,505.2 227.3,505.1 226.3,505.1 225.8,505.6 225.6,505.5 225.3,505.3 224.8,505.4 224.3,505.1 221.1,505.1 220.1,505.7 219.1,505.2 217.3,505.1 216.6,505.3 215.8,505.2 215.3,505.7 214.8,505.3 214.6,505.4 214.3,505.9 214.1,505.7 213.8,505.3 213.6,505.1 213.3,505.3 212.6,506.1 211.6,505.1 211.3,505.1 210.6,505.8 210.3,505.8 209.6,505.1 208.3,505.2 208.1,505.2 207.8,505.1 200.1,505.1 199.8,505.5 199.6,506.4 199.3,506.9 199.1,506.0 198.3,505.2 198.1,505.1 195.8,505.3 195.6,505.2 195.3,505.5 194.8,506.6 194.6,506.7 193.8,505.1 193.1,505.2 192.6,505.4 192.3,505.4 191.8,505.8 191.1,505.3 190.8,505.3 190.3,505.2 188.6,505.1 188.1,505.4 187.8,505.7 187.6,506.6 187.3,506.2 187.1,505.5 186.6,505.2 184.8,505.1 184.6,505.4 184.3,506.0 184.1,505.8 183.8,505.2 183.6,505.1 182.6,505.1 182.3,505.6 182.1,506.5 181.6,505.1 178.8,505.2 178.6,505.4 178.3,505.5 177.8,505.1 177.6,505.3 177.1,505.9 176.8,506.0 176.3,505.4 176.1,505.8 175.8,505.8 175.6,505.4 174.8,505.1 173.1,505.2 172.8,505.6 172.3,506.8 172.1,506.6 171.6,505.4 171.3,505.1 168.6,505.3 167.6,505.1 167.1,505.4 166.8,505.6 166.6,506.0 166.3,506.1 165.8,505.4 165.3,505.9 164.8,505.5 164.6,505.4 164.1,506.0 163.8,505.7 163.6,505.6 163.3,505.9 163.1,505.8 162.3,505.1 161.3,505.1 161.1,505.2 160.6,505.6 159.8,505.1 159.6,505.1 159.1,506.8 158.8,506.4 158.6,505.4 158.3,505.1 151.1,505.1 150.3,505.3 150.1,505.5 149.8,505.5 149.3,505.1 148.3,505.1 148.1,505.3 147.6,506.0 147.3,506.0 146.8,505.3 146.6,505.1 140.3,505.1 140.1,505.4 139.8,506.0 139.6,506.1 139.3,505.6 139.1,505.4 138.6,505.8 138.3,505.8 137.6,505.3 137.1,505.1 136.3,505.1 135.8,506.3 135.6,505.6 135.3,505.2 134.8,505.3 134.3,505.2 130.8,505.1 130.3,505.3 129.6,505.4 128.8,505.2 124.3,505.1 123.8,505.4 122.8,505.1 119.3,505.1 118.8,505.6 118.5,505.8 118.0,505.3 117.5,505.1 114.3,505.1 114.0,505.4 113.8,505.5 113.5,505.2 113.3,505.1 110.8,505.1 109.8,505.7 109.5,505.5 109.3,505.8 109.0,505.9 108.5,505.1 104.0,505.1 103.8,505.4 103.0,506.7 102.8,506.4 102.0,505.2 101.8,505.1 101.3,506.9 101.0,505.7 100.8,505.8 100.0,505.1 96.5,505.2 96.0,505.1 89.0,505.1 88.8,505.3 88.0,506.0 87.3,505.3 87.0,505.3 86.5,505.5 85.5,505.1 79.3,505.1 78.8,505.5 78.5,505.5 78.0,505.1 75.3,505.3 74.5,505.1 72.3,505.1 72.0,505.3 71.5,506.5 71.0,505.4 70.5,505.2 66.5,505.3 65.8,505.1 63.5,505.1 62.8,505.5 62.3,505.2 62.0,505.1 59.0,505.1 58.8,505.3 58.3,505.9 58.0,505.9 57.5,505.4 57.0,506.4 56.5,505.3 56.3,505.1 53.5,505.2 48.8,505.1" fill="#000000"/>
<polygon points="142.40,504.4 142.54,503.0 142.70,500.9 142.81,498.0 142.85,492.7 143.11,492.1 143.89,492.1 144.15,492.7 144.19,498.0 144.30,500.9 144.46,503.0 144.60,504.4" fill="#000000"/>
<polygon points="209.50,504.4 209.64,503.4 209.80,502.0 209.91,500.0 209.95,496.4 210.17,495.8 210.83,495.8 211.05,496.4 211.09,500.0 211.20,502.0 211.36,503.4 211.50,504.4" fill="#000000"/>
<polygon points="69.60,504.4 69.68,503.9 69.76,503.3 69.83,502.3 69.85,500.6 70.07,500.0 70.73,500.0 70.95,500.6 70.97,502.3 71.04,503.3 71.12,503.9 71.20,504.4" fill="#000000"/>
<polygon points="87.60,504.4 87.71,504.1 87.83,503.6 87.92,502.9 87.95,501.6 88.17,501.0 88.83,501.0 89.05,501.6 89.08,502.9 89.17,503.6 89.29,504.1 89.40,504.4" fill="#000000"/>
<polygon points="103.80,504.4 103.88,503.9 103.96,503.3 104.03,502.3 104.05,500.6 104.27,500.0 104.93,500.0 105.15,500.6 105.17,502.3 105.24,503.3 105.32,503.9 105.40,504.4" fill="#000000"/>
<polygon points="104.90,504.4 104.95,504.7 105.00,505.2 105.04,505.8 105.05,507.0 106.15,507.0 106.16,505.8 106.20,505.2 106.25,504.7 106.30,504.4" fill="#000000"/>
<polygon points="119.00,504.4 119.08,504.2 119.16,503.9 119.23,503.4 119.25,502.6 119.47,502.0 120.13,502.0 120.35,502.6 120.37,503.4 120.44,503.9 120.52,504.2 120.60,504.4" fill="#000000"/>
<polygon points="190.90,504.4 191.01,504.1 191.13,503.6 191.22,503.0 191.25,501.8 191.47,501.2 192.13,501.2 192.35,501.8 192.38,503.0 192.47,503.6 192.59,504.1 192.70,504.4" fill="#000000"/>
<polygon points="202.70,504.4 202.81,504.1 202.93,503.6 203.02,503.0 203.05,501.9 203.27,501.3 203.93,501.3 204.15,501.9 204.18,503.0 204.27,503.6 204.39,504.1 204.50,504.4" fill="#000000"/>
<polygon points="229.00,504.4 229.08,504.1 229.16,503.7 229.23,503.1 229.25,502.1 229.47,501.5 230.13,501.5 230.35,502.1 230.37,503.1 230.44,503.7 230.52,504.1 230.60,504.4" fill="#000000"/>
<polygon points="244.60,504.4 244.71,503.9 244.83,503.3 244.92,502.3 244.95,500.6 245.17,500.0 245.83,500.0 246.05,500.6 246.08,502.3 246.17,503.3 246.29,503.9 246.40,504.4" fill="#000000"/>
<polygon points="252.70,504.4 252.81,503.9 252.93,503.1 253.02,502.1 253.05,500.2 253.27,499.6 253.93,499.6 254.15,500.2 254.18,502.1 254.27,503.1 254.39,503.9 254.50,504.4" fill="#000000"/>
<polygon points="253.90,504.4 253.95,504.7 254.00,505.2 254.04,505.9 254.05,507.2 255.15,507.2 255.16,505.9 255.20,505.2 255.25,504.7 255.30,504.4" fill="#000000"/>
<polygon points="264.70,504.4 264.78,504.0 264.86,503.3 264.93,502.4 264.95,500.8 265.17,500.2 265.83,500.2 266.05,500.8 266.07,502.4 266.14,503.3 266.22,504.0 266.30,504.4" fill="#000000"/>
<polygon points="279.50,504.4 279.58,503.9 279.66,503.1 279.73,502.1 279.75,500.2 279.97,499.6 280.63,499.6 280.85,500.2 280.87,502.1 280.94,503.1 281.02,503.9 281.10,504.4" fill="#000000"/>
<polygon points="144.30,504.4 144.35,504.7 144.40,505.2 144.44,505.9 144.45,507.2 145.55,507.2 145.56,505.9 145.60,505.2 145.65,504.7 145.70,504.4" fill="#000000"/>
<polygon points="211.30,504.4 211.35,504.7 211.40,505.1 211.44,505.7 211.45,506.8 212.55,506.8 212.56,505.7 212.60,505.1 212.65,504.7 212.70,504.4" fill="#000000"/>
<polygon points="239.70,504.4 239.78,504.1 239.86,503.7 239.93,503.1 239.95,502.1 240.17,501.5 240.83,501.5 241.05,502.1 241.07,503.1 241.14,503.7 241.22,504.1 241.30,504.4" fill="#000000"/>
<polygon points="257.70,504.4 257.78,504.1 257.86,503.6 257.93,502.9 257.95,501.6 258.17,501.0 258.83,501.0 259.05,501.6 259.07,502.9 259.14,503.6 259.22,504.1 259.30,504.4" fill="#000000"/>
<polygon points="261.30,504.4 261.35,504.1 261.40,503.7 261.44,503.1 261.45,502.1 261.67,501.5 262.33,501.5 262.55,502.1 262.56,503.1 262.60,503.7 262.65,504.1 262.70,504.4" fill="#000000"/>
<polygon points="67.0,480.4 69.5,480.4 69.8,480.3 70.0,480.2 70.2,480.3 70.5,480.2 71.2,480.4 75.8,480.4 76.2,480.3 77.2,480.4 78.0,480.3 78.8,480.4 87.5,480.4 88.0,480.3 89.8,480.4 90.5,480.2 90.8,480.2 91.5,480.4 93.8,480.4 94.5,480.2 95.5,480.4 99.2,480.4 100.0,480.2 100.8,480.4 101.2,480.3 103.8,480.4 104.8,480.4 107.2,480.4 107.8,480.2 108.0,480.2 108.5,480.4 112.0,480.4 112.8,480.2 114.0,480.4 118.2,480.4 118.8,480.2 119.8,480.4 121.0,480.4 121.8,479.2 122.5,480.4 123.2,480.4 124.0,479.6 124.2,479.6 125.0,480.4 132.8,480.4 133.2,480.2 133.8,480.4 141.5,480.4 142.2,480.2 143.0,480.4 143.8,480.3 144.2,480.4 145.2,480.4 145.8,480.3 146.2,480.4 147.2,480.3 148.0,480.4 150.0,480.4 150.8,479.8 151.0,479.9 151.2,479.9 151.5,479.4 151.8,479.7 152.0,479.4 152.2,479.6 152.8,480.2 153.0,480.4 157.2,480.4 158.0,479.2 158.2,479.7 158.5,480.0 158.8,480.1 159.2,477.8 159.5,479.5 159.8,480.3 160.0,480.1 160.2,480.0 160.8,480.4 161.0,480.0 161.5,478.7 161.8,478.7 162.0,479.3 162.2,479.6 162.8,478.4 163.0,478.5 163.8,480.3 164.5,478.6 164.8,478.7 165.2,480.0 165.5,478.8 165.8,478.5 166.0,479.7 166.2,480.4 167.5,480.4 168.2,480.1 169.2,480.4 170.2,480.4 170.8,479.9 171.0,479.9 171.5,480.4 172.5,480.4 172.8,480.0 173.5,477.9 173.8,478.3 174.5,480.3 174.8,480.4 187.2,480.4 188.2,480.1 189.0,480.4 192.2,480.4 193.0,480.1 193.2,480.3 193.5,480.2 194.0,479.8 194.2,479.8 194.8,480.2 195.0,480.3 195.2,480.1 195.8,480.4 200.0,480.4 200.8,480.1 201.5,480.4 202.2,480.3 202.5,480.3 202.8,480.3 203.2,480.4 207.8,480.4 208.2,480.3 210.2,480.4 210.8,480.1 211.0,480.1 211.2,480.3 211.5,480.3 212.0,480.1 212.8,480.4 217.0,480.4 217.8,480.3 219.0,480.4 219.2,480.4 220.0,479.7 220.2,479.9 221.2,480.4 221.5,480.4 222.2,480.1 222.5,479.9 222.8,479.8 223.5,480.4 223.8,480.4 225.2,480.4 227.5,480.4 228.2,479.1 229.0,480.4 230.8,480.4 231.5,479.9 232.2,480.4 233.8,480.4 234.5,479.9 234.8,480.0 235.5,480.4 239.2,480.4 239.8,480.3 240.0,480.3 240.2,480.1 240.8,479.4 241.5,480.4 241.8,480.4 242.5,480.0 242.8,480.0 243.5,480.4 245.0,480.4 245.8,480.2 246.0,480.2 246.5,480.4 254.8,480.4 255.5,479.7 255.8,479.8 256.2,480.4 263.2,480.4 263.5,480.1 264.0,478.9 264.2,478.4 264.8,479.6 265.0,479.9 265.2,479.9 266.0,480.4 266.8,480.4 267.0,480.0 267.5,478.3 267.8,478.8 268.2,480.4 269.0,480.3 270.8,480.4 271.2,480.0 271.8,477.8 272.0,478.4 272.2,479.5 272.5,480.0 272.8,479.7 273.0,479.6 273.5,480.2 273.8,480.4 275.2,480.4 275.5,480.3 276.0,479.8 276.2,479.8 276.8,480.3 277.2,479.9 277.5,479.9 278.2,480.4 278.5,480.3 281.2,480.4 282.0,478.5 282.8,480.3 283.0,480.2 284.0,480.4 284.2,480.4 284.5,480.3 285.0,479.5 285.2,479.3 285.8,480.2 286.0,480.4 286.5,480.3 287.0,480.4 290.2,480.4 290.5,480.4 290.8,480.0 291.0,480.1 291.5,479.7 291.8,479.6 292.0,480.1 292.2,480.4 292.8,480.4 293.5,480.1 293.8,480.1 294.5,480.4 296.2,480.4 297.0,479.8 297.5,480.3 297.8,480.1 298.2,479.3 298.5,479.1 299.0,479.9 299.5,479.9 299.8,480.3 300.0,480.4 300.2,480.3 305.8,480.4 306.2,479.9 306.5,479.4 306.8,479.4 307.0,480.0 307.2,480.4 308.8,480.4 309.0,480.4 309.5,480.1 310.0,480.4 310.2,480.4 310.8,480.1 311.5,480.4 311.8,480.3 312.0,479.9 312.2,479.8 312.5,479.9 313.0,480.4 314.8,480.4 315.0,480.4 315.5,479.9 315.8,479.9 316.2,480.4 318.5,480.4 319.5,480.3 320.5,480.4 321.5,480.4 325.5,480.4 325.5,482.2 319.8,482.2 319.5,482.3 319.0,482.9 318.8,483.1 318.0,482.2 317.5,482.2 313.8,482.2 312.8,482.4 312.0,482.2 311.0,482.2 310.0,482.7 309.8,482.6 309.0,482.2 294.2,482.3 293.8,482.3 293.2,482.5 292.5,482.2 290.5,482.2 290.2,482.3 289.8,483.4 289.5,483.6 289.2,483.0 289.0,483.5 288.8,482.5 288.5,482.2 288.0,482.2 287.2,482.7 287.0,482.7 286.5,482.4 286.0,483.1 285.5,482.2 285.2,482.2 284.0,482.3 283.5,482.3 279.2,482.2 279.0,482.3 278.8,483.2 278.5,483.8 278.0,482.2 277.5,482.5 276.8,483.6 276.0,482.4 275.8,482.2 275.0,482.2 274.2,482.3 273.8,482.2 273.5,482.2 272.8,482.8 272.5,482.6 272.2,482.8 272.0,482.8 271.5,482.2 270.0,482.2 269.0,482.6 268.0,482.2 266.0,482.2 265.5,482.6 265.2,484.1 265.0,483.5 264.8,482.2 262.0,482.2 261.8,482.6 261.2,483.6 261.0,484.0 260.2,482.3 260.0,482.2 258.0,482.2 257.2,482.3 256.2,482.2 255.5,482.2 255.0,482.2 251.2,482.2 250.8,482.7 250.2,482.2 249.0,482.2 248.0,482.6 247.0,482.2 231.0,482.3 230.2,482.2 227.2,482.2 226.5,482.6 226.2,482.6 225.8,482.2 225.5,482.2 225.0,482.3 224.2,482.2 223.5,482.5 222.8,482.3 222.2,482.5 221.5,482.2 221.2,482.2 221.0,482.3 220.8,482.3 220.2,482.2 211.5,482.2 211.2,482.3 211.0,482.6 210.8,482.6 210.5,482.3 210.2,482.2 198.8,482.2 191.0,482.2 190.2,482.5 189.5,482.2 184.0,482.2 183.8,482.5 183.5,482.5 183.2,482.2 181.2,482.2 180.5,482.3 179.8,482.2 178.0,482.2 177.5,482.3 177.0,482.2 174.5,482.2 174.0,482.4 173.5,482.2 170.8,482.2 170.5,482.4 170.2,482.4 170.0,482.2 169.8,483.0 169.5,484.3 169.2,483.6 169.0,482.6 168.0,482.2 166.5,482.2 166.0,482.4 165.8,482.4 165.2,482.2 160.5,482.2 160.0,482.6 159.8,482.5 159.2,482.2 152.8,482.2 152.2,482.6 152.0,482.7 151.5,482.2 151.2,482.2 148.2,482.2 148.0,482.3 147.8,482.6 147.5,482.6 147.2,482.3 147.0,482.2 134.2,482.2 133.8,482.7 133.2,482.3 133.0,482.3 132.5,482.2 130.2,482.2 129.5,483.7 129.2,483.4 128.8,482.3 128.5,482.2 122.5,482.2 121.5,482.7 120.5,482.2 119.8,482.4 119.0,482.2 118.2,482.3 117.8,482.2 106.8,482.2 106.5,482.4 106.2,482.4 106.0,482.2 105.5,482.3 105.0,482.2 91.0,482.3 90.5,482.2 88.2,482.2 87.8,482.2 86.2,482.3 85.2,482.2 71.8,482.2 71.0,482.4 70.8,482.4 70.2,482.7 69.8,482.5 69.5,482.6 68.5,482.2 67.0,482.2" fill="#0000ff"/>
<polygon points="164.00,481.3 164.13,474.4 164.26,464.1 164.36,449.8 164.40,424.0 164.84,423.4 166.16,423.4 166.60,424.0 166.64,449.8 166.74,464.1 166.87,474.4 167.00,481.3" fill="#0000ff"/>
<polygon points="152.10,481.3 152.23,479.1 152.36,475.7 152.46,471.0 152.50,462.6 152.86,462.0 153.94,462.0 154.30,462.6 154.34,471.0 154.44,475.7 154.57,479.1 154.70,481.3" fill="#0000ff"/>
<polygon points="77.50,481.3 77.61,481.0 77.73,480.7 77.82,480.1 77.85,479.2 78.07,478.6 78.73,478.6 78.95,479.2 78.98,480.1 79.07,480.7 79.19,481.0 79.30,481.3" fill="#0000ff"/>
<polygon points="85.70,481.3 85.81,480.9 85.93,480.2 86.02,479.3 86.05,477.6 86.27,477.0 86.93,477.0 87.15,477.6 87.18,479.3 87.27,480.2 87.39,480.9 87.50,481.3" fill="#0000ff"/>
<polygon points="86.60,481.3 86.87,481.1 87.16,480.8 87.37,480.4 87.45,479.6 87.67,479.0 88.33,479.0 88.55,479.6 88.63,480.4 88.84,480.8 89.13,481.1 89.40,481.3" fill="#0000ff"/>
<polygon points="87.80,481.3 87.88,481.6 87.96,482.1 88.03,482.8 88.05,484.0 89.15,484.0 89.17,482.8 89.24,482.1 89.32,481.6 89.40,481.3" fill="#0000ff"/>
<polygon points="104.60,481.3 104.68,481.1 104.76,480.8 104.83,480.4 104.85,479.6 105.07,479.0 105.73,479.0 105.95,479.6 105.97,480.4 106.04,480.8 106.12,481.1 106.20,481.3" fill="#0000ff"/>
<polygon points="112.20,481.3 112.28,481.1 112.36,480.8 112.43,480.4 112.45,479.6 112.67,479.0 113.33,479.0 113.55,479.6 113.57,480.4 113.64,480.8 113.72,481.1 113.80,481.3" fill="#0000ff"/>
<polygon points="125.70,481.3 125.81,481.1 125.93,480.7 126.02,480.3 126.05,479.4 126.27,478.8 126.93,478.8 127.15,479.4 127.18,480.3 127.27,480.7 127.39,481.1 127.50,481.3" fill="#0000ff"/>
<polygon points="134.10,481.3 134.21,481.1 134.33,480.8 134.42,480.4 134.45,479.6 134.67,479.0 135.33,479.0 135.55,479.6 135.58,480.4 135.67,480.8 135.79,481.1 135.90,481.3" fill="#0000ff"/>
<polygon points="155.60,481.3 155.87,481.8 156.16,482.6 156.37,483.6 156.45,485.5 157.55,485.5 157.63,483.6 157.84,482.6 158.13,481.8 158.40,481.3" fill="#0000ff"/>
<polygon points="159.00,481.3 159.14,481.7 159.30,482.4 159.41,483.3 159.45,485.0 160.55,485.0 160.59,483.3 160.70,482.4 160.86,481.7 161.00,481.3" fill="#0000ff"/>
<polygon points="162.60,481.3 162.87,480.7 163.16,479.7 163.37,478.4 163.45,476.1 163.67,475.5 164.33,475.5 164.55,476.1 164.63,478.4 164.84,479.7 165.13,480.7 165.40,481.3" fill="#0000ff"/>
<polygon points="165.80,481.3 166.01,480.7 166.23,479.9 166.39,478.7 166.45,476.6 166.67,476.0 167.33,476.0 167.55,476.6 167.61,478.7 167.77,479.9 167.99,480.7 168.20,481.3" fill="#0000ff"/>
<polygon points="173.90,481.3 174.01,481.0 174.13,480.5 174.22,479.8 174.25,478.6 174.47,478.0 175.13,478.0 175.35,478.6 175.38,479.8 175.47,480.5 175.59,481.0 175.70,481.3" fill="#0000ff"/>
<polygon points="175.70,481.3 175.78,481.7 175.86,482.4 175.93,483.3 175.95,485.0 177.05,485.0 177.07,483.3 177.14,482.4 177.22,481.7 177.30,481.3" fill="#0000ff"/>
<polygon points="182.10,481.3 182.31,480.8 182.53,480.0 182.69,478.9 182.75,477.0 182.97,476.4 183.63,476.4 183.85,477.0 183.91,478.9 184.07,480.0 184.29,480.8 184.50,481.3" fill="#0000ff"/>
<polygon points="189.70,481.3 189.78,481.1 189.86,480.7 189.93,480.3 189.95,479.4 190.17,478.8 190.83,478.8 191.05,479.4 191.07,480.3 191.14,480.7 191.22,481.1 191.30,481.3" fill="#0000ff"/>
<polygon points="198.20,481.3 198.28,481.1 198.36,480.8 198.43,480.4 198.45,479.6 198.67,479.0 199.33,479.0 199.55,479.6 199.57,480.4 199.64,480.8 199.72,481.1 199.80,481.3" fill="#0000ff"/>
<polygon points="220.20,481.3 220.28,481.1 220.36,480.8 220.43,480.4 220.45,479.6 220.67,479.0 221.33,479.0 221.55,479.6 221.57,480.4 221.64,480.8 221.72,481.1 221.80,481.3" fill="#0000ff"/>
<polygon points="234.70,481.3 234.78,481.1 234.86,480.9 234.93,480.5 234.95,479.8 235.17,479.2 235.83,479.2 236.05,479.8 236.07,480.5 236.14,480.9 236.22,481.1 236.30,481.3" fill="#0000ff"/>
<polygon points="248.20,481.3 248.41,481.0 248.63,480.5 248.79,479.8 248.85,478.6 249.07,478.0 249.73,478.0 249.95,478.6 250.01,479.8 250.17,480.5 250.39,481.0 250.60,481.3" fill="#0000ff"/>
<polygon points="260.40,481.3 260.61,480.8 260.83,480.0 260.99,478.9 261.05,477.0 261.27,476.4 261.93,476.4 262.15,477.0 262.21,478.9 262.37,480.0 262.59,480.8 262.80,481.3" fill="#0000ff"/>
<polygon points="264.60,481.3 264.71,480.7 264.83,479.9 264.92,478.7 264.95,476.6 265.17,476.0 265.83,476.0 266.05,476.6 266.08,478.7 266.17,479.9 266.29,480.7 266.40,481.3" fill="#0000ff"/>
<polygon points="266.60,481.3 266.71,482.0 266.83,483.0 266.92,484.4 266.95,487.0 268.05,487.0 268.08,484.4 268.17,483.0 268.29,482.0 268.40,481.3" fill="#0000ff"/>
<polygon points="268.40,481.3 268.51,480.3 268.63,478.7 268.72,476.6 268.75,472.7 268.97,472.1 269.63,472.1 269.85,472.7 269.88,476.6 269.97,478.7 270.09,480.3 270.20,481.3" fill="#0000ff"/>
<polygon points="270.20,481.3 270.28,481.7 270.36,482.3 270.43,483.1 270.45,484.5 271.55,484.5 271.57,483.1 271.64,482.3 271.72,481.7 271.80,481.3" fill="#0000ff"/>
<polygon points="309.50,481.3 309.68,480.3 309.86,478.8 310.00,476.8 310.05,473.1 310.27,472.5 310.93,472.5 311.15,473.1 311.20,476.8 311.34,478.8 311.52,480.3 311.70,481.3" fill="#0000ff"/>
<polygon points="311.10,481.3 311.15,481.6 311.20,482.1 311.24,482.8 311.25,484.0 312.35,484.0 312.36,482.8 312.40,482.1 312.45,481.6 312.50,481.3" fill="#0000ff"/>
<polygon points="274.20,481.3 274.28,481.1 274.36,480.8 274.43,480.4 274.45,479.6 274.67,479.0 275.33,479.0 275.55,479.6 275.57,480.4 275.64,480.8 275.72,481.1 275.80,481.3" fill="#0000ff"/>
<polygon points="280.20,481.3 280.28,481.6 280.36,482.1 280.43,482.8 280.45,484.0 281.55,484.0 281.57,482.8 281.64,482.1 281.72,481.6 281.80,481.3" fill="#0000ff"/>
<polygon points="286.00,481.3 286.14,481.1 286.30,480.8 286.41,480.4 286.45,479.6 286.67,479.0 287.33,479.0 287.55,479.6 287.59,480.4 287.70,480.8 287.86,481.1 288.00,481.3" fill="#0000ff"/>
<polygon points="291.20,481.3 291.28,481.1 291.36,480.9 291.43,480.5 291.45,479.8 291.67,479.2 292.33,479.2 292.55,479.8 292.57,480.5 292.64,480.9 292.72,481.1 292.80,481.3" fill="#0000ff"/>
<polygon points="294.70,481.3 294.78,481.6 294.86,482.1 294.93,482.8 294.95,484.0 296.05,484.0 296.07,482.8 296.14,482.1 296.22,481.6 296.30,481.3" fill="#0000ff"/>
<polygon points="82.3,460.1 91.3,460.1 92.0,459.7 92.3,459.7 93.0,460.1 97.3,460.1 97.5,460.1 98.0,459.4 98.5,460.0 101.0,460.1 101.8,459.6 102.0,459.5 102.8,460.1 103.3,460.1 103.8,460.0 104.3,460.1 104.8,460.1 109.0,460.1 109.3,459.9 110.0,458.0 110.3,457.9 111.0,459.9 111.3,460.1 112.3,460.1 112.8,460.0 113.3,460.1 114.8,460.1 115.3,460.1 116.5,460.1 117.5,460.0 123.5,460.1 124.0,460.0 124.8,460.1 125.5,458.2 125.8,458.2 126.5,459.8 126.8,460.1 130.6,460.1 130.8,460.0 131.3,459.3 131.6,459.5 132.1,460.1 133.8,460.1 134.6,459.9 134.8,459.9 135.3,460.0 135.8,458.8 136.1,458.4 136.6,459.6 136.8,460.0 137.3,459.8 138.3,460.1 139.3,460.1 139.8,459.8 140.1,459.6 140.3,459.7 140.6,459.9 140.8,459.9 141.1,460.1 141.3,460.1 141.8,460.1 142.1,460.1 142.3,460.0 142.8,459.8 143.3,460.1 144.1,459.9 144.3,459.8 144.6,459.2 144.8,459.8 145.1,460.1 145.3,459.8 145.6,459.4 145.8,459.5 146.1,459.7 146.3,459.8 146.8,458.5 147.1,458.3 147.6,459.7 147.8,460.1 149.1,460.0 151.8,460.1 152.6,459.7 153.3,460.1 153.8,460.1 154.1,460.1 154.8,459.2 155.1,459.2 155.6,459.8 155.8,459.6 156.3,459.7 156.6,460.0 156.8,460.0 157.3,459.9 158.1,460.1 159.8,460.1 160.6,460.0 160.8,460.1 161.3,460.0 161.8,459.8 162.1,460.1 162.3,460.1 163.1,460.1 164.1,459.6 164.6,460.0 164.8,460.0 165.3,459.6 165.8,460.1 167.6,460.1 168.1,459.7 168.3,459.9 168.8,458.4 169.1,458.9 169.3,459.7 169.6,460.0 170.1,459.9 170.8,460.1 171.1,460.1 172.1,459.7 172.3,459.4 172.6,459.2 172.8,459.6 173.1,459.7 173.3,459.7 173.6,459.9 173.8,460.0 174.3,459.2 174.8,459.9 175.1,460.0 175.3,460.0 178.1,460.1 178.6,460.0 178.8,460.1 179.1,460.0 179.6,459.8 179.8,459.7 180.6,460.1 181.1,460.0 181.8,459.6 182.1,459.6 182.8,460.1 183.6,460.1 184.1,459.8 184.3,459.8 184.6,460.0 184.8,459.8 185.3,459.8 185.6,459.7 185.8,459.3 186.1,459.4 186.3,459.9 186.6,459.8 187.1,458.2 187.3,457.7 188.1,460.1 188.8,459.6 189.1,459.6 189.6,460.0 189.8,459.9 190.3,458.9 190.6,459.0 191.1,460.0 191.3,460.1 193.1,460.1 193.3,459.9 193.6,459.8 193.8,460.1 194.1,460.1 194.6,460.1 195.1,459.9 195.6,460.1 196.1,459.9 196.6,460.1 198.1,460.1 198.8,459.5 199.6,460.1 200.3,460.1 201.1,459.7 201.6,460.1 202.8,460.1 203.3,459.8 203.6,459.8 203.8,459.6 204.1,459.6 204.3,459.8 205.3,460.1 205.8,460.0 206.6,458.9 206.8,459.0 207.1,459.0 207.3,459.2 207.8,457.9 208.1,457.9 208.8,459.9 209.6,458.6 210.3,460.0 210.6,460.1 211.8,460.1 212.6,459.9 213.3,460.1 213.8,460.0 214.3,459.9 214.8,460.1 215.6,459.9 215.8,459.9 216.1,459.9 216.6,459.6 216.8,459.6 217.3,460.0 217.6,460.1 218.1,460.1 218.6,458.8 219.1,460.1 219.3,460.1 220.1,459.4 220.3,459.3 220.6,459.4 220.8,459.1 221.6,460.0 221.8,460.1 222.8,460.1 223.3,459.0 223.8,460.0 224.1,460.1 225.6,460.1 225.8,459.8 226.3,458.2 226.6,458.7 226.8,459.5 227.1,459.8 227.8,460.1 228.8,459.9 229.8,460.1 230.1,460.1 230.3,459.9 231.1,458.7 231.6,459.4 231.8,458.8 232.1,459.0 232.3,459.7 232.8,460.1 233.6,460.0 234.3,460.1 234.8,457.3 235.1,459.2 235.3,459.5 235.6,459.2 235.8,458.7 236.1,456.3 236.6,459.9 236.8,459.8 237.1,459.5 237.3,458.7 237.8,460.1 238.6,460.1 239.3,458.8 239.6,458.7 239.8,459.2 240.6,460.0 240.8,460.1 241.6,459.7 241.8,459.7 242.3,460.0 242.6,460.1 242.8,460.0 243.3,456.5 243.6,457.6 243.8,459.5 244.1,460.1 245.3,459.8 246.1,460.1 246.3,459.2 246.8,456.6 247.1,457.1 247.6,459.7 248.1,459.5 248.8,460.0 249.1,459.9 249.3,459.3 249.8,457.0 250.1,456.6 250.8,460.0 251.1,459.3 251.3,457.8 251.6,458.4 251.8,459.9 252.1,460.0 252.6,459.5 252.8,459.5 253.3,460.1 255.3,460.1 255.6,459.9 255.8,459.4 256.1,459.3 256.6,460.1 258.3,460.1 258.8,458.4 259.1,458.6 259.6,460.1 260.3,459.2 261.1,460.1 261.3,460.1 261.6,460.0 261.8,457.8 262.1,456.7 262.3,458.8 262.6,458.8 262.8,457.3 263.1,458.7 263.3,459.6 263.8,459.1 264.1,459.3 264.6,459.9 265.3,457.8 266.1,459.9 266.3,460.1 266.8,460.1 267.1,460.0 267.6,456.7 267.8,457.3 268.3,460.1 270.6,460.1 271.1,459.8 271.6,459.8 272.1,460.0 272.6,459.2 272.8,459.1 273.3,459.9 273.6,459.8 273.8,459.5 274.1,459.7 274.3,459.7 274.8,460.1 275.1,460.1 275.3,460.1 275.8,459.8 276.3,460.1 276.6,460.0 277.1,458.7 278.6,460.1 280.6,460.1 281.1,459.8 281.6,460.1 282.1,460.1 282.8,459.9 283.1,459.9 283.8,460.1 284.1,459.9 284.6,458.0 284.8,458.3 285.3,459.9 285.6,460.0 286.1,460.0 286.8,458.4 287.1,458.6 287.8,460.1 289.6,460.1 290.3,456.4 290.6,457.3 291.1,460.0 291.3,460.1 291.6,460.1 291.8,459.8 292.3,458.8 292.8,460.0 293.1,460.1 296.1,460.1 296.3,459.3 296.6,456.9 296.8,457.8 297.1,459.9 297.8,458.4 298.6,459.9 298.8,460.1 301.1,460.1 301.3,460.1 301.8,457.8 302.1,459.1 302.3,460.0 302.6,460.1 305.1,460.1 305.8,459.6 306.1,459.5 306.8,460.0 307.3,459.7 307.6,460.0 307.8,460.1 308.1,460.1 308.8,458.8 309.1,459.0 309.6,459.9 309.8,460.1 310.1,460.0 310.8,458.3 311.1,458.2 311.6,459.3 311.8,459.6 312.6,460.1 313.3,459.8 313.6,459.6 313.8,459.6 314.3,460.1 314.6,460.1 315.6,460.1 315.8,460.0 316.1,460.0 316.3,460.1 316.6,460.1 317.1,459.9 317.6,460.1 317.8,460.1 318.3,459.2 318.6,459.3 318.8,459.7 319.3,459.7 319.6,459.9 319.8,459.9 320.6,460.1 322.8,460.1 323.1,459.7 323.6,458.5 324.1,459.7 324.3,459.6 324.8,459.9 325.1,460.0 325.3,459.9 326.3,460.1 328.3,460.1 329.1,459.7 329.8,460.1 330.3,460.1 331.1,459.9 331.6,460.0 332.1,459.3 332.3,459.5 332.6,459.9 332.8,460.1 333.6,460.1 333.8,460.0 334.1,459.7 334.3,459.6 334.8,460.1 339.6,460.1 339.6,461.9 337.3,461.9 337.1,462.1 336.6,461.9 335.1,462.0 333.8,461.9 333.6,461.9 333.3,462.9 333.1,463.6 332.6,461.9 330.1,461.9 329.6,462.2 329.1,462.0 328.6,462.2 327.8,461.9 324.1,462.1 323.1,461.9 322.3,462.3 322.1,462.2 321.8,462.3 321.3,461.9 320.6,461.9 320.3,462.0 319.8,462.6 319.6,462.6 319.1,462.0 318.6,462.2 317.8,461.9 316.1,461.9 315.6,462.1 315.3,462.2 314.8,461.9 314.1,461.9 313.8,461.9 313.6,462.1 313.3,462.2 312.8,461.9 312.1,461.9 311.3,463.3 310.6,461.9 310.1,462.1 309.6,463.3 309.1,462.1 308.8,461.9 306.3,462.0 305.6,461.9 297.8,461.9 297.6,462.0 297.1,462.6 296.6,462.0 296.3,461.9 295.6,461.9 295.3,462.0 295.1,462.9 294.8,463.5 294.3,461.9 290.1,461.9 289.3,462.2 288.8,461.9 287.8,462.0 287.1,461.9 283.8,461.9 283.3,462.2 283.1,462.2 282.6,461.9 282.3,461.9 281.8,462.3 281.6,462.0 281.3,461.9 281.1,461.9 280.6,462.2 280.1,461.9 279.8,461.9 278.8,461.9 278.3,463.3 278.1,463.4 277.3,462.2 277.1,463.2 276.8,463.9 276.6,462.9 276.3,462.2 276.1,462.3 275.3,462.0 274.8,462.1 274.3,461.9 273.1,461.9 272.6,462.1 272.1,463.2 271.6,462.1 271.3,461.9 271.1,462.5 270.6,464.6 270.3,464.9 269.8,462.8 269.6,462.3 269.1,462.8 268.8,463.4 268.6,464.8 268.3,463.9 268.1,462.5 267.8,461.9 265.8,461.9 264.1,461.9 263.6,463.3 263.3,462.5 263.1,462.3 262.8,462.8 262.6,462.7 262.1,461.9 260.3,461.9 260.1,461.9 259.6,462.6 259.3,462.5 258.8,463.7 258.6,463.5 258.1,462.3 257.8,462.3 257.6,462.7 257.3,462.5 256.8,461.9 256.6,461.9 256.1,463.6 255.8,463.5 255.3,461.9 253.1,461.9 252.8,462.1 252.6,462.5 252.3,462.3 252.1,461.9 250.3,461.9 249.6,462.1 249.3,462.0 249.1,462.1 248.6,461.9 248.3,461.9 247.6,463.0 247.1,462.4 246.8,462.5 246.6,462.9 246.3,462.3 246.1,461.9 244.8,461.9 243.3,461.9 243.1,462.0 242.3,462.8 242.1,462.5 241.8,462.4 241.6,462.9 241.3,462.8 240.8,461.9 240.1,461.9 239.3,462.1 238.8,462.0 238.3,462.2 238.1,462.1 237.8,462.3 237.6,462.2 237.3,462.0 237.1,461.9 236.6,461.9 236.3,462.0 235.8,462.7 235.3,462.2 234.8,462.6 233.8,461.9 231.3,461.9 231.1,462.1 230.6,463.0 230.3,462.8 229.8,462.0 228.6,461.9 228.3,462.0 227.6,463.2 227.3,464.2 227.1,464.0 226.8,464.2 226.3,462.4 226.1,462.1 225.3,461.9 224.6,461.9 223.6,462.1 223.3,462.1 222.8,462.2 222.3,461.9 222.1,462.0 220.8,461.9 220.3,462.3 220.1,462.1 219.3,461.9 218.1,462.0 217.3,461.9 214.6,461.9 213.8,462.3 213.3,462.0 209.6,461.9 208.8,462.5 208.6,462.5 208.3,462.3 207.8,462.6 207.6,462.2 207.3,462.0 207.1,461.9 205.3,461.9 204.6,462.5 203.8,461.9 201.8,461.9 201.6,462.3 201.3,462.5 200.8,461.9 198.8,462.0 197.6,461.9 197.3,462.2 196.8,463.3 196.6,463.5 195.8,461.9 193.6,462.0 193.1,461.9 192.3,461.9 191.8,462.4 191.3,463.5 191.1,463.3 190.6,462.2 190.3,461.9 186.6,461.9 185.6,462.2 184.8,461.9 182.3,461.9 181.8,462.2 181.6,462.2 181.3,462.0 180.6,462.1 180.3,462.4 180.1,462.4 179.8,462.0 179.6,461.9 178.3,461.9 177.8,461.9 177.3,462.0 176.8,461.9 176.6,461.9 175.8,462.3 175.1,461.9 174.3,461.9 173.8,462.6 173.3,461.9 173.1,462.0 172.6,461.9 171.1,461.9 170.8,462.0 170.1,463.4 169.3,462.0 169.1,461.9 164.1,461.9 163.8,462.0 163.1,463.2 162.8,463.2 162.1,462.0 161.8,461.9 161.1,462.2 160.8,462.2 159.8,461.9 158.8,462.6 158.1,461.9 157.8,461.9 156.8,461.9 156.3,462.2 155.1,461.9 147.8,461.9 147.3,462.5 147.1,462.2 146.8,462.0 146.3,462.1 145.6,461.9 144.6,461.9 143.6,462.1 143.1,462.0 141.6,461.9 141.1,462.6 140.6,461.9 140.3,462.2 139.8,463.0 139.6,462.8 139.1,462.0 138.8,461.9 136.6,461.9 136.1,463.5 135.8,463.2 135.6,462.3 135.3,461.9 135.1,461.9 134.6,462.3 133.8,461.9 132.3,461.9 131.6,462.1 131.3,462.2 131.1,462.0 129.8,461.9 129.6,462.0 129.3,463.2 129.1,463.3 128.8,462.1 128.6,461.9 127.5,462.0 127.0,462.3 126.8,462.3 126.3,462.0 126.0,461.9 125.5,462.1 124.8,461.9 124.3,461.9 123.8,462.1 123.5,462.1 123.0,461.9 115.8,461.9 115.0,463.0 114.5,462.1 114.3,461.9 113.5,462.4 112.8,461.9 88.3,462.0 87.5,461.9 82.3,461.9" fill="#ff0000"/>
<polygon points="170.65,461.0 170.76,445.3 170.88,421.8 170.97,389.1 171.00,330.2 171.28,329.6 172.12,329.6 172.40,330.2 172.43,389.1 172.52,421.8 172.64,445.3 172.75,461.0" fill="#ff0000"/>
<polygon points="179.50,461.0 179.63,457.4 179.76,452.1 179.86,444.6 179.90,431.2 180.22,430.6 181.18,430.6 181.50,431.2 181.54,444.6 181.64,452.1 181.77,457.4 181.90,461.0" fill="#ff0000"/>
<polygon points="181.70,461.0 181.84,460.0 182.00,458.4 182.11,456.3 182.15,452.4 182.37,451.8 183.03,451.8 183.25,452.4 183.29,456.3 183.40,458.4 183.56,460.0 183.70,461.0" fill="#ff0000"/>
<polygon points="189.70,461.0 189.81,460.0 189.93,458.5 190.02,456.5 190.05,452.8 190.27,452.2 190.93,452.2 191.15,452.8 191.18,456.5 191.27,458.5 191.39,460.0 191.50,461.0" fill="#ff0000"/>
<polygon points="190.70,461.0 190.94,460.5 191.19,459.8 191.38,458.9 191.45,457.1 191.67,456.5 192.33,456.5 192.55,457.1 192.62,458.9 192.81,459.8 193.06,460.5 193.30,461.0" fill="#ff0000"/>
<polygon points="227.30,461.0 227.38,460.4 227.46,459.6 227.53,458.4 227.55,456.2 227.77,455.6 228.43,455.6 228.65,456.2 228.67,458.4 228.74,459.6 228.82,460.4 228.90,461.0" fill="#ff0000"/>
<polygon points="228.10,461.0 228.18,461.6 228.26,462.4 228.33,463.5 228.35,465.6 229.45,465.6 229.47,463.5 229.54,462.4 229.62,461.6 229.70,461.0" fill="#ff0000"/>
<polygon points="266.80,461.0 266.91,460.4 267.03,459.4 267.12,458.1 267.15,455.8 267.37,455.2 268.03,455.2 268.25,455.8 268.28,458.1 268.37,459.4 268.49,460.4 268.60,461.0" fill="#ff0000"/>
<polygon points="267.80,461.0 267.88,461.5 267.96,462.2 268.03,463.2 268.05,465.0 269.15,465.0 269.17,463.2 269.24,462.2 269.32,461.5 269.40,461.0" fill="#ff0000"/>
<polygon points="300.60,461.0 300.71,460.3 300.83,459.4 300.92,458.0 300.95,455.5 301.17,454.9 301.83,454.9 302.05,455.5 302.08,458.0 302.17,459.4 302.29,460.3 302.40,461.0" fill="#ff0000"/>
<polygon points="93.70,461.0 93.78,460.8 93.86,460.6 93.93,460.2 93.95,459.6 94.17,459.0 94.83,459.0 95.05,459.6 95.07,460.2 95.14,460.6 95.22,460.8 95.30,461.0" fill="#ff0000"/>
<polygon points="101.50,461.0 101.61,460.7 101.73,460.3 101.82,459.7 101.85,458.6 102.07,458.0 102.73,458.0 102.95,458.6 102.98,459.7 103.07,460.3 103.19,460.7 103.30,461.0" fill="#ff0000"/>
<polygon points="119.30,461.0 119.41,460.7 119.53,460.4 119.62,459.8 119.65,458.9 119.87,458.3 120.53,458.3 120.75,458.9 120.78,459.8 120.87,460.4 120.99,460.7 121.10,461.0" fill="#ff0000"/>
<polygon points="119.40,461.0 119.80,461.0 120.22,460.9 120.54,460.8 120.65,460.6 120.87,460.0 121.53,460.0 121.75,460.6 121.86,460.8 122.18,460.9 122.60,461.0 123.00,461.0" fill="#ff0000"/>
<polygon points="134.20,461.0 134.28,460.8 134.36,460.4 134.43,460.0 134.45,459.1 134.67,458.5 135.33,458.5 135.55,459.1 135.57,460.0 135.64,460.4 135.72,460.8 135.80,461.0" fill="#ff0000"/>
<polygon points="135.10,461.0 135.15,461.4 135.20,461.9 135.24,462.6 135.25,464.0 136.35,464.0 136.36,462.6 136.40,461.9 136.45,461.4 136.50,461.0" fill="#ff0000"/>
<polygon points="172.10,461.0 172.21,461.5 172.33,462.2 172.42,463.2 172.45,465.0 173.55,465.0 173.58,463.2 173.67,462.2 173.79,461.5 173.90,461.0" fill="#ff0000"/>
<polygon points="177.30,461.0 177.51,460.5 177.73,459.8 177.89,458.9 177.95,457.1 178.17,456.5 178.83,456.5 179.05,457.1 179.11,458.9 179.27,459.8 179.49,460.5 179.70,461.0" fill="#ff0000"/>
<polygon points="272.20,461.0 272.28,460.6 272.36,460.0 272.43,459.1 272.45,457.6 272.67,457.0 273.33,457.0 273.55,457.6 273.57,459.1 273.64,460.0 273.72,460.6 273.80,461.0" fill="#ff0000"/>
<polygon points="274.70,461.0 274.78,461.5 274.86,462.2 274.93,463.2 274.95,465.0 276.05,465.0 276.07,463.2 276.14,462.2 276.22,461.5 276.30,461.0" fill="#ff0000"/>
<polygon points="261.20,461.0 261.28,461.5 261.36,462.2 261.43,463.2 261.45,465.0 262.55,465.0 262.57,463.2 262.64,462.2 262.72,461.5 262.80,461.0" fill="#ff0000"/>
<polygon points="257.20,461.0 257.28,460.7 257.36,460.1 257.43,459.4 257.45,458.1 257.67,457.5 258.33,457.5 258.55,458.1 258.57,459.4 258.64,460.1 258.72,460.7 258.80,461.0" fill="#ff0000"/>
<polygon points="246.30,461.0 246.35,461.5 246.40,462.2 246.44,463.2 246.45,465.0 247.55,465.0 247.56,463.2 247.60,462.2 247.65,461.5 247.70,461.0" fill="#ff0000"/>
<polygon points="284.30,461.0 284.35,460.7 284.40,460.3 284.44,459.7 284.45,458.6 284.67,458.0 285.33,458.0 285.55,458.6 285.56,459.7 285.60,460.3 285.65,460.7 285.70,461.0" fill="#ff0000"/>
<text x="60.6" y="499.2" font-size="11" textLength="19.4" lengthAdjust="spacingAndGlyphs" stroke="#000" stroke-width="0.12">CDs</text>
<text x="75.8" y="476.4" font-size="11" textLength="21.2" lengthAdjust="spacingAndGlyphs" stroke="#000" stroke-width="0.12">9AA</text>
<text x="89.0" y="457.0" font-size="11.3" textLength="45.2" lengthAdjust="spacingAndGlyphs" stroke="#000" stroke-width="0.12">9AA/CDs</text>
<text x="156.6" y="327.1" font-size="10.6" textLength="29.7" lengthAdjust="spacingAndGlyphs" stroke="#000" stroke-width="0.12">178.091</text>
<text x="173.8" y="428.0" font-size="11.7" textLength="32.8" lengthAdjust="spacingAndGlyphs" stroke="#000" stroke-width="0.12">195.074</text>
<text x="55.6" y="348.0" font-size="15.2" textLength="55.1" lengthAdjust="spacingAndGlyphs" stroke="#000" stroke-width="0.12">Histidine</text>
<text x="17.8" y="327.5" font-size="12" stroke="#000" stroke-width="0.2" textLength="21.6" lengthAdjust="spacingAndGlyphs">×10<tspan dy="-2.4" font-size="9.6">5</tspan></text>
<text transform="translate(11.3,413.9) rotate(-90)" font-size="15.2" text-anchor="middle" stroke="#000" stroke-width="0.22" textLength="74.5" lengthAdjust="spacingAndGlyphs">Intens. [a.u.]</text>
<text x="166.4" y="541.2" font-size="15.2" textLength="23.2" lengthAdjust="spacingAndGlyphs" stroke="#000" stroke-width="0.12">m/z</text>
<text x="24.7" y="303.4" font-size="20" textLength="24.8" lengthAdjust="spacingAndGlyphs" font-weight="bold" font-family='"Liberation Sans","DejaVu Sans",sans-serif'>(c)</text>
<line x1="411.0" y1="503.6" x2="443.5" y2="469.6" stroke="#c6c6c6" stroke-width="1.6"/>
<line x1="407.9" y1="316.9" x2="407.9" y2="508.9" stroke="#000" stroke-width="1.55"/>
<line x1="407.1" y1="508.0" x2="667.2" y2="508.0" stroke="#000" stroke-width="1.45"/>
<line x1="403.5" y1="507.0" x2="407.9" y2="507.0" stroke="#000" stroke-width="1.3"/>
<line x1="404.9" y1="496.3" x2="407.9" y2="496.3" stroke="#000" stroke-width="1.3"/>
<line x1="403.5" y1="484.4" x2="407.9" y2="484.4" stroke="#000" stroke-width="1.3"/>
<line x1="404.9" y1="472.5" x2="407.9" y2="472.5" stroke="#000" stroke-width="1.3"/>
<line x1="403.5" y1="460.6" x2="407.9" y2="460.6" stroke="#000" stroke-width="1.3"/>
<line x1="404.9" y1="448.7" x2="407.9" y2="448.7" stroke="#000" stroke-width="1.3"/>
<line x1="403.5" y1="436.8" x2="407.9" y2="436.8" stroke="#000" stroke-width="1.3"/>
<line x1="404.9" y1="424.9" x2="407.9" y2="424.9" stroke="#000" stroke-width="1.3"/>
<line x1="403.5" y1="413.0" x2="407.9" y2="413.0" stroke="#000" stroke-width="1.3"/>
<line x1="404.9" y1="401.1" x2="407.9" y2="401.1" stroke="#000" stroke-width="1.3"/>
<line x1="403.5" y1="389.2" x2="407.9" y2="389.2" stroke="#000" stroke-width="1.3"/>
<line x1="404.9" y1="377.3" x2="407.9" y2="377.3" stroke="#000" stroke-width="1.3"/>
<line x1="403.5" y1="365.4" x2="407.9" y2="365.4" stroke="#000" stroke-width="1.3"/>
<line x1="404.9" y1="353.5" x2="407.9" y2="353.5" stroke="#000" stroke-width="1.3"/>
<line x1="403.5" y1="341.6" x2="407.9" y2="341.6" stroke="#000" stroke-width="1.3"/>
<line x1="404.9" y1="329.7" x2="407.9" y2="329.7" stroke="#000" stroke-width="1.3"/>
<line x1="403.7" y1="317.6" x2="407.9" y2="317.6" stroke="#000" stroke-width="1.3"/>
<text x="402.0" y="511.4" font-size="12" text-anchor="end" textLength="13.5" lengthAdjust="spacingAndGlyphs" stroke="#000" stroke-width="0.12">0.0</text>
<text x="402.0" y="488.2" font-size="12" text-anchor="end" textLength="13.5" lengthAdjust="spacingAndGlyphs" stroke="#000" stroke-width="0.12">0.2</text>
<text x="402.0" y="465.4" font-size="12" text-anchor="end" textLength="13.5" lengthAdjust="spacingAndGlyphs" stroke="#000" stroke-width="0.12">0.4</text>
<text x="402.0" y="440.2" font-size="12" text-anchor="end" textLength="13.5" lengthAdjust="spacingAndGlyphs" stroke="#000" stroke-width="0.12">0.6</text>
<text x="402.0" y="416.4" font-size="12" text-anchor="end" textLength="13.5" lengthAdjust="spacingAndGlyphs" stroke="#000" stroke-width="0.12">0.8</text>
<text x="402.0" y="392.8" font-size="12" text-anchor="end" textLength="13.5" lengthAdjust="spacingAndGlyphs" stroke="#000" stroke-width="0.12">1.0</text>
<text x="402.0" y="368.7" font-size="12" text-anchor="end" textLength="13.5" lengthAdjust="spacingAndGlyphs" stroke="#000" stroke-width="0.12">1.2</text>
<text x="402.0" y="345.9" font-size="12" text-anchor="end" textLength="13.5" lengthAdjust="spacingAndGlyphs" stroke="#000" stroke-width="0.12">1.4</text>
<line x1="407.9" y1="508.0" x2="407.9" y2="510.6" stroke="#000" stroke-width="1.35"/>
<text x="408.1" y="522.1" font-size="12.4" text-anchor="middle" textLength="5.4" lengthAdjust="spacingAndGlyphs" stroke="#000" stroke-width="0.12">0</text>
<line x1="413.1" y1="508.0" x2="413.1" y2="510.2" stroke="#000" stroke-width="1.35"/>
<line x1="418.2" y1="508.0" x2="418.2" y2="510.2" stroke="#000" stroke-width="1.35"/>
<line x1="423.4" y1="508.0" x2="423.4" y2="510.2" stroke="#000" stroke-width="1.35"/>
<line x1="428.6" y1="508.0" x2="428.6" y2="510.2" stroke="#000" stroke-width="1.35"/>
<line x1="433.8" y1="508.0" x2="433.8" y2="510.6" stroke="#000" stroke-width="1.35"/>
<text x="434.1" y="522.1" font-size="12.4" text-anchor="middle" textLength="10.8" lengthAdjust="spacingAndGlyphs" stroke="#000" stroke-width="0.12">50</text>
<line x1="438.9" y1="508.0" x2="438.9" y2="510.2" stroke="#000" stroke-width="1.35"/>
<line x1="444.1" y1="508.0" x2="444.1" y2="510.2" stroke="#000" stroke-width="1.35"/>
<line x1="449.3" y1="508.0" x2="449.3" y2="510.2" stroke="#000" stroke-width="1.35"/>
<line x1="454.5" y1="508.0" x2="454.5" y2="510.2" stroke="#000" stroke-width="1.35"/>
<line x1="459.6" y1="508.0" x2="459.6" y2="510.6" stroke="#000" stroke-width="1.35"/>
<text x="460.2" y="522.1" font-size="12.4" text-anchor="middle" textLength="16.2" lengthAdjust="spacingAndGlyphs" stroke="#000" stroke-width="0.12">100</text>
<line x1="464.8" y1="508.0" x2="464.8" y2="510.2" stroke="#000" stroke-width="1.35"/>
<line x1="470.0" y1="508.0" x2="470.0" y2="510.2" stroke="#000" stroke-width="1.35"/>
<line x1="475.2" y1="508.0" x2="475.2" y2="510.2" stroke="#000" stroke-width="1.35"/>
<line x1="480.3" y1="508.0" x2="480.3" y2="510.2" stroke="#000" stroke-width="1.35"/>
<line x1="485.5" y1="508.0" x2="485.5" y2="510.6" stroke="#000" stroke-width="1.35"/>
<text x="486.2" y="522.1" font-size="12.4" text-anchor="middle" textLength="16.2" lengthAdjust="spacingAndGlyphs" stroke="#000" stroke-width="0.12">150</text>
<line x1="490.7" y1="508.0" x2="490.7" y2="510.2" stroke="#000" stroke-width="1.35"/>
<line x1="495.9" y1="508.0" x2="495.9" y2="510.2" stroke="#000" stroke-width="1.35"/>
<line x1="501.0" y1="508.0" x2="501.0" y2="510.2" stroke="#000" stroke-width="1.35"/>
<line x1="506.2" y1="508.0" x2="506.2" y2="510.2" stroke="#000" stroke-width="1.35"/>
<line x1="511.4" y1="508.0" x2="511.4" y2="510.6" stroke="#000" stroke-width="1.35"/>
<text x="512.3" y="522.1" font-size="12.4" text-anchor="middle" textLength="16.2" lengthAdjust="spacingAndGlyphs" stroke="#000" stroke-width="0.12">200</text>
<line x1="516.6" y1="508.0" x2="516.6" y2="510.2" stroke="#000" stroke-width="1.35"/>
<line x1="521.7" y1="508.0" x2="521.7" y2="510.2" stroke="#000" stroke-width="1.35"/>
<line x1="526.9" y1="508.0" x2="526.9" y2="510.2" stroke="#000" stroke-width="1.35"/>
<line x1="532.1" y1="508.0" x2="532.1" y2="510.2" stroke="#000" stroke-width="1.35"/>
<line x1="537.2" y1="508.0" x2="537.2" y2="510.6" stroke="#000" stroke-width="1.35"/>
<text x="538.3" y="522.1" font-size="12.4" text-anchor="middle" textLength="16.2" lengthAdjust="spacingAndGlyphs" stroke="#000" stroke-width="0.12">250</text>
<line x1="542.4" y1="508.0" x2="542.4" y2="510.2" stroke="#000" stroke-width="1.35"/>
<line x1="547.6" y1="508.0" x2="547.6" y2="510.2" stroke="#000" stroke-width="1.35"/>
<line x1="552.8" y1="508.0" x2="552.8" y2="510.2" stroke="#000" stroke-width="1.35"/>
<line x1="557.9" y1="508.0" x2="557.9" y2="510.2" stroke="#000" stroke-width="1.35"/>
<line x1="563.1" y1="508.0" x2="563.1" y2="510.6" stroke="#000" stroke-width="1.35"/>
<text x="564.3" y="522.1" font-size="12.4" text-anchor="middle" textLength="16.2" lengthAdjust="spacingAndGlyphs" stroke="#000" stroke-width="0.12">300</text>
<line x1="568.3" y1="508.0" x2="568.3" y2="510.2" stroke="#000" stroke-width="1.35"/>
<line x1="573.5" y1="508.0" x2="573.5" y2="510.2" stroke="#000" stroke-width="1.35"/>
<line x1="578.6" y1="508.0" x2="578.6" y2="510.2" stroke="#000" stroke-width="1.35"/>
<line x1="583.8" y1="508.0" x2="583.8" y2="510.2" stroke="#000" stroke-width="1.35"/>
<line x1="589.0" y1="508.0" x2="589.0" y2="510.6" stroke="#000" stroke-width="1.35"/>
<text x="590.4" y="522.1" font-size="12.4" text-anchor="middle" textLength="16.2" lengthAdjust="spacingAndGlyphs" stroke="#000" stroke-width="0.12">350</text>
<line x1="594.2" y1="508.0" x2="594.2" y2="510.2" stroke="#000" stroke-width="1.35"/>
<line x1="599.3" y1="508.0" x2="599.3" y2="510.2" stroke="#000" stroke-width="1.35"/>
<line x1="604.5" y1="508.0" x2="604.5" y2="510.2" stroke="#000" stroke-width="1.35"/>
<line x1="609.7" y1="508.0" x2="609.7" y2="510.2" stroke="#000" stroke-width="1.35"/>
<line x1="614.9" y1="508.0" x2="614.9" y2="510.6" stroke="#000" stroke-width="1.35"/>
<text x="616.4" y="522.1" font-size="12.4" text-anchor="middle" textLength="16.2" lengthAdjust="spacingAndGlyphs" stroke="#000" stroke-width="0.12">400</text>
<line x1="620.0" y1="508.0" x2="620.0" y2="510.2" stroke="#000" stroke-width="1.35"/>
<line x1="625.2" y1="508.0" x2="625.2" y2="510.2" stroke="#000" stroke-width="1.35"/>
<line x1="630.4" y1="508.0" x2="630.4" y2="510.2" stroke="#000" stroke-width="1.35"/>
<line x1="635.6" y1="508.0" x2="635.6" y2="510.2" stroke="#000" stroke-width="1.35"/>
<line x1="640.7" y1="508.0" x2="640.7" y2="510.6" stroke="#000" stroke-width="1.35"/>
<text x="642.5" y="522.1" font-size="12.4" text-anchor="middle" textLength="16.2" lengthAdjust="spacingAndGlyphs" stroke="#000" stroke-width="0.12">450</text>
<line x1="645.9" y1="508.0" x2="645.9" y2="510.2" stroke="#000" stroke-width="1.35"/>
<line x1="651.1" y1="508.0" x2="651.1" y2="510.2" stroke="#000" stroke-width="1.35"/>
<line x1="656.3" y1="508.0" x2="656.3" y2="510.2" stroke="#000" stroke-width="1.35"/>
<line x1="661.4" y1="508.0" x2="661.4" y2="510.2" stroke="#000" stroke-width="1.35"/>
<line x1="666.6" y1="508.0" x2="666.6" y2="510.6" stroke="#000" stroke-width="1.35"/>
<text x="668.5" y="522.1" font-size="12.4" text-anchor="middle" textLength="16.2" lengthAdjust="spacingAndGlyphs" stroke="#000" stroke-width="0.12">500</text>
<polygon points="410.1,503.1 414.9,503.1 415.1,502.9 415.6,502.5 415.9,502.4 416.4,502.9 416.6,503.1 417.9,503.1 418.4,502.7 418.6,502.7 419.1,503.1 421.4,503.0 428.9,503.1 429.4,502.8 429.9,503.1 435.4,503.0 435.9,502.9 436.6,503.1 455.1,503.1 455.6,502.9 456.1,503.1 457.6,503.0 458.1,502.7 458.4,502.4 458.9,502.9 459.1,503.1 460.6,503.1 461.1,502.7 461.4,502.7 461.9,503.0 465.6,503.1 466.1,503.0 469.6,503.1 470.1,502.9 471.1,503.1 471.6,502.9 471.9,503.0 472.4,502.8 473.1,503.1 479.9,503.1 480.9,502.7 481.9,503.1 496.6,503.0 497.4,502.9 498.1,502.3 498.4,502.4 498.6,502.9 498.9,503.0 499.6,502.9 500.4,503.0 500.9,502.7 501.1,502.7 501.6,503.0 502.1,503.0 502.9,502.7 503.4,502.9 503.9,502.8 504.4,502.4 504.9,503.1 505.4,502.3 505.6,502.8 505.9,502.9 506.6,503.0 506.9,502.9 507.1,502.7 507.6,503.1 507.9,503.1 508.1,502.9 508.4,502.5 508.9,502.6 509.1,502.6 509.4,502.9 509.6,503.1 510.1,502.8 510.4,502.5 510.9,502.7 511.1,502.7 511.4,502.6 511.6,503.0 511.9,503.1 512.4,503.1 512.6,502.9 513.1,502.4 513.4,502.2 513.9,502.7 514.4,503.0 515.1,502.8 516.1,503.1 516.9,503.0 517.4,502.7 517.9,503.0 519.9,503.1 520.6,502.8 521.1,501.6 521.4,501.8 521.9,503.0 522.6,503.1 523.1,502.7 523.6,503.0 524.4,502.9 525.1,503.0 525.9,502.3 526.1,502.0 526.4,501.4 526.9,502.6 527.9,503.1 528.1,502.9 528.6,502.4 529.1,502.9 529.4,502.8 529.6,502.8 529.9,502.9 530.4,502.1 530.6,502.7 530.9,503.1 532.4,502.8 533.4,503.1 533.6,503.1 534.1,502.7 534.4,502.9 534.6,502.9 535.4,502.2 535.6,502.4 536.1,502.9 536.4,502.7 536.6,502.1 537.1,501.9 537.6,502.8 537.9,503.1 539.1,503.0 539.6,502.9 539.9,502.8 540.1,501.7 540.4,502.0 540.6,502.7 541.1,502.9 541.9,502.3 542.4,502.7 542.6,502.6 543.1,503.0 543.6,502.8 544.1,502.9 544.6,502.7 544.9,502.7 545.1,502.9 545.6,502.8 546.4,503.1 546.9,503.1 547.1,502.9 547.6,502.2 547.9,502.1 548.6,503.1 549.6,502.9 550.1,502.6 550.4,502.6 550.9,503.0 551.1,503.0 551.6,502.5 551.9,502.3 552.4,502.9 552.6,503.1 553.1,503.1 553.4,502.8 553.6,502.2 554.1,503.0 554.6,502.9 555.1,503.0 555.4,503.1 555.6,502.8 556.1,502.2 556.9,503.1 557.6,503.1 558.1,502.8 558.6,502.8 559.1,503.0 564.4,503.1 564.6,502.9 564.9,502.6 565.1,502.7 565.4,502.9 565.6,502.3 565.9,502.5 566.1,502.8 566.4,502.4 566.6,502.6 566.9,502.7 567.1,502.6 567.4,502.7 567.6,502.7 567.9,502.5 568.4,503.0 570.6,503.1 570.9,503.0 571.4,502.7 571.6,502.8 571.9,502.6 572.1,502.3 572.4,502.2 572.9,502.8 573.1,503.0 573.9,502.8 574.6,503.1 574.9,503.1 575.9,502.4 576.6,502.9 576.9,503.1 577.4,503.1 578.1,502.7 578.4,502.7 578.9,501.9 579.6,503.0 579.9,503.0 580.6,502.6 580.9,502.6 581.4,502.9 581.9,502.8 582.9,503.1 586.1,503.1 586.4,502.8 586.6,502.4 587.1,502.9 587.4,503.1 592.1,503.1 592.4,502.9 593.1,501.5 593.9,502.9 594.1,503.1 596.1,503.0 596.4,502.8 596.6,502.7 597.4,503.0 597.9,502.8 598.1,502.8 598.4,502.9 598.6,502.7 598.9,502.7 599.1,503.0 600.4,503.1 600.6,502.9 601.4,502.0 602.1,502.8 602.4,503.0 602.9,502.9 605.6,503.1 606.4,502.7 606.6,502.8 606.9,502.9 607.1,502.8 607.4,502.9 607.6,502.8 607.9,502.5 608.1,502.5 608.6,503.0 608.9,503.0 609.6,502.3 610.1,502.9 610.4,503.1 610.9,503.1 611.1,502.9 611.4,502.7 611.9,502.0 612.4,502.7 612.6,503.0 612.9,502.9 613.6,502.4 614.4,503.0 616.9,503.1 617.6,502.9 618.1,502.7 618.4,502.8 618.9,502.3 619.4,503.0 619.9,503.0 620.4,502.8 621.1,503.0 623.1,503.0 623.4,502.6 623.6,501.8 623.9,501.5 624.4,503.0 624.9,502.9 625.4,503.0 626.6,503.1 627.1,502.4 627.4,502.6 627.9,502.0 628.6,502.9 628.9,503.0 629.1,503.1 629.4,502.9 629.9,502.3 630.1,502.5 630.6,503.1 631.4,502.8 632.1,503.1 633.9,503.1 634.6,502.7 634.9,502.3 635.1,502.5 635.4,502.9 635.6,503.1 636.6,502.6 637.4,503.0 638.4,503.1 639.4,502.4 640.1,502.9 643.1,503.1 643.9,502.9 644.1,502.9 644.9,502.5 645.9,503.1 646.9,503.0 647.4,502.8 647.9,502.9 650.4,503.1 651.1,502.4 651.4,502.4 651.6,502.6 651.9,502.7 652.1,502.5 652.9,502.9 653.4,502.9 653.9,503.0 654.1,502.9 654.4,502.4 654.6,502.2 654.9,502.6 655.1,502.8 655.9,503.0 656.1,502.8 656.6,501.7 656.9,501.5 657.4,502.5 657.6,502.6 658.1,503.1 658.4,502.9 658.9,501.8 659.1,501.4 659.9,503.1 660.1,503.0 660.4,502.9 660.6,502.9 660.9,503.0 661.9,503.0 662.6,503.1 663.4,502.8 664.1,503.1 664.6,503.0 665.4,502.8 666.1,503.1 667.1,503.1 667.1,504.6 660.1,504.6 659.9,504.6 659.4,505.0 659.1,505.3 658.6,504.6 658.4,504.6 657.1,504.7 656.4,505.3 655.4,504.6 655.1,504.6 654.4,504.9 653.4,504.6 650.9,504.6 650.6,504.8 650.4,504.9 650.1,505.0 649.9,505.9 649.4,504.7 649.1,504.6 646.4,504.6 646.1,504.7 645.6,505.4 645.4,505.2 644.9,504.6 644.6,504.6 644.1,504.6 643.9,504.7 643.1,505.6 642.9,505.4 642.1,504.6 641.6,504.7 641.1,505.0 640.9,505.1 640.4,504.8 639.9,504.6 639.4,505.1 639.1,505.0 638.9,504.9 638.6,505.1 638.1,505.9 637.9,505.7 637.1,504.6 632.4,504.7 631.6,504.6 631.1,504.8 630.9,504.7 630.6,504.8 630.1,505.1 629.1,504.6 626.9,504.6 626.1,504.6 625.4,504.6 624.6,504.6 623.9,505.6 623.6,505.7 622.9,504.7 622.6,504.6 622.4,504.6 621.6,504.9 620.6,504.6 619.1,504.6 618.1,505.2 617.1,504.6 616.9,505.0 616.6,505.8 616.1,504.6 615.6,504.6 615.1,505.3 614.9,505.4 614.6,505.1 614.4,504.9 613.9,505.5 613.1,504.6 612.9,504.6 610.6,504.6 610.4,504.7 610.1,504.7 609.9,504.6 598.4,504.6 597.6,504.7 596.6,504.6 595.9,505.1 595.6,505.1 594.9,504.6 594.4,504.6 593.9,504.8 593.6,504.8 593.4,504.6 592.9,504.6 592.1,505.0 591.4,504.6 591.1,504.6 590.6,504.7 590.1,504.6 588.4,504.6 587.6,505.7 587.4,505.6 586.6,504.6 580.6,504.7 580.1,504.6 578.6,504.6 577.6,505.1 576.9,504.6 575.1,504.6 574.9,504.8 574.6,505.3 574.4,505.5 573.9,504.7 573.4,504.8 572.4,504.6 569.6,504.6 569.1,504.8 568.9,504.7 567.9,504.6 567.1,504.8 566.6,504.6 565.6,504.6 565.1,505.4 564.6,504.6 564.4,504.6 563.6,505.0 563.4,505.0 562.6,504.7 562.4,504.8 562.1,504.7 561.6,504.8 561.4,504.7 560.9,504.7 558.6,504.6 557.9,505.3 557.6,505.4 557.1,504.8 556.9,504.7 556.6,504.8 555.6,504.6 552.1,504.7 551.1,504.6 545.1,504.6 544.1,504.9 543.9,504.9 543.4,505.0 543.1,505.3 542.9,505.4 542.6,505.1 541.9,504.6 541.1,505.8 540.9,505.6 540.4,504.8 540.1,504.6 537.6,504.6 537.1,504.9 536.6,504.6 535.6,504.6 534.9,504.8 534.1,504.8 533.6,504.6 530.6,504.7 530.4,504.9 530.1,505.3 529.9,504.9 529.6,504.6 529.1,504.8 528.9,504.7 528.4,505.8 528.1,506.2 527.4,504.6 523.9,504.6 523.1,504.6 522.4,504.6 521.9,505.0 521.6,505.1 520.9,504.6 520.6,504.6 519.9,505.3 519.1,504.6 518.9,504.6 517.6,504.6 517.1,505.0 516.9,505.1 516.4,504.6 516.1,504.6 512.9,504.6 512.6,504.7 512.1,505.4 511.9,505.5 511.4,504.8 511.1,504.6 508.9,504.6 508.1,505.0 507.4,504.6 507.1,504.6 506.6,504.6 505.9,505.1 505.6,505.0 505.1,504.7 504.9,504.7 504.1,505.9 503.9,505.8 503.1,504.6 502.9,504.6 497.1,504.6 496.6,504.6 491.9,504.6 490.9,504.8 489.9,504.6 489.1,504.7 488.6,505.0 488.1,504.6 485.4,504.7 484.9,504.6 482.6,504.6 482.1,504.9 481.9,504.9 481.4,504.6 477.9,504.7 477.4,504.6 455.9,504.6 455.4,505.0 454.9,504.6 451.1,504.7 450.6,504.6 443.9,504.6 443.4,504.8 442.9,504.6 442.6,504.6 442.4,504.6 441.9,505.0 441.6,505.1 440.9,504.6 439.9,504.6 439.4,504.8 438.9,504.6 438.4,504.7 438.1,504.7 437.6,504.6 429.6,504.6 428.6,504.9 427.6,504.6 427.1,504.6 426.9,504.8 426.6,504.8 426.4,504.6 425.4,504.6 424.6,504.8 423.6,504.6 422.6,504.6 421.6,505.0 420.6,504.6 417.1,504.6 416.4,504.6 415.9,504.7 415.4,504.6 414.9,504.7 414.6,504.8 414.1,504.6 413.1,504.8 412.4,504.6 410.1,504.6" fill="#000000"/>
<polygon points="492.50,503.8 492.63,501.1 492.76,497.2 492.86,491.6 492.90,481.7 493.18,481.1 494.02,481.1 494.30,481.7 494.34,491.6 494.44,497.2 494.57,501.1 494.70,503.8" fill="#000000"/>
<polygon points="498.70,503.8 498.78,503.2 498.86,502.2 498.93,500.9 498.95,498.6 499.17,498.0 499.83,498.0 500.05,498.6 500.07,500.9 500.14,502.2 500.22,503.2 500.30,503.8" fill="#000000"/>
<polygon points="500.80,503.8 500.85,504.2 500.90,504.8 500.94,505.6 500.95,507.0 502.05,507.0 502.06,505.6 502.10,504.8 502.15,504.2 502.20,503.8" fill="#000000"/>
<polygon points="502.10,503.8 502.21,503.1 502.33,502.1 502.42,500.7 502.45,498.1 502.67,497.5 503.33,497.5 503.55,498.1 503.58,500.7 503.67,502.1 503.79,503.1 503.90,503.8" fill="#000000"/>
<polygon points="504.20,503.8 504.28,503.2 504.36,502.4 504.43,501.2 504.45,499.1 504.67,498.5 505.33,498.5 505.55,499.1 505.57,501.2 505.64,502.4 505.72,503.2 505.80,503.8" fill="#000000"/>
<polygon points="505.50,503.8 505.55,504.2 505.60,504.8 505.64,505.6 505.65,507.0 506.75,507.0 506.76,505.6 506.80,504.8 506.85,504.2 506.90,503.8" fill="#000000"/>
<polygon points="519.30,503.8 519.38,503.2 519.46,502.2 519.53,500.9 519.55,498.6 519.77,498.0 520.43,498.0 520.65,498.6 520.67,500.9 520.74,502.2 520.82,503.2 520.90,503.8" fill="#000000"/>
<polygon points="520.20,503.8 520.25,504.2 520.30,504.8 520.34,505.7 520.35,507.2 521.45,507.2 521.46,505.7 521.50,504.8 521.55,504.2 521.60,503.8" fill="#000000"/>
<polygon points="546.50,503.8 546.58,503.3 546.66,502.5 546.73,501.5 546.75,499.6 546.97,499.0 547.63,499.0 547.85,499.6 547.87,501.5 547.94,502.5 548.02,503.3 548.10,503.8" fill="#000000"/>
<polygon points="547.30,503.8 547.35,504.2 547.40,504.8 547.44,505.6 547.45,507.0 548.55,507.0 548.56,505.6 548.60,504.8 548.65,504.2 548.70,503.8" fill="#000000"/>
<polygon points="510.20,503.8 510.28,503.5 510.36,503.1 510.43,502.6 510.45,501.6 510.67,501.0 511.33,501.0 511.55,501.6 511.57,502.6 511.64,503.1 511.72,503.5 511.80,503.8" fill="#000000"/>
<polygon points="497.90,503.8 497.95,504.2 498.00,504.8 498.04,505.6 498.05,507.0 499.15,507.0 499.16,505.6 499.20,504.8 499.25,504.2 499.30,503.8" fill="#000000"/>
<polygon points="534.30,503.8 534.35,503.6 534.40,503.3 534.44,502.9 534.45,502.1 534.67,501.5 535.33,501.5 535.55,502.1 535.56,502.9 535.60,503.3 535.65,503.6 535.70,503.8" fill="#000000"/>
<polygon points="554.20,503.8 554.28,503.6 554.36,503.2 554.43,502.8 554.45,501.9 554.67,501.3 555.33,501.3 555.55,501.9 555.57,502.8 555.64,503.2 555.72,503.6 555.80,503.8" fill="#000000"/>
<polygon points="572.30,503.8 572.35,503.6 572.40,503.3 572.44,502.9 572.45,502.1 572.67,501.5 573.33,501.5 573.55,502.1 573.56,502.9 573.60,503.3 573.65,503.6 573.70,503.8" fill="#000000"/>
<polygon points="586.30,503.8 586.35,503.6 586.40,503.2 586.44,502.8 586.45,501.9 586.67,501.3 587.33,501.3 587.55,501.9 587.56,502.8 587.60,503.2 587.65,503.6 587.70,503.8" fill="#000000"/>
<polygon points="602.10,503.8 602.21,503.6 602.33,503.3 602.42,502.9 602.45,502.1 602.67,501.5 603.33,501.5 603.55,502.1 603.58,502.9 603.67,503.3 603.79,503.6 603.90,503.8" fill="#000000"/>
<polygon points="605.20,503.8 605.28,504.1 605.36,504.6 605.43,505.3 605.45,506.6 606.55,506.6 606.57,505.3 606.64,504.6 606.72,504.1 606.80,503.8" fill="#000000"/>
<polygon points="612.10,503.8 612.21,503.6 612.33,503.3 612.42,502.9 612.45,502.2 612.67,501.6 613.33,501.6 613.55,502.2 613.58,502.9 613.67,503.3 613.79,503.6 613.90,503.8" fill="#000000"/>
<polygon points="646.10,503.8 646.21,503.6 646.33,503.3 646.42,502.9 646.45,502.2 646.67,501.6 647.33,501.6 647.55,502.2 647.58,502.9 647.67,503.3 647.79,503.6 647.90,503.8" fill="#000000"/>
<polygon points="648.20,503.8 648.28,504.1 648.36,504.6 648.43,505.3 648.45,506.6 649.55,506.6 649.57,505.3 649.64,504.6 649.72,504.1 649.80,503.8" fill="#000000"/>
<polygon points="457.30,503.8 457.35,503.7 457.40,503.4 457.44,503.1 457.45,502.6 457.67,502.0 458.33,502.0 458.55,502.6 458.56,503.1 458.60,503.4 458.65,503.7 458.70,503.8" fill="#000000"/>
<polygon points="428.7,483.4 432.2,483.4 433.2,483.1 433.9,483.4 436.7,483.4 437.2,483.2 437.7,483.4 446.9,483.4 447.7,483.1 447.9,483.1 448.7,483.4 449.4,483.4 449.9,483.3 450.2,483.4 450.7,483.4 454.2,483.4 454.9,483.3 455.7,483.4 456.9,483.4 457.4,483.2 458.2,483.4 469.7,483.4 469.9,483.3 470.2,482.9 470.4,482.9 470.7,483.3 470.9,483.4 473.2,483.4 473.7,483.2 473.9,483.2 474.2,483.4 474.4,483.3 474.9,482.8 475.2,482.9 475.7,483.4 477.9,483.4 478.7,483.3 479.4,483.4 481.7,483.4 482.2,483.1 482.9,483.4 485.7,483.4 486.9,483.0 487.4,483.4 487.7,483.4 491.7,483.4 492.7,483.3 497.4,483.4 498.2,482.8 498.9,483.4 505.4,483.4 506.2,483.2 506.7,483.3 506.9,483.2 507.4,483.4 513.0,483.4 513.2,483.2 513.5,482.9 513.7,483.0 514.0,483.0 515.0,483.4 515.7,483.4 516.5,483.2 516.7,483.3 517.0,483.0 517.2,482.4 517.5,482.9 518.0,483.1 518.7,483.4 519.7,483.4 520.5,483.2 521.2,483.4 521.5,483.4 522.2,482.2 522.5,482.2 523.2,483.3 523.5,483.1 524.0,483.4 524.7,483.4 525.5,481.3 525.7,481.2 526.2,482.7 526.5,483.2 527.5,483.4 528.5,483.4 528.7,483.2 529.5,482.1 529.7,482.3 530.5,483.4 530.7,483.0 531.0,482.3 531.2,482.3 531.5,483.0 532.2,482.9 532.5,482.6 533.0,483.1 533.5,482.5 533.7,482.7 534.2,483.2 534.5,483.4 536.5,483.4 537.2,483.0 537.5,482.9 538.0,482.4 538.7,483.3 539.0,483.4 539.7,483.2 540.2,483.3 541.0,482.7 541.2,482.7 541.7,483.2 542.2,483.4 542.5,483.3 543.2,482.6 543.7,483.0 544.2,482.5 545.0,483.3 545.2,483.2 545.7,482.9 546.0,482.8 546.7,483.4 547.5,483.4 548.0,483.2 548.2,483.4 549.7,483.4 550.5,482.0 550.7,481.8 551.5,483.3 551.7,483.4 554.0,483.3 554.7,482.9 555.5,483.3 555.7,483.4 556.2,483.3 557.0,483.4 557.2,483.3 558.0,482.4 558.2,482.5 559.0,483.4 566.2,483.4 566.7,482.9 567.0,482.8 567.5,483.4 568.7,483.4 569.0,483.4 569.5,483.2 570.0,483.4 571.2,483.4 571.5,483.4 571.7,483.2 572.0,483.2 572.5,483.4 577.0,483.4 577.2,483.4 577.7,483.0 578.0,483.0 578.5,483.4 581.2,483.4 582.0,483.2 582.5,483.4 589.5,483.4 590.2,482.6 591.0,483.4 591.7,483.4 592.2,483.3 592.7,483.3 593.2,482.7 593.5,482.6 593.7,481.8 594.0,482.2 594.2,483.0 594.5,483.4 596.5,483.4 596.7,483.1 597.5,480.4 597.7,481.0 598.2,482.8 598.5,483.4 598.7,483.4 599.0,483.3 599.5,482.4 600.0,480.3 600.7,483.4 601.0,483.4 601.7,483.3 602.2,483.4 603.0,482.4 603.5,482.9 603.7,482.9 604.7,483.4 605.5,482.0 606.2,483.4 608.0,483.4 608.2,483.4 609.0,482.0 609.2,482.3 609.5,482.4 609.7,481.0 610.2,482.6 610.5,481.5 610.7,482.1 611.0,483.1 611.2,483.4 611.5,483.4 612.2,481.8 612.5,481.4 612.7,482.0 613.0,482.0 613.2,481.8 613.5,481.0 613.7,480.5 614.5,483.2 614.7,483.4 615.0,483.3 615.7,482.2 616.0,482.3 616.7,483.3 617.0,483.4 617.7,483.2 618.2,482.5 618.5,482.5 619.0,483.2 619.5,483.2 620.0,483.4 621.2,483.4 621.5,483.2 621.7,483.1 622.0,483.3 622.2,483.4 623.7,483.4 624.5,483.2 625.0,483.3 625.5,483.2 626.2,483.4 628.7,483.4 629.0,483.4 629.5,483.0 629.7,483.0 630.0,483.1 630.2,483.0 631.0,483.4 631.7,483.4 632.0,483.3 632.5,483.3 633.0,482.8 633.2,482.6 634.0,483.4 634.2,483.1 634.5,482.7 634.7,482.9 635.0,482.9 635.2,482.5 635.5,482.7 635.7,483.1 636.2,483.4 637.5,483.4 638.2,481.6 638.5,481.3 639.2,483.2 639.5,483.4 640.7,483.4 641.7,483.2 642.2,483.3 643.0,481.2 643.2,481.1 643.7,482.6 644.2,480.5 644.7,482.7 645.0,483.1 645.2,483.2 645.7,483.4 648.0,483.4 649.0,481.8 649.7,483.2 650.0,483.4 650.2,483.2 650.7,480.4 651.2,483.4 652.0,482.3 652.2,482.4 652.7,483.2 653.0,483.4 653.7,483.2 654.0,482.8 654.5,483.2 654.7,482.9 655.5,483.4 656.5,483.4 657.7,483.1 658.2,482.5 659.0,483.3 659.2,483.4 659.7,481.9 660.0,481.4 660.5,483.2 661.7,483.4 662.7,483.4 663.2,483.3 663.5,483.3 663.7,482.6 664.0,482.2 664.5,483.4 666.5,483.4 666.7,483.3 667.5,482.3 668.0,480.4 668.7,483.2 669.0,483.4 670.0,483.1 670.2,483.0 670.5,482.5 670.7,483.1 671.0,482.4 671.2,481.4 671.5,481.1 672.0,483.1 672.2,483.4 673.7,483.4 674.2,483.3 674.7,483.4 675.7,483.4 676.2,483.4 677.2,482.8 678.0,483.3 678.2,483.4 686.5,483.4 686.5,485.2 684.2,485.3 683.2,485.2 682.5,485.4 681.7,485.2 678.0,485.2 677.2,485.3 676.5,485.2 675.7,485.2 675.0,485.6 674.2,485.2 666.0,485.2 665.2,485.5 665.0,485.5 664.5,485.2 662.7,485.2 662.2,486.8 662.0,486.6 661.7,485.7 661.5,485.8 660.7,485.2 657.5,485.2 657.2,485.3 656.7,485.7 656.5,485.7 655.7,485.2 654.5,485.2 653.7,485.4 653.5,485.4 652.7,485.2 651.7,485.2 651.2,485.8 651.0,485.5 650.7,485.7 650.5,485.7 650.0,485.3 649.7,485.7 649.5,486.5 649.0,485.2 648.5,485.2 647.7,485.7 647.2,485.3 646.5,487.3 646.2,487.1 645.7,485.7 645.5,485.5 645.0,487.0 644.5,485.5 644.2,485.2 643.7,485.5 643.2,485.3 642.7,485.4 642.2,485.3 642.0,485.3 641.0,485.2 635.7,485.2 635.2,487.0 635.0,487.3 634.5,485.6 633.5,485.2 630.5,485.2 630.2,485.6 630.0,486.5 629.7,487.2 629.2,485.2 629.0,485.2 628.0,485.2 627.5,485.6 627.2,485.6 627.0,485.4 626.5,485.4 625.7,485.2 625.0,485.2 624.7,485.3 624.2,487.1 624.0,487.4 623.5,485.7 623.2,485.9 623.0,485.8 622.2,485.2 622.0,485.2 618.7,485.2 618.5,485.3 618.0,486.1 617.7,486.3 617.0,485.2 614.5,485.2 613.7,485.5 613.5,485.5 613.2,485.7 612.5,485.2 611.2,485.2 611.0,485.5 610.7,485.5 610.5,485.2 602.7,485.2 602.0,486.0 601.5,485.5 601.2,485.4 601.0,485.5 600.7,485.5 600.5,485.7 600.2,485.6 599.7,485.2 599.5,485.3 599.0,485.2 597.2,485.2 596.5,485.8 596.2,485.6 595.7,486.1 595.5,486.0 594.7,485.2 594.5,485.2 594.0,485.2 593.5,486.3 593.2,486.4 592.7,485.3 592.5,485.2 580.0,485.2 579.2,485.4 579.0,485.4 578.2,485.2 552.0,485.2 551.5,485.3 550.7,485.2 546.2,485.3 539.0,485.2 538.2,485.3 537.7,485.2 537.0,485.3 536.5,485.2 535.7,486.1 535.0,485.2 534.5,485.2 533.7,485.3 533.2,485.2 531.5,485.2 531.2,485.3 530.7,485.8 530.0,485.2 529.0,485.2 528.5,485.3 528.0,485.2 527.5,485.2 527.2,485.3 527.0,485.6 526.7,485.6 526.2,485.2 522.0,485.2 521.5,486.4 521.2,486.2 520.7,485.2 518.5,485.2 518.2,485.3 517.7,486.1 517.5,486.1 517.0,485.3 516.7,485.2 510.7,485.2 510.2,485.2 508.9,485.2 508.4,485.4 507.9,485.2 494.4,485.2 493.9,485.6 492.9,485.2 452.9,485.2 448.2,485.4 447.7,485.2 445.4,485.2 444.7,485.3 444.2,485.2 437.2,485.2 436.4,485.4 435.9,485.2 431.4,485.2 431.2,485.3 430.7,485.7 430.4,485.6 429.9,485.2 428.7,485.2" fill="#0000ff"/>
<polygon points="525.30,484.3 525.44,477.8 525.60,468.1 525.71,454.6 525.75,430.3 526.13,429.7 527.27,429.7 527.65,430.3 527.69,454.6 527.80,468.1 527.96,477.8 528.10,484.3" fill="#0000ff"/>
<polygon points="511.10,484.3 511.23,481.7 511.36,477.8 511.46,472.4 511.50,462.6 511.86,462.0 512.94,462.0 513.30,462.6 513.34,472.4 513.44,477.8 513.57,481.7 513.70,484.3" fill="#0000ff"/>
<polygon points="516.50,484.3 516.64,484.9 516.80,485.8 516.91,487.1 516.95,489.4 518.05,489.4 518.09,487.1 518.20,485.8 518.36,484.9 518.50,484.3" fill="#0000ff"/>
<polygon points="518.20,484.3 518.28,483.8 518.36,483.0 518.43,482.0 518.45,480.1 518.67,479.5 519.33,479.5 519.55,480.1 519.57,482.0 519.64,483.0 519.72,483.8 519.80,484.3" fill="#0000ff"/>
<polygon points="522.50,484.3 522.64,483.7 522.80,482.9 522.91,481.7 522.95,479.6 523.17,479.0 523.83,479.0 524.05,479.6 524.09,481.7 524.20,482.9 524.36,483.7 524.50,484.3" fill="#0000ff"/>
<polygon points="524.00,484.3 524.14,485.0 524.30,486.0 524.41,487.4 524.45,490.0 525.55,490.0 525.59,487.4 525.70,486.0 525.86,485.0 526.00,484.3" fill="#0000ff"/>
<polygon points="527.60,484.3 527.78,483.1 527.96,481.3 528.10,478.9 528.15,474.4 528.37,473.8 529.03,473.8 529.25,474.4 529.30,478.9 529.44,481.3 529.62,483.1 529.80,484.3" fill="#0000ff"/>
<polygon points="538.40,484.3 538.48,483.6 538.56,482.6 538.63,481.2 538.65,478.6 538.87,478.0 539.53,478.0 539.75,478.6 539.77,481.2 539.84,482.6 539.92,483.6 540.00,484.3" fill="#0000ff"/>
<polygon points="539.20,484.3 539.28,485.0 539.36,486.0 539.43,487.4 539.45,490.0 540.55,490.0 540.57,487.4 540.64,486.0 540.72,485.0 540.80,484.3" fill="#0000ff"/>
<polygon points="556.60,484.3 556.81,483.7 557.03,482.8 557.19,481.5 557.25,479.2 557.47,478.6 558.13,478.6 558.35,479.2 558.41,481.5 558.57,482.8 558.79,483.7 559.00,484.3" fill="#0000ff"/>
<polygon points="565.40,484.3 565.51,483.8 565.63,483.1 565.72,482.2 565.75,480.4 565.97,479.8 566.63,479.8 566.85,480.4 566.88,482.2 566.97,483.1 567.09,483.8 567.20,484.3" fill="#0000ff"/>
<polygon points="566.40,484.3 566.48,484.9 566.56,485.7 566.63,486.9 566.65,489.0 567.75,489.0 567.77,486.9 567.84,485.7 567.92,484.9 568.00,484.3" fill="#0000ff"/>
<polygon points="569.20,484.3 569.34,483.6 569.50,482.6 569.61,481.2 569.65,478.6 569.87,478.0 570.53,478.0 570.75,478.6 570.79,481.2 570.90,482.6 571.06,483.6 571.20,484.3" fill="#0000ff"/>
<polygon points="581.10,484.3 581.34,483.7 581.59,482.9 581.78,481.7 581.85,479.5 582.07,478.9 582.73,478.9 582.95,479.5 583.02,481.7 583.21,482.9 583.46,483.7 583.70,484.3" fill="#0000ff"/>
<polygon points="610.90,484.3 611.01,483.6 611.13,482.6 611.22,481.2 611.25,478.6 611.47,478.0 612.13,478.0 612.35,478.6 612.38,481.2 612.47,482.6 612.59,483.6 612.70,484.3" fill="#0000ff"/>
<polygon points="613.10,484.3 613.21,484.9 613.33,485.7 613.42,486.9 613.45,489.0 614.55,489.0 614.58,486.9 614.67,485.7 614.79,484.9 614.90,484.3" fill="#0000ff"/>
<polygon points="629.60,484.3 629.71,485.1 629.83,486.2 629.92,487.9 629.95,490.8 631.05,490.8 631.08,487.9 631.17,486.2 631.29,485.1 631.40,484.3" fill="#0000ff"/>
<polygon points="631.10,484.3 631.24,483.2 631.40,481.6 631.51,479.4 631.55,475.3 631.77,474.7 632.43,474.7 632.65,475.3 632.69,479.4 632.80,481.6 632.96,483.2 633.10,484.3" fill="#0000ff"/>
<polygon points="632.60,484.3 632.71,483.8 632.83,483.0 632.92,482.0 632.95,480.1 633.17,479.5 633.83,479.5 634.05,480.1 634.08,482.0 634.17,483.0 634.29,483.8 634.40,484.3" fill="#0000ff"/>
<polygon points="638.00,484.3 638.11,483.8 638.23,483.1 638.32,482.2 638.35,480.4 638.57,479.8 639.23,479.8 639.45,480.4 639.48,482.2 639.57,483.1 639.69,483.8 639.80,484.3" fill="#0000ff"/>
<polygon points="639.20,484.3 639.28,484.9 639.36,485.7 639.43,486.9 639.45,489.0 640.55,489.0 640.57,486.9 640.64,485.7 640.72,484.9 640.80,484.3" fill="#0000ff"/>
<polygon points="657.80,484.3 657.98,483.4 658.16,482.0 658.30,480.0 658.35,476.5 658.57,475.9 659.23,475.9 659.45,476.5 659.50,480.0 659.64,482.0 659.82,483.4 660.00,484.3" fill="#0000ff"/>
<polygon points="440.30,484.3 440.35,484.1 440.40,483.8 440.44,483.4 440.45,482.6 440.67,482.0 441.33,482.0 441.55,482.6 441.56,483.4 441.60,483.8 441.65,484.1 441.70,484.3" fill="#0000ff"/>
<polygon points="474.60,484.3 474.71,484.1 474.83,483.7 474.92,483.3 474.95,482.4 475.17,481.8 475.83,481.8 476.05,482.4 476.08,483.3 476.17,483.7 476.29,484.1 476.40,484.3" fill="#0000ff"/>
<polygon points="486.20,484.3 486.28,484.1 486.36,483.8 486.43,483.4 486.45,482.6 486.67,482.0 487.33,482.0 487.55,482.6 487.57,483.4 487.64,483.8 487.72,484.1 487.80,484.3" fill="#0000ff"/>
<polygon points="603.70,484.3 603.78,483.9 603.86,483.2 603.93,482.3 603.95,480.6 604.17,480.0 604.83,480.0 605.05,480.6 605.07,482.3 605.14,483.2 605.22,483.9 605.30,484.3" fill="#0000ff"/>
<polygon points="619.60,484.3 619.87,484.0 620.16,483.5 620.37,482.8 620.45,481.6 620.67,481.0 621.33,481.0 621.55,481.6 621.63,482.8 621.84,483.5 622.13,484.0 622.40,484.3" fill="#0000ff"/>
<polygon points="623.60,484.3 623.87,484.0 624.16,483.5 624.37,482.8 624.45,481.6 624.67,481.0 625.33,481.0 625.55,481.6 625.63,482.8 625.84,483.5 626.13,484.0 626.40,484.3" fill="#0000ff"/>
<polygon points="644.00,484.3 644.14,484.0 644.30,483.5 644.41,482.8 644.45,481.6 644.67,481.0 645.33,481.0 645.55,481.6 645.59,482.8 645.70,483.5 645.86,484.0 646.00,484.3" fill="#0000ff"/>
<polygon points="666.10,484.3 666.21,484.0 666.33,483.6 666.42,483.1 666.45,482.1 666.67,481.5 667.33,481.5 667.55,482.1 667.58,483.1 667.67,483.6 667.79,484.0 667.90,484.3" fill="#0000ff"/>
<polygon points="445.1,466.8 451.9,466.8 452.4,466.4 452.6,466.5 452.9,466.7 453.4,466.7 453.9,466.3 454.4,466.1 454.9,466.8 455.9,466.8 456.4,466.4 456.9,466.8 460.4,466.8 461.4,466.6 462.1,466.1 462.9,466.7 463.1,466.8 464.6,466.8 465.1,466.5 465.4,466.5 465.6,466.7 474.4,466.7 474.9,466.6 475.4,466.5 475.9,466.7 476.4,463.0 476.6,462.9 477.1,466.8 477.4,466.7 477.9,466.2 478.1,466.3 478.6,465.6 478.9,465.9 479.4,464.5 479.6,464.9 480.1,466.3 480.4,466.8 480.9,466.8 481.1,466.5 481.4,466.1 481.6,466.3 481.9,466.7 483.9,466.8 484.1,465.8 484.6,462.5 484.9,463.5 485.4,466.3 485.6,466.4 485.9,466.6 486.1,466.7 486.4,466.7 487.1,464.9 487.4,464.6 488.1,466.5 488.4,466.8 488.9,466.8 489.1,466.6 489.9,464.8 490.6,466.1 490.9,466.3 491.6,463.2 492.1,465.2 492.4,464.5 492.9,465.9 493.1,466.3 493.4,466.5 493.6,466.5 494.1,464.1 494.6,466.6 494.9,466.5 495.4,465.9 495.9,466.3 496.1,465.9 496.4,466.1 496.9,466.8 497.1,465.9 497.4,464.4 497.9,466.7 498.6,466.4 499.4,466.8 504.9,466.8 505.1,466.3 505.4,465.2 505.6,465.6 505.9,466.3 506.1,466.8 506.6,466.7 507.1,466.5 508.1,466.8 510.6,466.8 511.4,466.5 511.6,466.6 511.9,466.5 512.4,466.7 512.6,466.8 512.9,466.6 513.4,465.7 513.6,465.6 513.9,466.1 514.1,466.3 514.6,466.6 514.9,466.5 515.6,466.7 518.6,466.8 518.9,466.7 519.4,466.4 519.6,466.4 520.4,466.7 520.9,466.5 521.4,466.5 521.9,465.8 522.1,464.6 522.4,463.0 522.6,463.3 523.1,466.6 523.4,466.8 525.4,466.7 525.6,466.2 525.9,464.8 526.1,464.3 526.4,465.5 526.6,465.7 526.9,465.7 527.4,466.5 527.6,466.5 528.1,465.1 528.6,466.6 528.9,466.7 529.4,466.6 529.6,466.7 530.1,466.5 530.4,466.5 530.6,466.3 531.1,465.3 531.4,465.3 532.1,466.8 532.4,466.8 532.6,466.5 532.9,465.9 533.1,465.6 533.6,466.8 535.1,466.8 535.4,466.7 535.6,466.5 535.9,466.4 536.1,466.6 536.9,466.0 537.4,466.4 537.6,466.1 537.9,465.9 538.1,465.3 538.6,466.4 538.9,466.8 539.1,466.2 539.6,464.6 539.9,464.4 540.4,466.1 540.6,465.8 541.1,464.3 541.4,464.2 541.9,465.6 542.4,466.2 542.9,466.1 543.1,466.4 543.4,466.3 543.6,464.7 543.9,462.2 544.4,466.8 544.9,466.8 545.4,465.3 545.6,464.0 545.9,463.9 546.4,466.5 546.6,466.5 547.1,465.8 547.4,465.6 547.6,464.7 547.9,464.4 548.4,466.1 548.6,466.2 549.1,465.5 549.9,466.6 550.1,466.8 552.1,466.7 552.9,466.1 553.4,466.4 553.9,466.0 554.1,466.6 555.6,466.8 556.4,466.0 556.9,466.4 557.1,466.5 557.4,466.3 557.9,466.5 558.1,466.6 558.4,466.2 558.6,465.2 558.9,464.8 559.4,466.8 560.6,466.8 561.4,464.9 561.6,465.0 562.1,466.3 562.4,466.5 562.9,466.6 563.4,466.8 564.4,466.8 564.6,466.5 565.1,463.2 565.6,466.6 565.9,466.8 566.1,466.8 566.9,465.7 567.4,466.5 567.6,466.2 567.9,466.2 568.4,466.8 569.6,466.8 569.9,466.5 570.4,465.1 570.6,465.5 570.9,466.2 571.1,466.8 571.4,466.5 571.9,465.5 572.1,465.5 572.6,466.3 572.9,465.9 573.1,465.7 573.6,466.6 573.9,466.8 574.6,466.5 574.9,466.6 575.1,466.5 575.6,465.8 575.9,465.9 576.1,465.4 576.4,464.6 576.6,463.3 576.9,463.9 577.1,465.2 577.4,465.2 577.6,464.7 577.9,464.9 578.6,466.6 578.9,466.7 581.6,466.8 582.4,463.9 582.9,466.1 583.1,466.0 583.6,465.1 584.4,466.6 584.9,465.4 585.1,465.1 585.9,466.8 586.6,466.8 586.9,466.7 587.1,466.3 587.4,464.8 587.6,462.5 587.9,463.7 588.1,466.0 588.4,466.8 591.4,466.8 591.6,466.6 592.1,465.8 592.4,465.6 592.6,466.0 592.9,466.1 593.4,466.7 593.6,466.6 594.1,466.2 594.4,466.2 595.1,466.8 595.4,466.6 596.1,464.9 596.4,464.9 597.1,466.6 597.4,466.8 598.6,466.8 598.9,466.7 599.6,465.6 600.1,466.4 600.4,466.6 600.6,466.4 600.9,465.9 601.1,464.9 601.4,465.0 601.6,465.8 601.9,464.6 602.1,465.1 602.4,466.2 602.6,466.8 603.1,466.7 603.9,466.4 604.1,466.4 604.4,466.3 604.6,465.7 604.9,465.5 605.1,466.2 605.4,466.3 606.1,464.2 606.4,464.6 607.1,466.6 607.4,466.6 607.9,464.8 608.4,466.8 609.4,466.6 610.1,466.8 610.4,466.3 610.9,464.9 611.1,464.5 611.6,465.9 611.9,465.9 612.1,465.1 612.4,466.1 612.6,466.2 613.4,464.9 613.9,462.5 614.6,466.4 614.9,466.4 615.4,465.2 615.6,465.6 615.9,466.2 616.1,466.4 616.4,465.8 616.9,466.7 617.1,466.5 617.6,465.2 617.9,465.1 618.1,464.0 618.4,463.5 618.9,466.2 619.1,466.7 622.4,466.8 622.6,466.5 623.1,463.4 623.4,462.7 623.9,465.8 624.1,465.1 624.4,462.8 624.6,463.3 624.9,465.1 625.1,465.1 625.6,466.2 625.9,466.4 626.1,466.1 626.4,466.1 626.9,466.7 628.4,466.8 628.6,466.6 629.4,465.0 629.9,464.8 630.1,463.6 630.4,464.1 630.6,465.3 630.9,466.2 631.1,466.5 631.4,465.9 631.9,464.1 632.4,465.3 632.9,462.7 633.1,462.7 633.6,465.3 633.9,465.8 634.1,465.6 634.4,465.8 635.1,466.7 635.4,466.8 635.6,466.6 636.4,465.9 636.6,466.0 637.4,466.8 637.9,466.8 638.1,466.3 638.4,464.9 638.6,464.7 638.9,466.0 639.1,466.8 640.4,466.8 640.9,464.3 641.1,463.8 641.6,466.6 641.9,466.7 642.4,466.7 647.4,466.8 647.6,466.6 648.1,463.2 648.4,462.6 648.6,464.3 648.9,465.4 649.1,465.6 649.6,466.8 649.9,466.8 650.1,466.4 650.4,465.9 650.6,466.2 650.9,466.7 652.1,466.8 652.4,466.4 652.6,465.3 652.9,464.7 653.4,466.7 653.6,466.7 654.4,466.3 654.6,465.2 654.9,464.4 655.1,466.0 655.4,466.6 655.6,466.6 656.1,466.6 656.4,466.4 656.6,466.4 657.1,466.8 657.4,466.0 657.9,463.8 658.1,464.3 658.6,466.5 659.6,466.7 659.9,466.3 660.4,464.4 660.9,466.2 661.1,466.6 661.4,466.4 661.6,466.3 662.1,466.7 662.4,466.7 663.1,466.6 664.9,466.8 665.4,466.6 666.1,466.8 669.4,466.8 669.6,466.6 670.4,465.6 670.6,465.7 671.4,466.7 671.6,466.8 671.9,466.6 672.4,466.2 672.6,466.2 672.9,466.4 673.1,466.3 673.6,466.8 678.6,466.8 679.1,466.6 679.6,466.5 679.9,466.4 680.4,466.0 681.4,466.7 684.9,466.7 685.4,466.2 685.9,466.8 686.4,466.6 688.4,466.7 688.9,466.6 692.4,466.8 693.4,466.4 694.1,466.6 694.9,466.4 695.1,466.5 695.6,466.5 696.4,466.8 700.6,466.8 700.6,468.5 697.4,468.5 696.9,468.6 696.1,468.5 688.4,468.5 687.6,469.5 687.4,469.5 686.6,468.5 684.1,468.5 683.6,468.9 683.4,468.8 683.1,468.5 682.9,468.5 682.4,468.5 682.1,469.0 681.9,469.3 681.6,468.7 681.4,468.5 677.9,468.5 677.1,468.7 676.4,468.5 675.4,468.6 674.9,468.9 674.6,468.7 674.4,468.8 673.9,469.5 673.6,469.1 673.1,468.8 672.6,469.3 672.4,469.2 671.6,468.5 671.1,468.6 670.6,468.5 659.1,468.5 658.9,468.6 658.6,468.9 658.4,468.7 658.1,468.7 657.9,468.5 657.6,468.5 656.9,471.2 656.6,471.5 655.9,468.9 655.6,468.7 654.6,468.5 654.1,468.5 653.4,469.4 653.1,469.5 652.9,469.3 652.4,472.0 652.1,471.8 651.6,469.1 651.4,468.5 651.1,468.5 650.9,468.7 650.4,470.3 650.1,469.2 649.9,469.1 649.6,469.6 649.4,469.7 648.9,468.7 648.4,468.8 648.1,469.1 647.9,469.0 647.6,469.5 647.4,470.4 647.1,471.1 646.6,469.3 646.4,469.5 646.1,468.8 645.9,468.5 643.4,468.5 642.4,469.3 641.4,468.5 640.6,468.5 639.9,469.4 639.4,468.7 639.1,468.5 637.9,468.5 637.6,468.5 634.4,468.5 633.6,468.8 632.6,468.5 623.6,468.5 623.4,468.6 622.9,470.1 622.6,469.9 622.1,468.5 620.1,468.5 619.6,472.1 619.4,471.1 619.1,469.1 618.9,468.5 613.9,468.5 613.4,471.0 612.6,468.6 612.4,468.5 612.1,468.5 611.9,468.6 611.4,469.5 610.9,468.7 610.6,468.5 610.4,468.7 609.9,470.6 609.6,470.5 609.1,468.5 608.9,468.6 608.1,469.2 607.9,469.2 607.1,468.5 606.9,468.5 603.4,468.5 602.6,470.0 601.9,468.6 601.4,470.2 601.1,470.2 600.6,468.5 600.4,468.5 599.4,468.5 598.6,470.7 598.4,470.3 597.9,468.9 597.6,468.6 597.4,468.5 594.9,468.6 593.4,468.5 592.9,468.6 592.6,468.5 591.6,468.5 591.4,468.6 590.9,470.2 590.4,469.1 590.1,469.5 589.9,469.3 589.4,468.5 589.1,468.5 581.4,468.5 580.9,469.6 580.6,469.5 580.4,468.8 579.9,468.5 579.4,469.4 578.9,468.5 576.6,468.5 575.9,468.9 575.1,470.7 574.6,469.5 573.6,468.5 573.4,468.5 573.1,468.6 572.6,468.9 572.4,469.0 571.6,468.5 570.1,468.5 569.6,468.8 568.9,468.5 568.1,468.5 567.9,468.7 567.4,470.1 567.1,470.5 566.4,468.5 566.1,468.5 565.6,468.7 565.1,468.5 564.4,469.5 563.6,468.5 563.1,468.5 562.9,469.2 562.6,469.6 562.4,468.9 562.1,468.5 561.4,468.5 560.9,468.7 560.6,468.6 560.4,469.3 560.1,469.7 559.9,469.0 559.6,469.4 559.4,469.3 558.9,468.5 551.4,468.5 551.1,468.7 550.6,470.5 550.4,471.0 549.9,469.2 549.6,469.2 549.4,469.8 549.1,469.9 548.6,468.7 548.4,468.5 548.1,468.6 547.9,468.8 547.6,469.0 547.1,468.5 545.9,468.5 545.6,468.6 545.1,470.2 544.9,469.9 544.4,468.5 543.1,468.5 542.6,470.6 542.1,468.6 541.9,468.8 541.6,469.2 541.4,468.8 541.1,468.5 537.4,468.5 537.1,469.1 536.9,470.2 536.6,470.4 536.4,469.4 536.1,468.8 535.9,468.9 535.4,468.7 535.1,468.9 534.6,470.9 534.1,468.9 533.9,468.5 532.4,468.5 531.6,468.8 531.4,468.9 531.1,468.7 530.9,468.8 530.4,469.5 530.1,469.6 529.6,468.9 529.4,468.8 529.1,468.9 528.4,468.5 527.6,468.5 526.9,470.0 526.6,469.7 526.1,468.7 525.9,468.7 525.4,469.2 525.1,469.2 524.4,468.5 518.6,468.6 516.4,468.5 515.9,470.2 515.6,470.5 515.1,468.6 514.9,468.5 514.4,468.7 513.9,468.5 513.6,468.5 513.4,469.3 512.6,472.5 511.9,469.1 511.6,469.3 510.9,468.5 507.1,468.5 506.9,469.2 506.4,471.7 506.1,472.1 505.6,469.6 505.4,468.8 504.9,469.2 504.1,468.5 503.9,468.5 503.6,468.5 502.9,469.3 502.6,468.9 502.1,469.5 501.9,470.6 501.6,470.0 501.4,468.8 501.1,468.6 500.6,469.0 499.9,468.5 499.4,468.5 499.1,468.8 498.6,471.0 498.1,468.7 497.9,468.6 497.4,469.2 497.1,469.2 496.6,468.6 496.4,468.5 494.9,468.5 494.1,469.4 493.9,469.4 493.6,469.7 493.4,470.2 493.1,469.4 492.9,469.3 492.6,470.0 492.4,469.8 492.1,469.1 491.9,468.9 491.6,469.0 490.4,468.5 490.1,468.5 489.9,468.6 489.6,469.1 489.1,472.0 488.9,471.7 488.6,470.3 488.4,469.4 488.1,469.0 487.9,469.7 487.6,470.0 487.1,468.8 486.9,468.5 486.4,468.8 485.9,468.5 485.4,468.9 485.1,468.9 484.4,468.5 482.9,468.5 482.4,469.7 482.1,469.4 481.6,468.5 480.9,468.5 480.6,468.8 479.9,471.5 479.6,471.5 478.9,468.9 478.6,468.5 477.4,468.5 477.1,468.6 476.4,469.5 475.6,468.7 475.4,468.6 475.1,468.6 474.4,468.5 467.9,468.5 467.4,468.5 465.6,468.5 464.9,468.9 464.1,468.5 462.4,468.5 461.9,468.7 461.6,468.6 460.9,468.5 451.4,468.6 450.9,468.5 445.1,468.5" fill="#ff0000"/>
<polygon points="530.90,467.6 531.04,451.5 531.20,427.3 531.31,393.8 531.35,333.4 531.69,332.8 532.71,332.8 533.05,333.4 533.09,393.8 533.20,427.3 533.36,451.5 533.50,467.6" fill="#ff0000"/>
<polygon points="538.50,467.6 538.64,452.8 538.80,430.6 538.91,399.8 538.95,344.4 539.29,343.8 540.31,343.8 540.65,344.4 540.69,399.8 540.80,430.6 540.96,452.8 541.10,467.6" fill="#ff0000"/>
<polygon points="542.90,467.6 543.00,465.8 543.10,463.0 543.17,459.2 543.20,452.4 543.52,451.8 544.48,451.8 544.80,452.4 544.83,459.2 544.90,463.0 545.00,465.8 545.10,467.6" fill="#ff0000"/>
<polygon points="549.30,467.6 549.41,466.5 549.53,464.8 549.62,462.5 549.65,458.4 549.87,457.8 550.53,457.8 550.75,458.4 550.78,462.5 550.87,464.8 550.99,466.5 551.10,467.6" fill="#ff0000"/>
<polygon points="522.70,467.6 522.94,467.1 523.19,466.3 523.38,465.3 523.45,463.4 523.67,462.8 524.33,462.8 524.55,463.4 524.62,465.3 524.81,466.3 525.06,467.1 525.30,467.6" fill="#ff0000"/>
<polygon points="520.80,467.6 521.01,467.2 521.23,466.6 521.39,465.7 521.45,464.1 521.67,463.5 522.33,463.5 522.55,464.1 522.61,465.7 522.77,466.6 522.99,467.2 523.20,467.6" fill="#ff0000"/>
<polygon points="494.80,467.6 494.88,466.9 494.96,466.0 495.03,464.6 495.05,462.1 495.27,461.5 495.93,461.5 496.15,462.1 496.17,464.6 496.24,466.0 496.32,466.9 496.40,467.6" fill="#ff0000"/>
<polygon points="500.40,467.6 500.48,466.8 500.56,465.5 500.63,463.8 500.65,460.6 500.87,460.0 501.53,460.0 501.75,460.6 501.77,463.8 501.84,465.5 501.92,466.8 502.00,467.6" fill="#ff0000"/>
<polygon points="507.90,467.6 508.01,466.9 508.13,466.0 508.22,464.6 508.25,462.1 508.47,461.5 509.13,461.5 509.35,462.1 509.38,464.6 509.47,466.0 509.59,466.9 509.70,467.6" fill="#ff0000"/>
<polygon points="537.50,467.6 537.61,468.2 537.73,469.2 537.82,470.6 537.85,473.0 538.95,473.0 538.98,470.6 539.07,469.2 539.19,468.2 539.30,467.6" fill="#ff0000"/>
<polygon points="545.70,467.6 545.78,466.9 545.86,465.8 545.93,464.3 545.95,461.6 546.17,461.0 546.83,461.0 547.05,461.6 547.07,464.3 547.14,465.8 547.22,466.9 547.30,467.6" fill="#ff0000"/>
<polygon points="547.20,467.6 547.28,468.1 547.36,468.9 547.43,470.0 547.45,472.0 548.55,472.0 548.57,470.0 548.64,468.9 548.72,468.1 548.80,467.6" fill="#ff0000"/>
<polygon points="593.20,467.6 593.28,467.1 593.36,466.2 593.43,465.1 593.45,463.1 593.67,462.5 594.33,462.5 594.55,463.1 594.57,465.1 594.64,466.2 594.72,467.1 594.80,467.6" fill="#ff0000"/>
<polygon points="594.20,467.6 594.28,468.1 594.36,468.9 594.43,470.0 594.45,472.0 595.55,472.0 595.57,470.0 595.64,468.9 595.72,468.1 595.80,467.6" fill="#ff0000"/>
<polygon points="614.10,467.6 614.28,467.1 614.46,466.4 614.60,465.4 614.65,463.6 614.87,463.0 615.53,463.0 615.75,463.6 615.80,465.4 615.94,466.4 616.12,467.1 616.30,467.6" fill="#ff0000"/>
<polygon points="613.20,467.6 613.28,468.1 613.36,468.8 613.43,469.7 613.45,471.5 614.55,471.5 614.57,469.7 614.64,468.8 614.72,468.1 614.80,467.6" fill="#ff0000"/>
<polygon points="628.80,467.6 628.88,467.1 628.96,466.3 629.03,465.3 629.05,463.4 629.27,462.8 629.93,462.8 630.15,463.4 630.17,465.3 630.24,466.3 630.32,467.1 630.40,467.6" fill="#ff0000"/>
<polygon points="631.20,467.6 631.28,467.1 631.36,466.2 631.43,465.1 631.45,463.1 631.67,462.5 632.33,462.5 632.55,463.1 632.57,465.1 632.64,466.2 632.72,467.1 632.80,467.6" fill="#ff0000"/>
<polygon points="633.00,467.6 633.08,468.0 633.16,468.7 633.23,469.6 633.25,471.3 634.35,471.3 634.37,469.6 634.44,468.7 634.52,468.0 634.60,467.6" fill="#ff0000"/>
<polygon points="642.10,467.6 642.24,467.2 642.40,466.5 642.51,465.6 642.55,464.0 642.77,463.4 643.43,463.4 643.65,464.0 643.69,465.6 643.80,466.5 643.96,467.2 644.10,467.6" fill="#ff0000"/>
<polygon points="690.20,467.6 690.28,467.3 690.36,466.9 690.43,466.2 690.45,465.1 690.67,464.5 691.33,464.5 691.55,465.1 691.57,466.2 691.64,466.9 691.72,467.3 691.80,467.6" fill="#ff0000"/>
<polygon points="465.70,467.6 465.78,467.3 465.86,466.9 465.93,466.2 465.95,465.1 466.17,464.5 466.83,464.5 467.05,465.1 467.07,466.2 467.14,466.9 467.22,467.3 467.30,467.6" fill="#ff0000"/>
<polygon points="479.20,467.6 479.28,467.1 479.36,466.4 479.43,465.4 479.45,463.6 479.67,463.0 480.33,463.0 480.55,463.6 480.57,465.4 480.64,466.4 480.72,467.1 480.80,467.6" fill="#ff0000"/>
<polygon points="481.20,467.6 481.28,468.1 481.36,468.9 481.43,470.0 481.45,472.0 482.55,472.0 482.57,470.0 482.64,468.9 482.72,468.1 482.80,467.6" fill="#ff0000"/>
<polygon points="489.20,467.6 489.28,468.1 489.36,468.9 489.43,470.0 489.45,472.0 490.55,472.0 490.57,470.0 490.64,468.9 490.72,468.1 490.80,467.6" fill="#ff0000"/>
<polygon points="504.20,467.6 504.28,468.1 504.36,468.9 504.43,470.0 504.45,472.0 505.55,472.0 505.57,470.0 505.64,468.9 505.72,468.1 505.80,467.6" fill="#ff0000"/>
<polygon points="513.20,467.6 513.28,467.1 513.36,466.4 513.43,465.4 513.45,463.6 513.67,463.0 514.33,463.0 514.55,463.6 514.57,465.4 514.64,466.4 514.72,467.1 514.80,467.6" fill="#ff0000"/>
<polygon points="554.20,467.6 554.28,468.1 554.36,468.9 554.43,470.0 554.45,472.0 555.55,472.0 555.57,470.0 555.64,468.9 555.72,468.1 555.80,467.6" fill="#ff0000"/>
<polygon points="561.20,467.6 561.28,467.2 561.36,466.6 561.43,465.7 561.45,464.1 561.67,463.5 562.33,463.5 562.55,464.1 562.57,465.7 562.64,466.6 562.72,467.2 562.80,467.6" fill="#ff0000"/>
<polygon points="570.20,467.6 570.28,467.1 570.36,466.4 570.43,465.4 570.45,463.6 570.67,463.0 571.33,463.0 571.55,463.6 571.57,465.4 571.64,466.4 571.72,467.1 571.80,467.6" fill="#ff0000"/>
<polygon points="577.20,467.6 577.28,468.1 577.36,468.9 577.43,470.0 577.45,472.0 578.55,472.0 578.57,470.0 578.64,468.9 578.72,468.1 578.80,467.6" fill="#ff0000"/>
<polygon points="584.20,467.6 584.28,467.2 584.36,466.6 584.43,465.7 584.45,464.1 584.67,463.5 585.33,463.5 585.55,464.1 585.57,465.7 585.64,466.6 585.72,467.2 585.80,467.6" fill="#ff0000"/>
<polygon points="602.20,467.6 602.28,467.2 602.36,466.6 602.43,465.8 602.45,464.4 602.67,463.8 603.33,463.8 603.55,464.4 603.57,465.8 603.64,466.6 603.72,467.2 603.80,467.6" fill="#ff0000"/>
<polygon points="607.20,467.6 607.28,467.2 607.36,466.7 607.43,466.0 607.45,464.6 607.67,464.0 608.33,464.0 608.55,464.6 608.57,466.0 608.64,466.7 608.72,467.2 608.80,467.6" fill="#ff0000"/>
<polygon points="622.20,467.6 622.28,468.0 622.36,468.6 622.43,469.5 622.45,471.0 623.55,471.0 623.57,469.5 623.64,468.6 623.72,468.0 623.80,467.6" fill="#ff0000"/>
<polygon points="651.20,467.6 651.28,467.4 651.36,467.0 651.43,466.5 651.45,465.6 651.67,465.0 652.33,465.0 652.55,465.6 652.57,466.5 652.64,467.0 652.72,467.4 652.80,467.6" fill="#ff0000"/>
<polygon points="667.20,467.6 667.28,467.3 667.36,466.9 667.43,466.3 667.45,465.2 667.67,464.6 668.33,464.6 668.55,465.2 668.57,466.3 668.64,466.9 668.72,467.3 668.80,467.6" fill="#ff0000"/>
<text x="424.3" y="500.0" font-size="11" textLength="20.0" lengthAdjust="spacingAndGlyphs" stroke="#000" stroke-width="0.12">CDs</text>
<text x="443.5" y="476.4" font-size="11" textLength="20.6" lengthAdjust="spacingAndGlyphs" stroke="#000" stroke-width="0.12">9AA</text>
<text x="448.5" y="457.0" font-size="11.2" textLength="44.5" lengthAdjust="spacingAndGlyphs" stroke="#000" stroke-width="0.12">9AA/CDs</text>
<text x="514.4" y="327.7" font-size="12.3" textLength="35.0" lengthAdjust="spacingAndGlyphs" stroke="#000" stroke-width="0.12">169.122</text>
<text x="536.3" y="340.2" font-size="12.3" textLength="35.3" lengthAdjust="spacingAndGlyphs" stroke="#000" stroke-width="0.12">185.134</text>
<text x="541.6" y="439.6" font-size="11.1" textLength="31.5" lengthAdjust="spacingAndGlyphs" stroke="#000" stroke-width="0.12">195.074</text>
<line x1="548.3" y1="339.6" x2="540.2" y2="344.6" stroke="#222" stroke-width="0.9" stroke-dasharray="1.3,0.9"/>
<line x1="547.2" y1="442.2" x2="544.1" y2="451.6" stroke="#000" stroke-width="1.1" stroke-dasharray="1.2,1.1"/>
<text x="416.3" y="348.2" font-size="15.0" textLength="63.6" lengthAdjust="spacingAndGlyphs" stroke="#000" stroke-width="0.12">Glutamine</text>
<text x="377.3" y="326.1" font-size="12" stroke="#000" stroke-width="0.2" textLength="22.6" lengthAdjust="spacingAndGlyphs">×10<tspan dy="-2.4" font-size="9.6">5</tspan></text>
<text transform="translate(373.9,413.1) rotate(-90)" font-size="15.2" text-anchor="middle" stroke="#000" stroke-width="0.22" textLength="74.5" lengthAdjust="spacingAndGlyphs">Intens. [a.u.]</text>
<text x="526.4" y="541.2" font-size="15.2" textLength="23.2" lengthAdjust="spacingAndGlyphs" stroke="#000" stroke-width="0.12">m/z</text>
<text x="386.1" y="303.4" font-size="20" textLength="26.0" lengthAdjust="spacingAndGlyphs" font-weight="bold" font-family='"Liberation Sans","DejaVu Sans",sans-serif'>(d)</text>
</svg>
</body></html>
